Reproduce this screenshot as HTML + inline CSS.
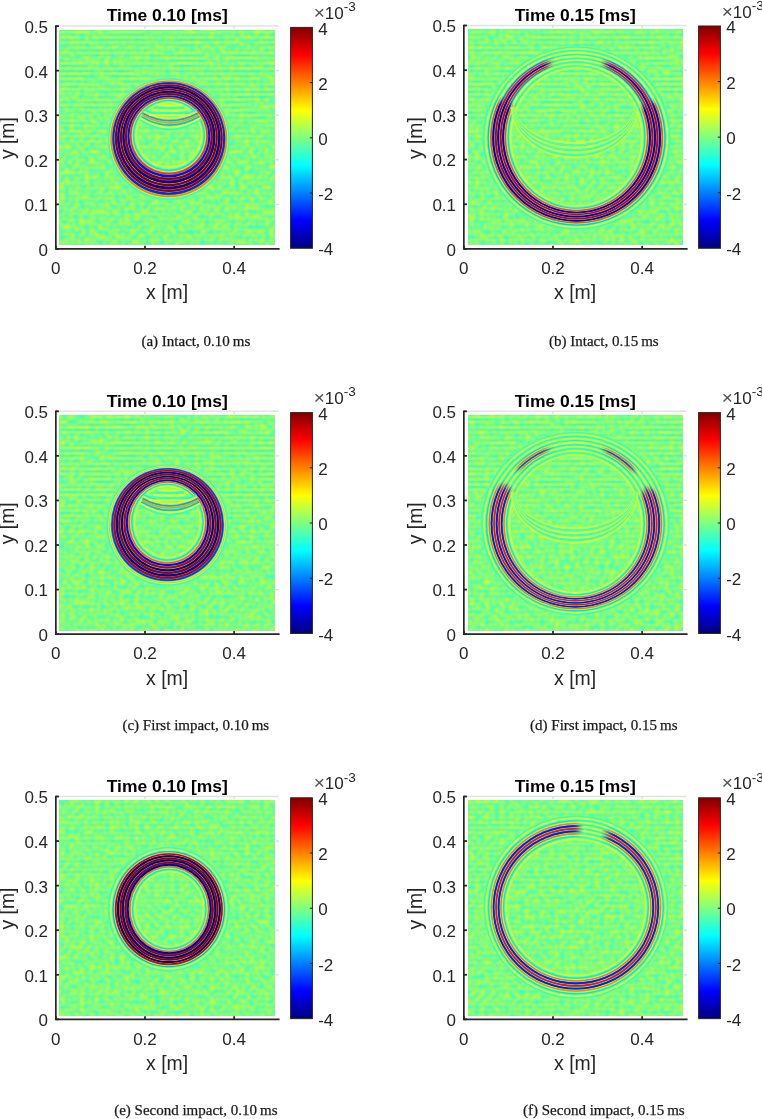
<!DOCTYPE html><html><head><meta charset="utf-8"><style>
html,body{margin:0;padding:0;background:#fff;}
svg{display:block}
.tk{font-family:"Liberation Sans",Arial,sans-serif;font-size:17px;fill:#262626}
.lb{font-family:"Liberation Sans",Arial,sans-serif;font-size:19.4px;fill:#262626}
.tt{font-family:"Liberation Sans",Arial,sans-serif;font-size:17px;font-weight:bold;fill:#000}
.cp{font-family:"Liberation Serif","Times New Roman",serif;font-size:15px;fill:#1a1a1a;stroke:#1a1a1a;stroke-width:0.25px}
</style></head><body>
<svg width="762" height="1119" viewBox="0 0 762 1119">
<defs><filter id="blur" x="-10%" y="-10%" width="120%" height="120%"><feGaussianBlur stdDeviation="0.45"/></filter>
<filter id="soft" x="-20%" y="-20%" width="140%" height="140%"><feGaussianBlur stdDeviation="5"/></filter>
<filter id="soft2" x="-20%" y="-20%" width="140%" height="140%"><feGaussianBlur stdDeviation="2"/></filter>
<linearGradient id="jet" x1="0" y1="0" x2="0" y2="1"><stop offset="0.0000" stop-color="#800000"/><stop offset="0.1250" stop-color="#ff0000"/><stop offset="0.3750" stop-color="#ffff00"/><stop offset="0.6250" stop-color="#00ffff"/><stop offset="0.8750" stop-color="#0000ff"/><stop offset="1.0000" stop-color="#000080"/></linearGradient><filter id="tia" x="0" y="0" width="1" height="1" color-interpolation-filters="sRGB"><feTurbulence type="fractalNoise" baseFrequency="0.2 0.2" numOctaves="1" seed="1"/><feGaussianBlur stdDeviation="0.6"/><feColorMatrix type="matrix" values="0.8 0 0 0 0.09999999999999998  0 0 0 0 0.99  -0.8 0 0 0 0.9  0 0 0 0 1"/></filter><filter id="tsa" x="0" y="0" width="1" height="1" color-interpolation-filters="sRGB"><feTurbulence type="fractalNoise" baseFrequency="0.035 0.09" numOctaves="1" seed="3" result="n"/><feColorMatrix in="n" type="matrix" values="0 0 0 0 0  0 0 0 0 0  0 0 0 0 0  2.6 0 0 0 -0.75" result="al"/><feGaussianBlur in="SourceGraphic" stdDeviation="0.5" result="sg"/><feComposite in="sg" in2="al" operator="in"/></filter><filter id="tib" x="0" y="0" width="1" height="1" color-interpolation-filters="sRGB"><feTurbulence type="fractalNoise" baseFrequency="0.2 0.2" numOctaves="1" seed="8"/><feGaussianBlur stdDeviation="0.6"/><feColorMatrix type="matrix" values="0.8 0 0 0 0.09999999999999998  0 0 0 0 0.99  -0.8 0 0 0 0.9  0 0 0 0 1"/></filter><filter id="tsb" x="0" y="0" width="1" height="1" color-interpolation-filters="sRGB"><feTurbulence type="fractalNoise" baseFrequency="0.035 0.09" numOctaves="1" seed="10" result="n"/><feColorMatrix in="n" type="matrix" values="0 0 0 0 0  0 0 0 0 0  0 0 0 0 0  2.6 0 0 0 -0.75" result="al"/><feGaussianBlur in="SourceGraphic" stdDeviation="0.5" result="sg"/><feComposite in="sg" in2="al" operator="in"/></filter><filter id="tic" x="0" y="0" width="1" height="1" color-interpolation-filters="sRGB"><feTurbulence type="fractalNoise" baseFrequency="0.2 0.2" numOctaves="1" seed="15"/><feGaussianBlur stdDeviation="0.6"/><feColorMatrix type="matrix" values="0.8 0 0 0 0.09999999999999998  0 0 0 0 0.99  -0.8 0 0 0 0.9  0 0 0 0 1"/></filter><filter id="tsc" x="0" y="0" width="1" height="1" color-interpolation-filters="sRGB"><feTurbulence type="fractalNoise" baseFrequency="0.035 0.09" numOctaves="1" seed="17" result="n"/><feColorMatrix in="n" type="matrix" values="0 0 0 0 0  0 0 0 0 0  0 0 0 0 0  2.6 0 0 0 -0.75" result="al"/><feGaussianBlur in="SourceGraphic" stdDeviation="0.5" result="sg"/><feComposite in="sg" in2="al" operator="in"/></filter><filter id="tid" x="0" y="0" width="1" height="1" color-interpolation-filters="sRGB"><feTurbulence type="fractalNoise" baseFrequency="0.2 0.2" numOctaves="1" seed="22"/><feGaussianBlur stdDeviation="0.6"/><feColorMatrix type="matrix" values="0.8 0 0 0 0.09999999999999998  0 0 0 0 0.99  -0.8 0 0 0 0.9  0 0 0 0 1"/></filter><filter id="tsd" x="0" y="0" width="1" height="1" color-interpolation-filters="sRGB"><feTurbulence type="fractalNoise" baseFrequency="0.035 0.09" numOctaves="1" seed="24" result="n"/><feColorMatrix in="n" type="matrix" values="0 0 0 0 0  0 0 0 0 0  0 0 0 0 0  2.6 0 0 0 -0.75" result="al"/><feGaussianBlur in="SourceGraphic" stdDeviation="0.5" result="sg"/><feComposite in="sg" in2="al" operator="in"/></filter><filter id="tie" x="0" y="0" width="1" height="1" color-interpolation-filters="sRGB"><feTurbulence type="fractalNoise" baseFrequency="0.2 0.2" numOctaves="1" seed="29"/><feGaussianBlur stdDeviation="0.6"/><feColorMatrix type="matrix" values="0.8 0 0 0 0.09999999999999998  0 0 0 0 0.99  -0.8 0 0 0 0.9  0 0 0 0 1"/></filter><filter id="tse" x="0" y="0" width="1" height="1" color-interpolation-filters="sRGB"><feTurbulence type="fractalNoise" baseFrequency="0.035 0.09" numOctaves="1" seed="31" result="n"/><feColorMatrix in="n" type="matrix" values="0 0 0 0 0  0 0 0 0 0  0 0 0 0 0  2.6 0 0 0 -0.75" result="al"/><feGaussianBlur in="SourceGraphic" stdDeviation="0.5" result="sg"/><feComposite in="sg" in2="al" operator="in"/></filter><filter id="tif" x="0" y="0" width="1" height="1" color-interpolation-filters="sRGB"><feTurbulence type="fractalNoise" baseFrequency="0.2 0.2" numOctaves="1" seed="36"/><feGaussianBlur stdDeviation="0.6"/><feColorMatrix type="matrix" values="0.8 0 0 0 0.09999999999999998  0 0 0 0 0.99  -0.8 0 0 0 0.9  0 0 0 0 1"/></filter><filter id="tsf" x="0" y="0" width="1" height="1" color-interpolation-filters="sRGB"><feTurbulence type="fractalNoise" baseFrequency="0.035 0.09" numOctaves="1" seed="38" result="n"/><feColorMatrix in="n" type="matrix" values="0 0 0 0 0  0 0 0 0 0  0 0 0 0 0  2.6 0 0 0 -0.75" result="al"/><feGaussianBlur in="SourceGraphic" stdDeviation="0.5" result="sg"/><feComposite in="sg" in2="al" operator="in"/></filter><pattern id="hs0" patternUnits="userSpaceOnUse" x="0" y="0" width="9" height="5.2"><rect x="0" y="0" width="9" height="1.9" fill="#c0ff40"/><rect x="0" y="1.9" width="9" height="0.7" fill="#80ff80"/><rect x="0" y="2.6" width="9" height="1.9" fill="#40f0c0"/><rect x="0" y="4.5" width="9" height="0.7" fill="#80ff80"/></pattern><pattern id="hs1" patternUnits="userSpaceOnUse" x="0" y="0" width="9" height="5.2"><rect x="0" y="0" width="9" height="1.9" fill="#c0ff40"/><rect x="0" y="1.9" width="9" height="0.7" fill="#80ff80"/><rect x="0" y="2.6" width="9" height="1.9" fill="#40f0c0"/><rect x="0" y="4.5" width="9" height="0.7" fill="#80ff80"/></pattern></defs>
<rect x="59.45" y="30.10" width="215.05" height="214.80" fill="#80fc80" filter="url(#tia)"/>
<g mask="url(#vma)"><rect x="59.45" y="30.10" width="215.05" height="214.80" fill="url(#hs0)" filter="url(#tsa)"/></g>
<linearGradient id="vga" x1="0" y1="0" x2="0" y2="1"><stop offset="0" stop-color="#fff" stop-opacity="0.65"/><stop offset="0.3" stop-color="#fff" stop-opacity="0.65"/><stop offset="0.6" stop-color="#fff" stop-opacity="0.15"/><stop offset="1" stop-color="#fff" stop-opacity="0.15"/></linearGradient>
<mask id="vma"><rect x="59.45" y="30.10" width="215.05" height="214.80" fill="url(#vga)"/></mask>
<g clip-path="url(#clipa)"><clipPath id="anna"><path clip-rule="evenodd" d="M107.15 139.31A61.63 61.66 0 1 0 230.42 139.31A61.63 61.66 0 1 0 107.15 139.31ZM137.65 134.79A31.26 30.67 0 1 0 200.16 134.79A31.26 30.67 0 1 0 137.65 134.79Z"/></clipPath><g clip-path="url(#anna)"><g filter="url(#blur)"><ellipse cx="168.79" cy="139.23" rx="61.14" ry="61.15" fill="#57ffa8"/>
<ellipse cx="168.79" cy="139.19" rx="60.84" ry="60.85" fill="#4bffb4"/>
<ellipse cx="168.79" cy="139.14" rx="60.54" ry="60.55" fill="#38ffc7"/>
<ellipse cx="168.79" cy="139.10" rx="60.25" ry="60.24" fill="#2affd5"/>
<ellipse cx="168.79" cy="139.05" rx="59.95" ry="59.94" fill="#28ffd7"/>
<ellipse cx="168.79" cy="139.01" rx="59.65" ry="59.64" fill="#46ffb9"/>
<ellipse cx="168.79" cy="138.97" rx="59.35" ry="59.33" fill="#81ff7e"/>
<ellipse cx="168.80" cy="138.92" rx="59.06" ry="59.03" fill="#cfff30"/>
<ellipse cx="168.80" cy="138.88" rx="58.76" ry="58.73" fill="#ffe100"/>
<ellipse cx="168.80" cy="138.83" rx="58.46" ry="58.43" fill="#ffa300"/>
<ellipse cx="168.80" cy="138.79" rx="58.17" ry="58.12" fill="#ff8200"/>
<ellipse cx="168.80" cy="138.75" rx="57.87" ry="57.82" fill="#ff8000"/>
<ellipse cx="168.80" cy="138.61" rx="56.98" ry="56.91" fill="#ffc300"/>
<ellipse cx="168.80" cy="138.57" rx="56.68" ry="56.61" fill="#00a5ff"/>
<ellipse cx="168.81" cy="138.52" rx="56.38" ry="56.30" fill="#0026ff"/>
<ellipse cx="168.81" cy="138.26" rx="54.60" ry="54.49" fill="#0029ff"/>
<ellipse cx="168.81" cy="138.22" rx="54.31" ry="54.18" fill="#d9ff26"/>
<ellipse cx="168.82" cy="138.17" rx="54.01" ry="53.88" fill="#930000"/>
<ellipse cx="168.82" cy="137.86" rx="51.93" ry="51.76" fill="#ff7e00"/>
<ellipse cx="168.83" cy="137.82" rx="51.63" ry="51.46" fill="#0002ff"/>
<ellipse cx="168.83" cy="137.77" rx="51.34" ry="51.15" fill="#0000ac"/>
<ellipse cx="168.83" cy="137.51" rx="49.55" ry="49.34" fill="#0000de"/>
<ellipse cx="168.83" cy="137.47" rx="49.26" ry="49.03" fill="#ffb800"/>
<ellipse cx="168.84" cy="137.42" rx="48.96" ry="48.73" fill="#8c0000"/>
<ellipse cx="168.84" cy="137.11" rx="46.88" ry="46.61" fill="#e5ff1a"/>
<ellipse cx="168.85" cy="137.07" rx="46.58" ry="46.31" fill="#0000b6"/>
<ellipse cx="168.85" cy="137.02" rx="46.29" ry="46.00" fill="#0000a6"/>
<ellipse cx="168.85" cy="136.76" rx="44.50" ry="44.19" fill="#003cff"/>
<ellipse cx="168.85" cy="136.72" rx="44.21" ry="43.88" fill="#ff3600"/>
<ellipse cx="168.86" cy="136.67" rx="43.91" ry="43.58" fill="#990000"/>
<ellipse cx="168.86" cy="136.41" rx="42.13" ry="41.76" fill="#a50000"/>
<ellipse cx="168.86" cy="136.36" rx="41.83" ry="41.46" fill="#73ff8c"/>
<ellipse cx="168.87" cy="136.32" rx="41.53" ry="41.16" fill="#000dff"/>
<ellipse cx="168.87" cy="136.01" rx="39.45" ry="39.03" fill="#00e0ff"/>
<ellipse cx="168.88" cy="135.96" rx="39.16" ry="38.73" fill="#ff5b00"/>
<ellipse cx="168.88" cy="135.92" rx="38.86" ry="38.43" fill="#ff3300"/>
<ellipse cx="168.88" cy="135.79" rx="37.97" ry="37.52" fill="#ff3800"/>
<ellipse cx="168.88" cy="135.74" rx="37.67" ry="37.22" fill="#ff5b00"/>
<ellipse cx="168.88" cy="135.70" rx="37.38" ry="36.91" fill="#ff9b00"/>
<ellipse cx="168.88" cy="135.66" rx="37.08" ry="36.61" fill="#ffef00"/>
<ellipse cx="168.88" cy="135.61" rx="36.78" ry="36.31" fill="#b2ff4d"/>
<ellipse cx="168.89" cy="135.57" rx="36.48" ry="36.00" fill="#5affa5"/>
<ellipse cx="168.89" cy="135.52" rx="36.19" ry="35.70" fill="#13ffec"/>
<ellipse cx="168.89" cy="135.48" rx="35.89" ry="35.40" fill="#00e5ff"/>
<ellipse cx="168.89" cy="135.44" rx="35.59" ry="35.10" fill="#00d9ff"/>
<ellipse cx="168.89" cy="135.39" rx="35.30" ry="34.79" fill="#00e5ff"/>
<ellipse cx="168.89" cy="135.35" rx="35.00" ry="34.49" fill="#03fffc"/>
<ellipse cx="168.89" cy="135.30" rx="34.70" ry="34.19" fill="#2dffd2"/>
<ellipse cx="168.89" cy="135.26" rx="34.41" ry="33.88" fill="#5effa1"/>
<ellipse cx="168.90" cy="135.21" rx="34.11" ry="33.58" fill="#8fff70"/>
<ellipse cx="168.90" cy="135.17" rx="33.81" ry="33.28" fill="#b9ff46"/>
<ellipse cx="168.90" cy="135.13" rx="33.51" ry="32.97" fill="#d7ff28"/>
<ellipse cx="168.90" cy="135.08" rx="33.22" ry="32.67" fill="#e5ff1a"/>
<ellipse cx="168.90" cy="135.04" rx="32.92" ry="32.37" fill="#e1ff1e"/>
<ellipse cx="168.90" cy="134.99" rx="32.62" ry="32.07" fill="#d0ff2f"/>
<ellipse cx="168.90" cy="134.95" rx="32.33" ry="31.76" fill="#b7ff48"/>
<ellipse cx="168.90" cy="134.91" rx="32.03" ry="31.46" fill="#9cff63"/>
<ellipse cx="168.91" cy="134.86" rx="31.73" ry="31.16" fill="#88ff77"/>
<ellipse cx="168.91" cy="134.82" rx="31.44" ry="30.85" fill="#80ff7f"/></g></g><g filter="url(#blur)"><path d="M144.07 109.70Q169.35 122.30 196.63 109.70" fill="none" stroke="#00ffff" stroke-width="1.7"/><path d="M143.35 111.50Q169.35 125.30 197.35 111.50" fill="none" stroke="#ffe500" stroke-width="1.7"/><path d="M142.66 113.22Q169.35 128.18 198.04 113.22" fill="none" stroke="#00a6ff" stroke-width="1.7"/><path d="M142.03 114.80Q169.35 130.80 198.67 114.80" fill="none" stroke="#ff9900" stroke-width="1.7"/><path d="M141.31 116.60Q169.35 133.80 199.39 116.60" fill="none" stroke="#00bfff" stroke-width="1.7"/><path d="M140.62 118.33Q169.35 136.68 200.08 118.33" fill="none" stroke="#f2ff0d" stroke-width="1.7"/><path d="M139.99 119.90Q169.35 139.30 200.71 119.90" fill="none" stroke="#26ffd9" stroke-width="1.7"/><path d="M158.00 104.90Q169.85 106.40 181.70 104.90" fill="none" stroke="#ffff00" stroke-width="2" opacity="0.8"/><path d="M155.75 107.40Q169.85 108.90 183.95 107.40" fill="none" stroke="#0dfff2" stroke-width="2" opacity="0.8"/><path d="M153.50 109.90Q169.85 111.40 186.20 109.90" fill="none" stroke="#ffff00" stroke-width="2" opacity="0.8"/><path d="M151.25 112.40Q169.85 113.90 188.45 112.40" fill="none" stroke="#0dfff2" stroke-width="2" opacity="0.8"/><path d="M149.09 114.80Q169.85 116.30 190.61 114.80" fill="none" stroke="#f2ff0d" stroke-width="2" opacity="0.8"/></g></g>
<clipPath id="clipa"><rect x="59.45" y="30.10" width="215.05" height="214.80"/></clipPath>
<path d="M55.85 26.10H278.70" fill="none" stroke="#e2e2e2" stroke-width="1.5"/>
<path d="M278.70 26.10V248.95" fill="none" stroke="#f4f4f4" stroke-width="1"/>
<path d="M55.85 25.30V248.95H279.60" fill="none" stroke="#262626" stroke-width="1.7"/>
<path d="M55.85 248.95h3.1" stroke="#262626" stroke-width="1.8"/>
<text x="48.05" y="255.85" text-anchor="end" class="tk">0</text>
<path d="M55.85 204.38h3.1" stroke="#262626" stroke-width="1.8"/>
<path d="M278.70 204.38h-2.8" stroke="#d8d8d8" stroke-width="1.2"/>
<text x="48.05" y="211.28" text-anchor="end" class="tk">0.1</text>
<path d="M55.85 159.81h3.1" stroke="#262626" stroke-width="1.8"/>
<path d="M278.70 159.81h-2.8" stroke="#d8d8d8" stroke-width="1.2"/>
<text x="48.05" y="166.71" text-anchor="end" class="tk">0.2</text>
<path d="M55.85 115.24h3.1" stroke="#262626" stroke-width="1.8"/>
<path d="M278.70 115.24h-2.8" stroke="#d8d8d8" stroke-width="1.2"/>
<text x="48.05" y="122.14" text-anchor="end" class="tk">0.3</text>
<path d="M55.85 70.67h3.1" stroke="#262626" stroke-width="1.8"/>
<path d="M278.70 70.67h-2.8" stroke="#d8d8d8" stroke-width="1.2"/>
<text x="48.05" y="77.57" text-anchor="end" class="tk">0.4</text>
<path d="M55.85 26.10h3.1" stroke="#262626" stroke-width="1.8"/>
<text x="48.05" y="33.00" text-anchor="end" class="tk">0.5</text>
<path d="M55.85 248.95v-3.1" stroke="#262626" stroke-width="1.8"/>
<text x="55.85" y="274.25" text-anchor="middle" class="tk">0</text>
<path d="M144.99 248.95v-3.1" stroke="#262626" stroke-width="1.8"/>
<path d="M144.99 26.10v2.8" stroke="#d8d8d8" stroke-width="1.2"/>
<text x="144.99" y="274.25" text-anchor="middle" class="tk">0.2</text>
<path d="M234.13 248.95v-3.1" stroke="#262626" stroke-width="1.8"/>
<path d="M234.13 26.10v2.8" stroke="#d8d8d8" stroke-width="1.2"/>
<text x="234.13" y="274.25" text-anchor="middle" class="tk">0.4</text>
<text x="167.08" y="299.35" text-anchor="middle" class="lb">x [m]</text>
<text transform="translate(13.95 138.12) rotate(-90)" text-anchor="middle" class="lb">y [m]</text>
<text x="167.28" y="21.40" text-anchor="middle" class="tt" textLength="121" lengthAdjust="spacingAndGlyphs">Time 0.10 [ms]</text>
<rect x="290.60" y="27.40" width="21.80" height="220.85" fill="url(#jet)" stroke="#262626" stroke-width="1"/>
<text x="318.20" y="34.60" class="tk">4</text>
<text x="318.20" y="89.81" class="tk">2</text>
<path d="M312.40 82.61h-2.6" stroke="#262626" stroke-width="1.1"/>
<text x="318.20" y="145.02" class="tk">0</text>
<path d="M312.40 137.82h-2.6" stroke="#262626" stroke-width="1.1"/>
<text x="318.20" y="200.24" class="tk">-2</text>
<path d="M312.40 193.04h-2.6" stroke="#262626" stroke-width="1.1"/>
<text x="318.20" y="255.45" class="tk">-4</text>
<text x="313.70" y="18.70" class="tk"><tspan font-size="19" fill="#505050">×</tspan>10<tspan dy="-7.6" font-size="13.5">-3</tspan></text>
<text x="195.85" y="345.60" text-anchor="middle" class="cp">(a) Intact, 0.10 ms</text>
<rect x="468.25" y="29.50" width="214.25" height="215.40" fill="#80fc80" filter="url(#tib)"/>
<g mask="url(#vmb)"><rect x="468.25" y="29.50" width="214.25" height="215.40" fill="url(#hs1)" filter="url(#tsb)"/></g>
<linearGradient id="vgb" x1="0" y1="0" x2="0" y2="1"><stop offset="0" stop-color="#fff" stop-opacity="0.6"/><stop offset="0.3" stop-color="#fff" stop-opacity="0.6"/><stop offset="0.6" stop-color="#fff" stop-opacity="0.2"/><stop offset="1" stop-color="#fff" stop-opacity="0.2"/></linearGradient>
<mask id="vmb"><rect x="468.25" y="29.50" width="214.25" height="215.40" fill="url(#vgb)"/></mask>
<g clip-path="url(#clipb)"><clipPath id="annb"><path clip-rule="evenodd" d="M482.08 138.03A94.59 92.22 0 1 0 671.26 138.03A94.59 92.22 0 1 0 482.08 138.03ZM512.34 136.99A64.15 67.64 0 1 0 640.64 136.99A64.15 67.64 0 1 0 512.34 136.99Z"/></clipPath><g clip-path="url(#annb)"><mask id="mbs" maskUnits="userSpaceOnUse" x="0" y="0" width="762" height="1119"><g filter="url(#soft2)"><path d="M576.6 137.9 L436.7 136.4 L436.8 144.3Z" fill="#ffffff"/><path d="M576.6 137.9 L436.7 141.3 L437.1 149.1Z" fill="#ffffff"/><path d="M576.6 137.9 L436.9 146.2 L437.6 154.0Z" fill="#ffffff"/><path d="M576.6 137.9 L437.3 151.1 L438.2 158.8Z" fill="#ffffff"/><path d="M576.6 137.9 L437.8 155.9 L439.0 163.7Z" fill="#ffffff"/><path d="M576.6 137.9 L438.5 160.8 L440.0 168.4Z" fill="#ffffff"/><path d="M576.6 137.9 L439.4 165.6 L441.2 173.2Z" fill="#ffffff"/><path d="M576.6 137.9 L440.5 170.3 L442.5 177.9Z" fill="#ffffff"/><path d="M576.6 137.9 L441.7 175.1 L444.0 182.6Z" fill="#ffffff"/><path d="M576.6 137.9 L443.1 179.8 L445.6 187.2Z" fill="#ffffff"/><path d="M576.6 137.9 L444.6 184.4 L447.4 191.7Z" fill="#ffffff"/><path d="M576.6 137.9 L446.3 189.0 L449.4 196.2Z" fill="#ffffff"/><path d="M576.6 137.9 L448.2 193.5 L451.5 200.6Z" fill="#ffffff"/><path d="M576.6 137.9 L450.2 198.0 L453.7 204.9Z" fill="#ffffff"/><path d="M576.6 137.9 L452.4 202.3 L456.1 209.2Z" fill="#ffffff"/><path d="M576.6 137.9 L454.7 206.6 L458.7 213.3Z" fill="#ffffff"/><path d="M576.6 137.9 L457.2 210.8 L461.4 217.4Z" fill="#ffffff"/><path d="M576.6 137.9 L459.8 215.0 L464.3 221.4Z" fill="#ffffff"/><path d="M576.6 137.9 L462.5 219.0 L467.2 225.2Z" fill="#ffffff"/><path d="M576.6 137.9 L465.4 222.9 L470.4 229.0Z" fill="#ffffff"/><path d="M576.6 137.9 L468.5 226.8 L473.6 232.7Z" fill="#ffffff"/><path d="M576.6 137.9 L471.6 230.5 L477.0 236.2Z" fill="#ffffff"/><path d="M576.6 137.9 L474.9 234.1 L480.5 239.6Z" fill="#ffffff"/><path d="M576.6 137.9 L478.3 237.6 L484.1 242.9Z" fill="#ffffff"/><path d="M576.6 137.9 L481.9 241.0 L487.8 246.1Z" fill="#ffffff"/><path d="M576.6 137.9 L485.5 244.2 L491.6 249.1Z" fill="#ffffff"/><path d="M576.6 137.9 L489.3 247.3 L495.6 252.0Z" fill="#ffffff"/><path d="M576.6 137.9 L493.2 250.3 L499.6 254.8Z" fill="#ffffff"/><path d="M576.6 137.9 L497.2 253.1 L503.7 257.4Z" fill="#ffffff"/><path d="M576.6 137.9 L501.2 255.8 L507.9 259.9Z" fill="#ffffff"/><path d="M576.6 137.9 L505.4 258.4 L512.2 262.2Z" fill="#ffffff"/><path d="M576.6 137.9 L509.6 260.8 L516.6 264.4Z" fill="#ffffff"/><path d="M576.6 137.9 L514.0 263.1 L521.0 266.4Z" fill="#ffffff"/><path d="M576.6 137.9 L518.4 265.2 L525.6 268.2Z" fill="#ffffff"/><path d="M576.6 137.9 L522.8 267.1 L530.1 270.0Z" fill="#ffffff"/><path d="M576.6 137.9 L527.4 268.9 L534.8 271.5Z" fill="#ffffff"/><path d="M576.6 137.9 L532.0 270.6 L539.5 272.9Z" fill="#ffffff"/><path d="M576.6 137.9 L536.7 272.1 L544.2 274.1Z" fill="#ffffff"/><path d="M576.6 137.9 L541.4 273.4 L549.0 275.1Z" fill="#ffffff"/><path d="M576.6 137.9 L546.1 274.5 L553.8 276.0Z" fill="#ffffff"/><path d="M576.6 137.9 L550.9 275.5 L558.6 276.7Z" fill="#ffffff"/><path d="M576.6 137.9 L555.7 276.3 L563.5 277.3Z" fill="#ffffff"/><path d="M576.6 137.9 L560.6 277.0 L568.3 277.7Z" fill="#ffffff"/><path d="M576.6 137.9 L565.4 277.4 L573.2 277.9Z" fill="#ffffff"/><path d="M576.6 137.9 L570.3 277.8 L578.1 277.9Z" fill="#ffffff"/><path d="M576.6 137.9 L575.2 277.9 L583.0 277.8Z" fill="#ffffff"/><path d="M576.6 137.9 L580.1 277.9 L587.9 277.4Z" fill="#ffffff"/><path d="M576.6 137.9 L585.0 277.7 L592.7 277.0Z" fill="#ffffff"/><path d="M576.6 137.9 L589.8 277.3 L597.6 276.3Z" fill="#ffffff"/><path d="M576.6 137.9 L594.7 276.7 L602.4 275.5Z" fill="#ffffff"/><path d="M576.6 137.9 L599.5 276.0 L607.2 274.5Z" fill="#ffffff"/><path d="M576.6 137.9 L604.3 275.1 L611.9 273.4Z" fill="#ffffff"/><path d="M576.6 137.9 L609.1 274.1 L616.6 272.1Z" fill="#ffffff"/><path d="M576.6 137.9 L613.8 272.9 L621.3 270.6Z" fill="#ffffff"/><path d="M576.6 137.9 L618.5 271.5 L625.9 268.9Z" fill="#ffffff"/><path d="M576.6 137.9 L623.2 270.0 L630.5 267.1Z" fill="#ffffff"/><path d="M576.6 137.9 L627.7 268.2 L634.9 265.2Z" fill="#ffffff"/><path d="M576.6 137.9 L632.3 266.4 L639.3 263.1Z" fill="#ffffff"/><path d="M576.6 137.9 L636.7 264.4 L643.7 260.8Z" fill="#ffffff"/><path d="M576.6 137.9 L641.1 262.2 L647.9 258.4Z" fill="#ffffff"/><path d="M576.6 137.9 L645.4 259.9 L652.1 255.8Z" fill="#ffffff"/><path d="M576.6 137.9 L649.6 257.4 L656.1 253.1Z" fill="#ffffff"/><path d="M576.6 137.9 L653.7 254.8 L660.1 250.3Z" fill="#ffffff"/><path d="M576.6 137.9 L657.7 252.0 L664.0 247.3Z" fill="#ffffff"/><path d="M576.6 137.9 L661.7 249.1 L667.8 244.2Z" fill="#ffffff"/><path d="M576.6 137.9 L665.5 246.1 L671.4 241.0Z" fill="#ffffff"/><path d="M576.6 137.9 L669.2 242.9 L675.0 237.6Z" fill="#ffffff"/><path d="M576.6 137.9 L672.8 239.6 L678.4 234.1Z" fill="#ffffff"/><path d="M576.6 137.9 L676.3 236.2 L681.7 230.5Z" fill="#ffffff"/><path d="M576.6 137.9 L679.7 232.7 L684.8 226.8Z" fill="#ffffff"/><path d="M576.6 137.9 L682.9 229.0 L687.9 222.9Z" fill="#ffffff"/><path d="M576.6 137.9 L686.1 225.2 L690.8 219.0Z" fill="#ffffff"/><path d="M576.6 137.9 L689.0 221.4 L693.5 215.0Z" fill="#ffffff"/><path d="M576.6 137.9 L691.9 217.4 L696.1 210.8Z" fill="#ffffff"/><path d="M576.6 137.9 L694.6 213.3 L698.6 206.6Z" fill="#ffffff"/><path d="M576.6 137.9 L697.2 209.2 L700.9 202.3Z" fill="#ffffff"/><path d="M576.6 137.9 L699.6 204.9 L703.1 198.0Z" fill="#ffffff"/><path d="M576.6 137.9 L701.8 200.6 L705.1 193.5Z" fill="#ffffff"/><path d="M576.6 137.9 L703.9 196.2 L707.0 189.0Z" fill="#ffffff"/><path d="M576.6 137.9 L705.9 191.7 L708.7 184.4Z" fill="#ffffff"/><path d="M576.6 137.9 L707.7 187.2 L710.2 179.8Z" fill="#ffffff"/><path d="M576.6 137.9 L709.3 182.6 L711.6 175.1Z" fill="#ffffff"/><path d="M576.6 137.9 L710.8 177.9 L712.8 170.3Z" fill="#ffffff"/><path d="M576.6 137.9 L712.1 173.2 L713.9 165.6Z" fill="#ffffff"/><path d="M576.6 137.9 L713.3 168.4 L714.8 160.8Z" fill="#ffffff"/><path d="M576.6 137.9 L714.3 163.7 L715.5 155.9Z" fill="#ffffff"/><path d="M576.6 137.9 L715.1 158.8 L716.0 151.1Z" fill="#ffffff"/><path d="M576.6 137.9 L715.7 154.0 L716.4 146.2Z" fill="#ffffff"/><path d="M576.6 137.9 L716.2 149.1 L716.6 141.3Z" fill="#ffffff"/><path d="M576.6 137.9 L716.5 144.3 L716.6 136.4Z" fill="#ffffff"/><path d="M576.6 137.9 L716.6 139.4 L716.5 131.5Z" fill="#ffffff"/><path d="M576.6 137.9 L716.6 134.5 L716.2 126.7Z" fill="#ffffff"/><path d="M576.6 137.9 L716.4 129.6 L715.7 121.8Z" fill="#ffffff"/><path d="M576.6 137.9 L716.0 124.7 L715.1 117.0Z" fill="#ffffff"/><path d="M576.6 137.9 L715.5 119.9 L714.3 112.1Z" fill="#ffffff"/><path d="M576.6 137.9 L714.8 115.0 L713.3 107.4Z" fill="#ffffff"/><path d="M576.6 137.9 L713.9 110.2 L712.1 102.6Z" fill="#ffffff"/><path d="M576.6 137.9 L712.8 105.5 L710.8 97.9Z" fill="#ffffff"/><path d="M576.6 137.9 L711.6 100.7 L709.3 93.2Z" fill="#ffffff"/><path d="M576.6 137.9 L710.2 96.0 L707.7 88.6Z" fill="#ffffff"/><path d="M576.6 137.9 L708.7 91.4 L705.9 84.1Z" fill="#ffffff"/><path d="M576.6 137.9 L707.0 86.8 L703.9 79.6Z" fill="#ffffff"/><path d="M576.6 137.9 L705.1 82.3 L701.8 75.2Z" fill="#808080"/><path d="M576.6 137.9 L703.1 77.8 L699.6 70.9Z" fill="#000000"/><path d="M576.6 137.9 L700.9 73.5 L697.2 66.6Z" fill="#000000"/><path d="M576.6 137.9 L698.6 69.2 L694.6 62.5Z" fill="#000000"/><path d="M576.6 137.9 L696.1 65.0 L691.9 58.4Z" fill="#000000"/><path d="M576.6 137.9 L693.5 60.8 L689.0 54.4Z" fill="#000000"/><path d="M576.6 137.9 L690.8 56.8 L686.1 50.6Z" fill="#000000"/><path d="M576.6 137.9 L687.9 52.9 L682.9 46.8Z" fill="#000000"/><path d="M576.6 137.9 L684.8 49.0 L679.7 43.1Z" fill="#000000"/><path d="M576.6 137.9 L681.7 45.3 L676.3 39.6Z" fill="#000000"/><path d="M576.6 137.9 L678.4 41.7 L672.8 36.2Z" fill="#000000"/><path d="M576.6 137.9 L675.0 38.2 L669.2 32.9Z" fill="#000000"/><path d="M576.6 137.9 L671.4 34.8 L665.5 29.7Z" fill="#000000"/><path d="M576.6 137.9 L667.8 31.6 L661.7 26.7Z" fill="#000000"/><path d="M576.6 137.9 L664.0 28.5 L657.7 23.8Z" fill="#000000"/><path d="M576.6 137.9 L660.1 25.5 L653.7 21.0Z" fill="#000000"/><path d="M576.6 137.9 L656.1 22.7 L649.6 18.4Z" fill="#000000"/><path d="M576.6 137.9 L652.1 20.0 L645.4 15.9Z" fill="#000000"/><path d="M576.6 137.9 L647.9 17.4 L641.1 13.6Z" fill="#000000"/><path d="M576.6 137.9 L643.7 15.0 L636.7 11.4Z" fill="#000000"/><path d="M576.6 137.9 L639.3 12.7 L632.3 9.4Z" fill="#000000"/><path d="M576.6 137.9 L634.9 10.6 L627.7 7.6Z" fill="#000000"/><path d="M576.6 137.9 L630.5 8.7 L623.2 5.8Z" fill="#000000"/><path d="M576.6 137.9 L625.9 6.9 L618.5 4.3Z" fill="#000000"/><path d="M576.6 137.9 L621.3 5.2 L613.8 2.9Z" fill="#000000"/><path d="M576.6 137.9 L616.6 3.7 L609.1 1.7Z" fill="#000000"/><path d="M576.6 137.9 L611.9 2.4 L604.3 0.7Z" fill="#000000"/><path d="M576.6 137.9 L607.2 1.3 L599.5 -0.2Z" fill="#000000"/><path d="M576.6 137.9 L602.4 0.3 L594.7 -0.9Z" fill="#000000"/><path d="M576.6 137.9 L597.6 -0.5 L589.8 -1.5Z" fill="#000000"/><path d="M576.6 137.9 L592.7 -1.2 L585.0 -1.9Z" fill="#000000"/><path d="M576.6 137.9 L587.9 -1.6 L580.1 -2.1Z" fill="#000000"/><path d="M576.6 137.9 L583.0 -2.0 L575.2 -2.1Z" fill="#000000"/><path d="M576.6 137.9 L578.1 -2.1 L570.3 -2.0Z" fill="#000000"/><path d="M576.6 137.9 L573.2 -2.1 L565.4 -1.6Z" fill="#000000"/><path d="M576.6 137.9 L568.3 -1.9 L560.6 -1.2Z" fill="#000000"/><path d="M576.6 137.9 L563.5 -1.5 L555.7 -0.5Z" fill="#000000"/><path d="M576.6 137.9 L558.6 -0.9 L550.9 0.3Z" fill="#000000"/><path d="M576.6 137.9 L553.8 -0.2 L546.1 1.3Z" fill="#000000"/><path d="M576.6 137.9 L549.0 0.7 L541.4 2.4Z" fill="#000000"/><path d="M576.6 137.9 L544.2 1.7 L536.7 3.7Z" fill="#000000"/><path d="M576.6 137.9 L539.5 2.9 L532.0 5.2Z" fill="#000000"/><path d="M576.6 137.9 L534.8 4.3 L527.4 6.9Z" fill="#000000"/><path d="M576.6 137.9 L530.1 5.8 L522.8 8.7Z" fill="#000000"/><path d="M576.6 137.9 L525.6 7.6 L518.4 10.6Z" fill="#000000"/><path d="M576.6 137.9 L521.0 9.4 L514.0 12.7Z" fill="#000000"/><path d="M576.6 137.9 L516.6 11.4 L509.6 15.0Z" fill="#000000"/><path d="M576.6 137.9 L512.2 13.6 L505.4 17.4Z" fill="#000000"/><path d="M576.6 137.9 L507.9 15.9 L501.2 20.0Z" fill="#000000"/><path d="M576.6 137.9 L503.7 18.4 L497.2 22.7Z" fill="#000000"/><path d="M576.6 137.9 L499.6 21.0 L493.2 25.5Z" fill="#000000"/><path d="M576.6 137.9 L495.6 23.8 L489.3 28.5Z" fill="#000000"/><path d="M576.6 137.9 L491.6 26.7 L485.5 31.6Z" fill="#000000"/><path d="M576.6 137.9 L487.8 29.7 L481.9 34.8Z" fill="#000000"/><path d="M576.6 137.9 L484.1 32.9 L478.3 38.2Z" fill="#000000"/><path d="M576.6 137.9 L480.5 36.2 L474.9 41.7Z" fill="#000000"/><path d="M576.6 137.9 L477.0 39.6 L471.6 45.3Z" fill="#000000"/><path d="M576.6 137.9 L473.6 43.1 L468.5 49.0Z" fill="#000000"/><path d="M576.6 137.9 L470.4 46.8 L465.4 52.9Z" fill="#000000"/><path d="M576.6 137.9 L467.2 50.6 L462.5 56.8Z" fill="#000000"/><path d="M576.6 137.9 L464.3 54.4 L459.8 60.8Z" fill="#000000"/><path d="M576.6 137.9 L461.4 58.4 L457.2 65.0Z" fill="#000000"/><path d="M576.6 137.9 L458.7 62.5 L454.7 69.2Z" fill="#000000"/><path d="M576.6 137.9 L456.1 66.6 L452.4 73.5Z" fill="#000000"/><path d="M576.6 137.9 L453.7 70.9 L450.2 77.8Z" fill="#000000"/><path d="M576.6 137.9 L451.5 75.2 L448.2 82.3Z" fill="#808080"/><path d="M576.6 137.9 L449.4 79.6 L446.3 86.8Z" fill="#ffffff"/><path d="M576.6 137.9 L447.4 84.1 L444.6 91.4Z" fill="#ffffff"/><path d="M576.6 137.9 L445.6 88.6 L443.1 96.0Z" fill="#ffffff"/><path d="M576.6 137.9 L444.0 93.2 L441.7 100.7Z" fill="#ffffff"/><path d="M576.6 137.9 L442.5 97.9 L440.5 105.5Z" fill="#ffffff"/><path d="M576.6 137.9 L441.2 102.6 L439.4 110.2Z" fill="#ffffff"/><path d="M576.6 137.9 L440.0 107.4 L438.5 115.0Z" fill="#ffffff"/><path d="M576.6 137.9 L439.0 112.1 L437.8 119.9Z" fill="#ffffff"/><path d="M576.6 137.9 L438.2 117.0 L437.3 124.7Z" fill="#ffffff"/><path d="M576.6 137.9 L437.6 121.8 L436.9 129.6Z" fill="#ffffff"/><path d="M576.6 137.9 L437.1 126.7 L436.7 134.5Z" fill="#ffffff"/><path d="M576.6 137.9 L436.8 131.5 L436.7 139.4Z" fill="#ffffff"/></g></mask><g filter="url(#blur)"><ellipse cx="576.67" cy="138.01" rx="94.09" ry="91.82" fill="#57ffa8"/>
<ellipse cx="576.67" cy="138.00" rx="93.76" ry="91.55" fill="#48ffb7"/>
<ellipse cx="576.67" cy="137.99" rx="93.43" ry="91.28" fill="#33ffcc"/>
<ellipse cx="576.66" cy="137.98" rx="93.10" ry="91.02" fill="#27ffd8"/>
<ellipse cx="576.66" cy="137.97" rx="92.77" ry="90.75" fill="#2effd1"/>
<ellipse cx="576.66" cy="137.95" rx="92.43" ry="90.48" fill="#4effb1"/>
<ellipse cx="576.66" cy="137.94" rx="92.10" ry="90.21" fill="#7eff81"/>
<ellipse cx="576.66" cy="137.93" rx="91.77" ry="89.94" fill="#b2ff4d"/>
<ellipse cx="576.65" cy="137.92" rx="91.44" ry="89.67" fill="#ddff22"/>
<ellipse cx="576.65" cy="137.91" rx="91.11" ry="89.41" fill="#f1ff0e"/>
<ellipse cx="576.65" cy="137.90" rx="90.77" ry="89.14" fill="#edff12"/>
<ellipse cx="576.65" cy="137.89" rx="90.44" ry="88.87" fill="#d4ff2b"/>
<ellipse cx="576.65" cy="137.87" rx="90.11" ry="88.60" fill="#acff53"/>
<ellipse cx="576.64" cy="137.86" rx="89.78" ry="88.33" fill="#7bff84"/>
<ellipse cx="576.64" cy="137.85" rx="89.45" ry="88.07" fill="#49ffb6"/>
<ellipse cx="576.64" cy="137.84" rx="89.11" ry="87.80" fill="#20ffdf"/>
<ellipse cx="576.64" cy="137.83" rx="88.78" ry="87.53" fill="#07fff8"/>
<ellipse cx="576.64" cy="137.82" rx="88.45" ry="87.26" fill="#00ffff"/>
<ellipse cx="576.63" cy="137.81" rx="88.12" ry="86.99" fill="#10ffef"/>
<ellipse cx="576.63" cy="137.80" rx="87.79" ry="86.73" fill="#33ffcc"/>
<ellipse cx="576.63" cy="137.78" rx="87.45" ry="86.46" fill="#63ff9c"/>
<ellipse cx="576.63" cy="137.77" rx="87.12" ry="86.19" fill="#98ff67"/>
<ellipse cx="576.63" cy="137.76" rx="86.79" ry="85.92" fill="#c8ff37"/>
<ellipse cx="576.62" cy="137.75" rx="86.46" ry="85.65" fill="#edff12"/>
<ellipse cx="576.62" cy="137.74" rx="86.13" ry="85.39" fill="#feff01"/>
<ellipse cx="576.62" cy="137.73" rx="85.80" ry="85.12" fill="#f9ff06"/>
<ellipse cx="576.62" cy="137.72" rx="85.46" ry="84.85" fill="#dfff20"/>
<ellipse cx="576.62" cy="137.71" rx="85.13" ry="84.58" fill="#b3ff4c"/>
<ellipse cx="576.61" cy="137.69" rx="84.80" ry="84.31" fill="#7dff82"/>
<ellipse cx="576.61" cy="137.68" rx="84.47" ry="84.05" fill="#46ffb9"/>
<ellipse cx="576.61" cy="137.67" rx="84.14" ry="83.78" fill="#18ffe7"/>
<ellipse cx="576.61" cy="137.66" rx="83.80" ry="83.51" fill="#00faff"/>
<ellipse cx="576.61" cy="137.65" rx="83.47" ry="83.24" fill="#00f3ff"/>
<ellipse cx="576.60" cy="137.64" rx="83.14" ry="82.97" fill="#05fffa"/>
<ellipse cx="576.60" cy="137.63" rx="82.81" ry="82.71" fill="#2cffd3"/>
<ellipse cx="576.60" cy="137.61" rx="82.48" ry="82.44" fill="#63ff9c"/>
<ellipse cx="576.60" cy="137.60" rx="82.14" ry="82.17" fill="#9fff60"/>
<ellipse cx="576.60" cy="137.59" rx="81.81" ry="81.90" fill="#d8ff27"/>
<ellipse cx="576.59" cy="137.58" rx="81.48" ry="81.63" fill="#fffc00"/>
<ellipse cx="576.59" cy="137.57" rx="81.15" ry="81.36" fill="#ffe700"/>
<ellipse cx="576.59" cy="137.56" rx="80.82" ry="81.10" fill="#ffeb00"/>
<ellipse cx="576.59" cy="137.55" rx="80.48" ry="80.83" fill="#f7ff08"/>
<ellipse cx="576.59" cy="137.54" rx="80.15" ry="80.56" fill="#c7ff38"/>
<ellipse cx="576.58" cy="137.52" rx="79.82" ry="80.29" fill="#8cff73"/>
<ellipse cx="576.58" cy="137.51" rx="79.49" ry="80.02" fill="#50ffaf"/>
<ellipse cx="576.58" cy="137.50" rx="79.16" ry="79.76" fill="#1dffe2"/>
<ellipse cx="576.58" cy="137.49" rx="78.82" ry="79.49" fill="#00fcff"/>
<ellipse cx="576.58" cy="137.48" rx="78.49" ry="79.22" fill="#00f2ff"/>
<ellipse cx="576.57" cy="137.47" rx="78.16" ry="78.95" fill="#02fffd"/>
<ellipse cx="576.57" cy="137.46" rx="77.83" ry="78.68" fill="#26ffd9"/>
<ellipse cx="576.57" cy="137.45" rx="77.50" ry="78.42" fill="#57ffa8"/>
<ellipse cx="576.57" cy="137.43" rx="77.17" ry="78.15" fill="#8fff70"/>
<ellipse cx="576.57" cy="137.42" rx="76.83" ry="77.88" fill="#c2ff3d"/>
<ellipse cx="576.56" cy="137.41" rx="76.50" ry="77.61" fill="#eaff15"/>
<ellipse cx="576.56" cy="137.40" rx="76.17" ry="77.34" fill="#fdff02"/>
<ellipse cx="576.56" cy="137.39" rx="75.84" ry="77.08" fill="#fbff04"/>
<ellipse cx="576.56" cy="137.38" rx="75.51" ry="76.81" fill="#e3ff1c"/>
<ellipse cx="576.56" cy="137.37" rx="75.17" ry="76.54" fill="#baff45"/>
<ellipse cx="576.55" cy="137.35" rx="74.84" ry="76.27" fill="#86ff79"/>
<ellipse cx="576.55" cy="137.34" rx="74.51" ry="76.00" fill="#52ffad"/>
<ellipse cx="576.55" cy="137.33" rx="74.18" ry="75.74" fill="#26ffd9"/>
<ellipse cx="576.55" cy="137.32" rx="73.85" ry="75.47" fill="#09fff6"/>
<ellipse cx="576.55" cy="137.31" rx="73.51" ry="75.20" fill="#00ffff"/>
<ellipse cx="576.54" cy="137.30" rx="73.18" ry="74.93" fill="#0dfff2"/>
<ellipse cx="576.54" cy="137.29" rx="72.85" ry="74.66" fill="#2cffd3"/>
<ellipse cx="576.54" cy="137.28" rx="72.52" ry="74.39" fill="#59ffa6"/>
<ellipse cx="576.54" cy="137.26" rx="72.19" ry="74.13" fill="#8bff74"/>
<ellipse cx="576.54" cy="137.25" rx="71.85" ry="73.86" fill="#baff45"/>
<ellipse cx="576.53" cy="137.24" rx="71.52" ry="73.59" fill="#deff21"/>
<ellipse cx="576.53" cy="137.23" rx="71.19" ry="73.32" fill="#f1ff0e"/>
<ellipse cx="576.53" cy="137.22" rx="70.86" ry="73.05" fill="#efff10"/>
<ellipse cx="576.53" cy="137.21" rx="70.53" ry="72.79" fill="#dbff24"/>
<ellipse cx="576.53" cy="137.20" rx="70.19" ry="72.52" fill="#b9ff46"/>
<ellipse cx="576.52" cy="137.19" rx="69.86" ry="72.25" fill="#8dff72"/>
<ellipse cx="576.52" cy="137.17" rx="69.53" ry="71.98" fill="#61ff9e"/>
<ellipse cx="576.52" cy="137.16" rx="69.20" ry="71.71" fill="#3bffc4"/>
<ellipse cx="576.52" cy="137.15" rx="68.87" ry="71.45" fill="#21ffde"/>
<ellipse cx="576.52" cy="137.14" rx="68.53" ry="71.18" fill="#1affe5"/>
<ellipse cx="576.51" cy="137.13" rx="68.20" ry="70.91" fill="#23ffdc"/>
<ellipse cx="576.51" cy="137.12" rx="67.87" ry="70.64" fill="#3bffc4"/>
<ellipse cx="576.51" cy="137.11" rx="67.54" ry="70.37" fill="#5effa1"/>
<ellipse cx="576.51" cy="137.09" rx="67.21" ry="70.11" fill="#86ff79"/>
<ellipse cx="576.51" cy="137.08" rx="66.88" ry="69.84" fill="#abff54"/>
<ellipse cx="576.50" cy="137.07" rx="66.54" ry="69.57" fill="#c8ff37"/>
<ellipse cx="576.50" cy="137.06" rx="66.21" ry="69.30" fill="#d7ff28"/>
<ellipse cx="576.50" cy="137.05" rx="65.88" ry="69.03" fill="#d6ff29"/>
<ellipse cx="576.50" cy="137.04" rx="65.55" ry="68.77" fill="#c7ff38"/>
<ellipse cx="576.50" cy="137.03" rx="65.22" ry="68.50" fill="#aeff51"/>
<ellipse cx="576.49" cy="137.02" rx="64.88" ry="68.23" fill="#95ff6a"/>
<ellipse cx="576.49" cy="137.00" rx="64.55" ry="67.96" fill="#83ff7c"/>
<ellipse cx="576.49" cy="136.99" rx="64.22" ry="67.69" fill="#80ff80"/></g><mask id="mbm" maskUnits="userSpaceOnUse" x="0" y="0" width="762" height="1119"><g filter="url(#soft2)"><path d="M576.6 137.9 L436.7 136.4 L436.8 144.3Z" fill="#ffffff"/><path d="M576.6 137.9 L436.7 141.3 L437.1 149.1Z" fill="#ffffff"/><path d="M576.6 137.9 L436.9 146.2 L437.6 154.0Z" fill="#ffffff"/><path d="M576.6 137.9 L437.3 151.1 L438.2 158.8Z" fill="#ffffff"/><path d="M576.6 137.9 L437.8 155.9 L439.0 163.7Z" fill="#ffffff"/><path d="M576.6 137.9 L438.5 160.8 L440.0 168.4Z" fill="#ffffff"/><path d="M576.6 137.9 L439.4 165.6 L441.2 173.2Z" fill="#ffffff"/><path d="M576.6 137.9 L440.5 170.3 L442.5 177.9Z" fill="#ffffff"/><path d="M576.6 137.9 L441.7 175.1 L444.0 182.6Z" fill="#ffffff"/><path d="M576.6 137.9 L443.1 179.8 L445.6 187.2Z" fill="#ffffff"/><path d="M576.6 137.9 L444.6 184.4 L447.4 191.7Z" fill="#ffffff"/><path d="M576.6 137.9 L446.3 189.0 L449.4 196.2Z" fill="#ffffff"/><path d="M576.6 137.9 L448.2 193.5 L451.5 200.6Z" fill="#ffffff"/><path d="M576.6 137.9 L450.2 198.0 L453.7 204.9Z" fill="#ffffff"/><path d="M576.6 137.9 L452.4 202.3 L456.1 209.2Z" fill="#ffffff"/><path d="M576.6 137.9 L454.7 206.6 L458.7 213.3Z" fill="#ffffff"/><path d="M576.6 137.9 L457.2 210.8 L461.4 217.4Z" fill="#ffffff"/><path d="M576.6 137.9 L459.8 215.0 L464.3 221.4Z" fill="#ffffff"/><path d="M576.6 137.9 L462.5 219.0 L467.2 225.2Z" fill="#ffffff"/><path d="M576.6 137.9 L465.4 222.9 L470.4 229.0Z" fill="#ffffff"/><path d="M576.6 137.9 L468.5 226.8 L473.6 232.7Z" fill="#ffffff"/><path d="M576.6 137.9 L471.6 230.5 L477.0 236.2Z" fill="#ffffff"/><path d="M576.6 137.9 L474.9 234.1 L480.5 239.6Z" fill="#ffffff"/><path d="M576.6 137.9 L478.3 237.6 L484.1 242.9Z" fill="#ffffff"/><path d="M576.6 137.9 L481.9 241.0 L487.8 246.1Z" fill="#ffffff"/><path d="M576.6 137.9 L485.5 244.2 L491.6 249.1Z" fill="#ffffff"/><path d="M576.6 137.9 L489.3 247.3 L495.6 252.0Z" fill="#ffffff"/><path d="M576.6 137.9 L493.2 250.3 L499.6 254.8Z" fill="#ffffff"/><path d="M576.6 137.9 L497.2 253.1 L503.7 257.4Z" fill="#ffffff"/><path d="M576.6 137.9 L501.2 255.8 L507.9 259.9Z" fill="#ffffff"/><path d="M576.6 137.9 L505.4 258.4 L512.2 262.2Z" fill="#ffffff"/><path d="M576.6 137.9 L509.6 260.8 L516.6 264.4Z" fill="#ffffff"/><path d="M576.6 137.9 L514.0 263.1 L521.0 266.4Z" fill="#ffffff"/><path d="M576.6 137.9 L518.4 265.2 L525.6 268.2Z" fill="#ffffff"/><path d="M576.6 137.9 L522.8 267.1 L530.1 270.0Z" fill="#ffffff"/><path d="M576.6 137.9 L527.4 268.9 L534.8 271.5Z" fill="#ffffff"/><path d="M576.6 137.9 L532.0 270.6 L539.5 272.9Z" fill="#ffffff"/><path d="M576.6 137.9 L536.7 272.1 L544.2 274.1Z" fill="#ffffff"/><path d="M576.6 137.9 L541.4 273.4 L549.0 275.1Z" fill="#ffffff"/><path d="M576.6 137.9 L546.1 274.5 L553.8 276.0Z" fill="#ffffff"/><path d="M576.6 137.9 L550.9 275.5 L558.6 276.7Z" fill="#ffffff"/><path d="M576.6 137.9 L555.7 276.3 L563.5 277.3Z" fill="#ffffff"/><path d="M576.6 137.9 L560.6 277.0 L568.3 277.7Z" fill="#ffffff"/><path d="M576.6 137.9 L565.4 277.4 L573.2 277.9Z" fill="#ffffff"/><path d="M576.6 137.9 L570.3 277.8 L578.1 277.9Z" fill="#ffffff"/><path d="M576.6 137.9 L575.2 277.9 L583.0 277.8Z" fill="#ffffff"/><path d="M576.6 137.9 L580.1 277.9 L587.9 277.4Z" fill="#ffffff"/><path d="M576.6 137.9 L585.0 277.7 L592.7 277.0Z" fill="#ffffff"/><path d="M576.6 137.9 L589.8 277.3 L597.6 276.3Z" fill="#ffffff"/><path d="M576.6 137.9 L594.7 276.7 L602.4 275.5Z" fill="#ffffff"/><path d="M576.6 137.9 L599.5 276.0 L607.2 274.5Z" fill="#ffffff"/><path d="M576.6 137.9 L604.3 275.1 L611.9 273.4Z" fill="#ffffff"/><path d="M576.6 137.9 L609.1 274.1 L616.6 272.1Z" fill="#ffffff"/><path d="M576.6 137.9 L613.8 272.9 L621.3 270.6Z" fill="#ffffff"/><path d="M576.6 137.9 L618.5 271.5 L625.9 268.9Z" fill="#ffffff"/><path d="M576.6 137.9 L623.2 270.0 L630.5 267.1Z" fill="#ffffff"/><path d="M576.6 137.9 L627.7 268.2 L634.9 265.2Z" fill="#ffffff"/><path d="M576.6 137.9 L632.3 266.4 L639.3 263.1Z" fill="#ffffff"/><path d="M576.6 137.9 L636.7 264.4 L643.7 260.8Z" fill="#ffffff"/><path d="M576.6 137.9 L641.1 262.2 L647.9 258.4Z" fill="#ffffff"/><path d="M576.6 137.9 L645.4 259.9 L652.1 255.8Z" fill="#ffffff"/><path d="M576.6 137.9 L649.6 257.4 L656.1 253.1Z" fill="#ffffff"/><path d="M576.6 137.9 L653.7 254.8 L660.1 250.3Z" fill="#ffffff"/><path d="M576.6 137.9 L657.7 252.0 L664.0 247.3Z" fill="#ffffff"/><path d="M576.6 137.9 L661.7 249.1 L667.8 244.2Z" fill="#ffffff"/><path d="M576.6 137.9 L665.5 246.1 L671.4 241.0Z" fill="#ffffff"/><path d="M576.6 137.9 L669.2 242.9 L675.0 237.6Z" fill="#ffffff"/><path d="M576.6 137.9 L672.8 239.6 L678.4 234.1Z" fill="#ffffff"/><path d="M576.6 137.9 L676.3 236.2 L681.7 230.5Z" fill="#ffffff"/><path d="M576.6 137.9 L679.7 232.7 L684.8 226.8Z" fill="#ffffff"/><path d="M576.6 137.9 L682.9 229.0 L687.9 222.9Z" fill="#ffffff"/><path d="M576.6 137.9 L686.1 225.2 L690.8 219.0Z" fill="#ffffff"/><path d="M576.6 137.9 L689.0 221.4 L693.5 215.0Z" fill="#ffffff"/><path d="M576.6 137.9 L691.9 217.4 L696.1 210.8Z" fill="#ffffff"/><path d="M576.6 137.9 L694.6 213.3 L698.6 206.6Z" fill="#ffffff"/><path d="M576.6 137.9 L697.2 209.2 L700.9 202.3Z" fill="#ffffff"/><path d="M576.6 137.9 L699.6 204.9 L703.1 198.0Z" fill="#ffffff"/><path d="M576.6 137.9 L701.8 200.6 L705.1 193.5Z" fill="#ffffff"/><path d="M576.6 137.9 L703.9 196.2 L707.0 189.0Z" fill="#ffffff"/><path d="M576.6 137.9 L705.9 191.7 L708.7 184.4Z" fill="#ffffff"/><path d="M576.6 137.9 L707.7 187.2 L710.2 179.8Z" fill="#ffffff"/><path d="M576.6 137.9 L709.3 182.6 L711.6 175.1Z" fill="#ffffff"/><path d="M576.6 137.9 L710.8 177.9 L712.8 170.3Z" fill="#ffffff"/><path d="M576.6 137.9 L712.1 173.2 L713.9 165.6Z" fill="#ffffff"/><path d="M576.6 137.9 L713.3 168.4 L714.8 160.8Z" fill="#ffffff"/><path d="M576.6 137.9 L714.3 163.7 L715.5 155.9Z" fill="#ffffff"/><path d="M576.6 137.9 L715.1 158.8 L716.0 151.1Z" fill="#ffffff"/><path d="M576.6 137.9 L715.7 154.0 L716.4 146.2Z" fill="#ffffff"/><path d="M576.6 137.9 L716.2 149.1 L716.6 141.3Z" fill="#ffffff"/><path d="M576.6 137.9 L716.5 144.3 L716.6 136.4Z" fill="#ffffff"/><path d="M576.6 137.9 L716.6 139.4 L716.5 131.5Z" fill="#ffffff"/><path d="M576.6 137.9 L716.6 134.5 L716.2 126.7Z" fill="#ffffff"/><path d="M576.6 137.9 L716.4 129.6 L715.7 121.8Z" fill="#ffffff"/><path d="M576.6 137.9 L716.0 124.7 L715.1 117.0Z" fill="#ffffff"/><path d="M576.6 137.9 L715.5 119.9 L714.3 112.1Z" fill="#ffffff"/><path d="M576.6 137.9 L714.8 115.0 L713.3 107.4Z" fill="#ffffff"/><path d="M576.6 137.9 L713.9 110.2 L712.1 102.6Z" fill="#ffffff"/><path d="M576.6 137.9 L712.8 105.5 L710.8 97.9Z" fill="#ffffff"/><path d="M576.6 137.9 L711.6 100.7 L709.3 93.2Z" fill="#ffffff"/><path d="M576.6 137.9 L710.2 96.0 L707.7 88.6Z" fill="#ffffff"/><path d="M576.6 137.9 L708.7 91.4 L705.9 84.1Z" fill="#ffffff"/><path d="M576.6 137.9 L707.0 86.8 L703.9 79.6Z" fill="#ffffff"/><path d="M576.6 137.9 L705.1 82.3 L701.8 75.2Z" fill="#ffffff"/><path d="M576.6 137.9 L703.1 77.8 L699.6 70.9Z" fill="#ffffff"/><path d="M576.6 137.9 L700.9 73.5 L697.2 66.6Z" fill="#ffffff"/><path d="M576.6 137.9 L698.6 69.2 L694.6 62.5Z" fill="#ffffff"/><path d="M576.6 137.9 L696.1 65.0 L691.9 58.4Z" fill="#ffffff"/><path d="M576.6 137.9 L693.5 60.8 L689.0 54.4Z" fill="#ffffff"/><path d="M576.6 137.9 L690.8 56.8 L686.1 50.6Z" fill="#ffffff"/><path d="M576.6 137.9 L687.9 52.9 L682.9 46.8Z" fill="#ffffff"/><path d="M576.6 137.9 L684.8 49.0 L679.7 43.1Z" fill="#ffffff"/><path d="M576.6 137.9 L681.7 45.3 L676.3 39.6Z" fill="#ffffff"/><path d="M576.6 137.9 L678.4 41.7 L672.8 36.2Z" fill="#ffffff"/><path d="M576.6 137.9 L675.0 38.2 L669.2 32.9Z" fill="#ffffff"/><path d="M576.6 137.9 L671.4 34.8 L665.5 29.7Z" fill="#ffffff"/><path d="M576.6 137.9 L667.8 31.6 L661.7 26.7Z" fill="#ffffff"/><path d="M576.6 137.9 L664.0 28.5 L657.7 23.8Z" fill="#ffffff"/><path d="M576.6 137.9 L660.1 25.5 L653.7 21.0Z" fill="#ffffff"/><path d="M576.6 137.9 L656.1 22.7 L649.6 18.4Z" fill="#ffffff"/><path d="M576.6 137.9 L652.1 20.0 L645.4 15.9Z" fill="#ffffff"/><path d="M576.6 137.9 L647.9 17.4 L641.1 13.6Z" fill="#ffffff"/><path d="M576.6 137.9 L643.7 15.0 L636.7 11.4Z" fill="#ffffff"/><path d="M576.6 137.9 L639.3 12.7 L632.3 9.4Z" fill="#ffffff"/><path d="M576.6 137.9 L634.9 10.6 L627.7 7.6Z" fill="#d4d4d4"/><path d="M576.6 137.9 L630.5 8.7 L623.2 5.8Z" fill="#808080"/><path d="M576.6 137.9 L625.9 6.9 L618.5 4.3Z" fill="#2a2a2a"/><path d="M576.6 137.9 L621.3 5.2 L613.8 2.9Z" fill="#000000"/><path d="M576.6 137.9 L616.6 3.7 L609.1 1.7Z" fill="#000000"/><path d="M576.6 137.9 L611.9 2.4 L604.3 0.7Z" fill="#000000"/><path d="M576.6 137.9 L607.2 1.3 L599.5 -0.2Z" fill="#000000"/><path d="M576.6 137.9 L602.4 0.3 L594.7 -0.9Z" fill="#000000"/><path d="M576.6 137.9 L597.6 -0.5 L589.8 -1.5Z" fill="#000000"/><path d="M576.6 137.9 L592.7 -1.2 L585.0 -1.9Z" fill="#000000"/><path d="M576.6 137.9 L587.9 -1.6 L580.1 -2.1Z" fill="#000000"/><path d="M576.6 137.9 L583.0 -2.0 L575.2 -2.1Z" fill="#000000"/><path d="M576.6 137.9 L578.1 -2.1 L570.3 -2.0Z" fill="#000000"/><path d="M576.6 137.9 L573.2 -2.1 L565.4 -1.6Z" fill="#000000"/><path d="M576.6 137.9 L568.3 -1.9 L560.6 -1.2Z" fill="#000000"/><path d="M576.6 137.9 L563.5 -1.5 L555.7 -0.5Z" fill="#000000"/><path d="M576.6 137.9 L558.6 -0.9 L550.9 0.3Z" fill="#000000"/><path d="M576.6 137.9 L553.8 -0.2 L546.1 1.3Z" fill="#000000"/><path d="M576.6 137.9 L549.0 0.7 L541.4 2.4Z" fill="#000000"/><path d="M576.6 137.9 L544.2 1.7 L536.7 3.7Z" fill="#000000"/><path d="M576.6 137.9 L539.5 2.9 L532.0 5.2Z" fill="#000000"/><path d="M576.6 137.9 L534.8 4.3 L527.4 6.9Z" fill="#2a2a2a"/><path d="M576.6 137.9 L530.1 5.8 L522.8 8.7Z" fill="#808080"/><path d="M576.6 137.9 L525.6 7.6 L518.4 10.6Z" fill="#d4d4d4"/><path d="M576.6 137.9 L521.0 9.4 L514.0 12.7Z" fill="#ffffff"/><path d="M576.6 137.9 L516.6 11.4 L509.6 15.0Z" fill="#ffffff"/><path d="M576.6 137.9 L512.2 13.6 L505.4 17.4Z" fill="#ffffff"/><path d="M576.6 137.9 L507.9 15.9 L501.2 20.0Z" fill="#ffffff"/><path d="M576.6 137.9 L503.7 18.4 L497.2 22.7Z" fill="#ffffff"/><path d="M576.6 137.9 L499.6 21.0 L493.2 25.5Z" fill="#ffffff"/><path d="M576.6 137.9 L495.6 23.8 L489.3 28.5Z" fill="#ffffff"/><path d="M576.6 137.9 L491.6 26.7 L485.5 31.6Z" fill="#ffffff"/><path d="M576.6 137.9 L487.8 29.7 L481.9 34.8Z" fill="#ffffff"/><path d="M576.6 137.9 L484.1 32.9 L478.3 38.2Z" fill="#ffffff"/><path d="M576.6 137.9 L480.5 36.2 L474.9 41.7Z" fill="#ffffff"/><path d="M576.6 137.9 L477.0 39.6 L471.6 45.3Z" fill="#ffffff"/><path d="M576.6 137.9 L473.6 43.1 L468.5 49.0Z" fill="#ffffff"/><path d="M576.6 137.9 L470.4 46.8 L465.4 52.9Z" fill="#ffffff"/><path d="M576.6 137.9 L467.2 50.6 L462.5 56.8Z" fill="#ffffff"/><path d="M576.6 137.9 L464.3 54.4 L459.8 60.8Z" fill="#ffffff"/><path d="M576.6 137.9 L461.4 58.4 L457.2 65.0Z" fill="#ffffff"/><path d="M576.6 137.9 L458.7 62.5 L454.7 69.2Z" fill="#ffffff"/><path d="M576.6 137.9 L456.1 66.6 L452.4 73.5Z" fill="#ffffff"/><path d="M576.6 137.9 L453.7 70.9 L450.2 77.8Z" fill="#ffffff"/><path d="M576.6 137.9 L451.5 75.2 L448.2 82.3Z" fill="#ffffff"/><path d="M576.6 137.9 L449.4 79.6 L446.3 86.8Z" fill="#ffffff"/><path d="M576.6 137.9 L447.4 84.1 L444.6 91.4Z" fill="#ffffff"/><path d="M576.6 137.9 L445.6 88.6 L443.1 96.0Z" fill="#ffffff"/><path d="M576.6 137.9 L444.0 93.2 L441.7 100.7Z" fill="#ffffff"/><path d="M576.6 137.9 L442.5 97.9 L440.5 105.5Z" fill="#ffffff"/><path d="M576.6 137.9 L441.2 102.6 L439.4 110.2Z" fill="#ffffff"/><path d="M576.6 137.9 L440.0 107.4 L438.5 115.0Z" fill="#ffffff"/><path d="M576.6 137.9 L439.0 112.1 L437.8 119.9Z" fill="#ffffff"/><path d="M576.6 137.9 L438.2 117.0 L437.3 124.7Z" fill="#ffffff"/><path d="M576.6 137.9 L437.6 121.8 L436.9 129.6Z" fill="#ffffff"/><path d="M576.6 137.9 L437.1 126.7 L436.7 134.5Z" fill="#ffffff"/><path d="M576.6 137.9 L436.8 131.5 L436.7 139.4Z" fill="#ffffff"/></g></mask><g filter="url(#blur)" mask="url(#mbm)"><ellipse cx="576.67" cy="138.01" rx="94.09" ry="91.82" fill="#57ffa8"/>
<ellipse cx="576.67" cy="138.00" rx="93.76" ry="91.55" fill="#48ffb7"/>
<ellipse cx="576.67" cy="137.99" rx="93.43" ry="91.28" fill="#33ffcc"/>
<ellipse cx="576.66" cy="137.98" rx="93.10" ry="91.02" fill="#27ffd8"/>
<ellipse cx="576.66" cy="137.97" rx="92.77" ry="90.75" fill="#2effd1"/>
<ellipse cx="576.66" cy="137.95" rx="92.43" ry="90.48" fill="#4effb1"/>
<ellipse cx="576.66" cy="137.94" rx="92.10" ry="90.21" fill="#7eff81"/>
<ellipse cx="576.66" cy="137.93" rx="91.77" ry="89.94" fill="#b2ff4d"/>
<ellipse cx="576.65" cy="137.92" rx="91.44" ry="89.67" fill="#ddff22"/>
<ellipse cx="576.65" cy="137.91" rx="91.11" ry="89.41" fill="#f1ff0e"/>
<ellipse cx="576.65" cy="137.90" rx="90.77" ry="89.14" fill="#edff12"/>
<ellipse cx="576.65" cy="137.89" rx="90.44" ry="88.87" fill="#d4ff2b"/>
<ellipse cx="576.65" cy="137.87" rx="90.11" ry="88.60" fill="#acff53"/>
<ellipse cx="576.64" cy="137.86" rx="89.78" ry="88.33" fill="#7bff84"/>
<ellipse cx="576.64" cy="137.85" rx="89.45" ry="88.07" fill="#49ffb6"/>
<ellipse cx="576.64" cy="137.84" rx="89.11" ry="87.80" fill="#20ffdf"/>
<ellipse cx="576.64" cy="137.83" rx="88.78" ry="87.53" fill="#07fff8"/>
<ellipse cx="576.64" cy="137.82" rx="88.45" ry="87.26" fill="#01fffe"/>
<ellipse cx="576.63" cy="137.81" rx="88.12" ry="86.99" fill="#12ffed"/>
<ellipse cx="576.63" cy="137.80" rx="87.79" ry="86.73" fill="#38ffc7"/>
<ellipse cx="576.63" cy="137.78" rx="87.45" ry="86.46" fill="#6cff93"/>
<ellipse cx="576.63" cy="137.77" rx="87.12" ry="86.19" fill="#a7ff58"/>
<ellipse cx="576.63" cy="137.76" rx="86.79" ry="85.92" fill="#dcff23"/>
<ellipse cx="576.62" cy="137.75" rx="86.46" ry="85.65" fill="#fffa00"/>
<ellipse cx="576.62" cy="137.74" rx="86.13" ry="85.39" fill="#ffe700"/>
<ellipse cx="576.62" cy="137.73" rx="85.80" ry="85.12" fill="#ffee00"/>
<ellipse cx="576.62" cy="137.72" rx="85.46" ry="84.85" fill="#e9ff16"/>
<ellipse cx="576.62" cy="137.71" rx="85.13" ry="84.58" fill="#a8ff57"/>
<ellipse cx="576.61" cy="137.69" rx="84.80" ry="84.31" fill="#58ffa7"/>
<ellipse cx="576.61" cy="137.68" rx="84.47" ry="84.05" fill="#07fff8"/>
<ellipse cx="576.61" cy="137.67" rx="84.14" ry="83.78" fill="#00c3ff"/>
<ellipse cx="576.61" cy="137.66" rx="83.80" ry="83.51" fill="#0098ff"/>
<ellipse cx="576.61" cy="137.65" rx="83.47" ry="83.24" fill="#008cff"/>
<ellipse cx="576.60" cy="137.61" rx="82.48" ry="82.44" fill="#09fff6"/>
<ellipse cx="576.60" cy="137.60" rx="82.14" ry="82.17" fill="#ffb600"/>
<ellipse cx="576.60" cy="137.59" rx="81.81" ry="81.90" fill="#ff0d00"/>
<ellipse cx="576.59" cy="137.54" rx="80.15" ry="80.56" fill="#ff2600"/>
<ellipse cx="576.58" cy="137.52" rx="79.82" ry="80.29" fill="#9bff64"/>
<ellipse cx="576.58" cy="137.51" rx="79.49" ry="80.02" fill="#0031ff"/>
<ellipse cx="576.58" cy="137.50" rx="79.16" ry="79.76" fill="#0000f2"/>
<ellipse cx="576.57" cy="137.45" rx="77.50" ry="78.42" fill="#0083ff"/>
<ellipse cx="576.57" cy="137.43" rx="77.17" ry="78.15" fill="#ffed00"/>
<ellipse cx="576.57" cy="137.42" rx="76.83" ry="77.88" fill="#ff0d00"/>
<ellipse cx="576.56" cy="137.37" rx="75.17" ry="76.54" fill="#ff1d00"/>
<ellipse cx="576.55" cy="137.35" rx="74.84" ry="76.27" fill="#ebff14"/>
<ellipse cx="576.55" cy="137.34" rx="74.51" ry="76.00" fill="#00c4ff"/>
<ellipse cx="576.55" cy="137.33" rx="74.18" ry="75.74" fill="#008cff"/>
<ellipse cx="576.54" cy="137.30" rx="73.18" ry="74.93" fill="#00a1ff"/>
<ellipse cx="576.54" cy="137.29" rx="72.85" ry="74.66" fill="#00d4ff"/>
<ellipse cx="576.54" cy="137.28" rx="72.52" ry="74.39" fill="#1effe1"/>
<ellipse cx="576.54" cy="137.26" rx="72.19" ry="74.13" fill="#70ff8f"/>
<ellipse cx="576.54" cy="137.25" rx="71.85" ry="73.86" fill="#bdff42"/>
<ellipse cx="576.53" cy="137.24" rx="71.52" ry="73.59" fill="#f7ff08"/>
<ellipse cx="576.53" cy="137.23" rx="71.19" ry="73.32" fill="#ffe800"/>
<ellipse cx="576.53" cy="137.22" rx="70.86" ry="73.05" fill="#ffea00"/>
<ellipse cx="576.53" cy="137.21" rx="70.53" ry="72.79" fill="#faff05"/>
<ellipse cx="576.53" cy="137.20" rx="70.19" ry="72.52" fill="#ceff31"/>
<ellipse cx="576.52" cy="137.19" rx="69.86" ry="72.25" fill="#96ff69"/>
<ellipse cx="576.52" cy="137.17" rx="69.53" ry="71.98" fill="#5cffa3"/>
<ellipse cx="576.52" cy="137.16" rx="69.20" ry="71.71" fill="#2bffd4"/>
<ellipse cx="576.52" cy="137.15" rx="68.87" ry="71.45" fill="#0afff5"/>
<ellipse cx="576.52" cy="137.14" rx="68.53" ry="71.18" fill="#00ffff"/>
<ellipse cx="576.51" cy="137.13" rx="68.20" ry="70.91" fill="#0bfff4"/>
<ellipse cx="576.51" cy="137.12" rx="67.87" ry="70.64" fill="#29ffd6"/>
<ellipse cx="576.51" cy="137.11" rx="67.54" ry="70.37" fill="#53ffac"/>
<ellipse cx="576.51" cy="137.09" rx="67.21" ry="70.11" fill="#82ff7d"/>
<ellipse cx="576.51" cy="137.08" rx="66.88" ry="69.84" fill="#afff50"/>
<ellipse cx="576.50" cy="137.07" rx="66.54" ry="69.57" fill="#d1ff2e"/>
<ellipse cx="576.50" cy="137.06" rx="66.21" ry="69.30" fill="#e4ff1b"/>
<ellipse cx="576.50" cy="137.05" rx="65.88" ry="69.03" fill="#e3ff1c"/>
<ellipse cx="576.50" cy="137.04" rx="65.55" ry="68.77" fill="#d1ff2e"/>
<ellipse cx="576.50" cy="137.03" rx="65.22" ry="68.50" fill="#b5ff4a"/>
<ellipse cx="576.49" cy="137.02" rx="64.88" ry="68.23" fill="#98ff67"/>
<ellipse cx="576.49" cy="137.00" rx="64.55" ry="67.96" fill="#84ff7b"/>
<ellipse cx="576.49" cy="136.99" rx="64.22" ry="67.69" fill="#80ff80"/></g><g filter="url(#blur)" mask="url(#mbs)"><ellipse cx="576.67" cy="138.01" rx="94.09" ry="91.82" fill="#57ffa8"/>
<ellipse cx="576.67" cy="138.00" rx="93.76" ry="91.55" fill="#48ffb7"/>
<ellipse cx="576.67" cy="137.99" rx="93.43" ry="91.28" fill="#33ffcc"/>
<ellipse cx="576.66" cy="137.98" rx="93.10" ry="91.02" fill="#27ffd8"/>
<ellipse cx="576.66" cy="137.97" rx="92.77" ry="90.75" fill="#2effd1"/>
<ellipse cx="576.66" cy="137.95" rx="92.43" ry="90.48" fill="#50ffaf"/>
<ellipse cx="576.66" cy="137.94" rx="92.10" ry="90.21" fill="#84ff7b"/>
<ellipse cx="576.66" cy="137.93" rx="91.77" ry="89.94" fill="#bbff44"/>
<ellipse cx="576.65" cy="137.92" rx="91.44" ry="89.67" fill="#e8ff17"/>
<ellipse cx="576.65" cy="137.91" rx="91.11" ry="89.41" fill="#feff01"/>
<ellipse cx="576.65" cy="137.90" rx="90.77" ry="89.14" fill="#f7ff08"/>
<ellipse cx="576.65" cy="137.89" rx="90.44" ry="88.87" fill="#d6ff29"/>
<ellipse cx="576.65" cy="137.87" rx="90.11" ry="88.60" fill="#9eff61"/>
<ellipse cx="576.64" cy="137.86" rx="89.78" ry="88.33" fill="#5bffa4"/>
<ellipse cx="576.64" cy="137.85" rx="89.45" ry="88.07" fill="#18ffe7"/>
<ellipse cx="576.64" cy="137.84" rx="89.11" ry="87.80" fill="#00dfff"/>
<ellipse cx="576.64" cy="137.83" rx="88.78" ry="87.53" fill="#00bbff"/>
<ellipse cx="576.64" cy="137.82" rx="88.45" ry="87.26" fill="#00b3ff"/>
<ellipse cx="576.63" cy="137.81" rx="88.12" ry="86.99" fill="#00d3ff"/>
<ellipse cx="576.63" cy="137.80" rx="87.79" ry="86.73" fill="#19ffe6"/>
<ellipse cx="576.63" cy="137.78" rx="87.45" ry="86.46" fill="#79ff86"/>
<ellipse cx="576.63" cy="137.77" rx="87.12" ry="86.19" fill="#e3ff1c"/>
<ellipse cx="576.63" cy="137.76" rx="86.79" ry="85.92" fill="#ffba00"/>
<ellipse cx="576.62" cy="137.75" rx="86.46" ry="85.65" fill="#ff7100"/>
<ellipse cx="576.62" cy="137.74" rx="86.13" ry="85.39" fill="#ff4f00"/>
<ellipse cx="576.62" cy="137.73" rx="85.80" ry="85.12" fill="#ff4c00"/>
<ellipse cx="576.62" cy="137.71" rx="85.13" ry="84.58" fill="#ff6900"/>
<ellipse cx="576.61" cy="137.69" rx="84.80" ry="84.31" fill="#5fffa0"/>
<ellipse cx="576.61" cy="137.68" rx="84.47" ry="84.05" fill="#000eff"/>
<ellipse cx="576.61" cy="137.67" rx="84.14" ry="83.78" fill="#0000d9"/>
<ellipse cx="576.60" cy="137.61" rx="82.48" ry="82.44" fill="#0088ff"/>
<ellipse cx="576.60" cy="137.60" rx="82.14" ry="82.17" fill="#ffb500"/>
<ellipse cx="576.60" cy="137.59" rx="81.81" ry="81.90" fill="#c60000"/>
<ellipse cx="576.59" cy="137.54" rx="80.15" ry="80.56" fill="#e30000"/>
<ellipse cx="576.58" cy="137.52" rx="79.82" ry="80.29" fill="#aeff51"/>
<ellipse cx="576.58" cy="137.51" rx="79.49" ry="80.02" fill="#000eff"/>
<ellipse cx="576.58" cy="137.50" rx="79.16" ry="79.76" fill="#0000c6"/>
<ellipse cx="576.57" cy="137.45" rx="77.50" ry="78.42" fill="#006bff"/>
<ellipse cx="576.57" cy="137.43" rx="77.17" ry="78.15" fill="#ffce00"/>
<ellipse cx="576.57" cy="137.42" rx="76.83" ry="77.88" fill="#cc0000"/>
<ellipse cx="576.56" cy="137.37" rx="75.17" ry="76.54" fill="#e30000"/>
<ellipse cx="576.55" cy="137.35" rx="74.84" ry="76.27" fill="#c3ff3c"/>
<ellipse cx="576.55" cy="137.34" rx="74.51" ry="76.00" fill="#0028ff"/>
<ellipse cx="576.55" cy="137.33" rx="74.18" ry="75.74" fill="#0000d9"/>
<ellipse cx="576.54" cy="137.28" rx="72.52" ry="74.39" fill="#0058ff"/>
<ellipse cx="576.54" cy="137.26" rx="72.19" ry="74.13" fill="#d0ff2f"/>
<ellipse cx="576.54" cy="137.25" rx="71.85" ry="73.86" fill="#ff4e00"/>
<ellipse cx="576.53" cy="137.24" rx="71.52" ry="73.59" fill="#ff4d00"/>
<ellipse cx="576.53" cy="137.22" rx="70.86" ry="73.05" fill="#ff5400"/>
<ellipse cx="576.53" cy="137.21" rx="70.53" ry="72.79" fill="#ff8000"/>
<ellipse cx="576.53" cy="137.20" rx="70.19" ry="72.52" fill="#ffce00"/>
<ellipse cx="576.52" cy="137.19" rx="69.86" ry="72.25" fill="#d0ff2f"/>
<ellipse cx="576.52" cy="137.17" rx="69.53" ry="71.98" fill="#6cff93"/>
<ellipse cx="576.52" cy="137.16" rx="69.20" ry="71.71" fill="#17ffe8"/>
<ellipse cx="576.52" cy="137.15" rx="68.87" ry="71.45" fill="#00deff"/>
<ellipse cx="576.52" cy="137.14" rx="68.53" ry="71.18" fill="#00ccff"/>
<ellipse cx="576.51" cy="137.13" rx="68.20" ry="70.91" fill="#00dbff"/>
<ellipse cx="576.51" cy="137.12" rx="67.87" ry="70.64" fill="#01fffe"/>
<ellipse cx="576.51" cy="137.11" rx="67.54" ry="70.37" fill="#37ffc8"/>
<ellipse cx="576.51" cy="137.09" rx="67.21" ry="70.11" fill="#73ff8c"/>
<ellipse cx="576.51" cy="137.08" rx="66.88" ry="69.84" fill="#acff53"/>
<ellipse cx="576.50" cy="137.07" rx="66.54" ry="69.57" fill="#d9ff26"/>
<ellipse cx="576.50" cy="137.06" rx="66.21" ry="69.30" fill="#f0ff0f"/>
<ellipse cx="576.50" cy="137.05" rx="65.88" ry="69.03" fill="#efff10"/>
<ellipse cx="576.50" cy="137.04" rx="65.55" ry="68.77" fill="#dbff24"/>
<ellipse cx="576.50" cy="137.03" rx="65.22" ry="68.50" fill="#bbff44"/>
<ellipse cx="576.49" cy="137.02" rx="64.88" ry="68.23" fill="#9bff64"/>
<ellipse cx="576.49" cy="137.00" rx="64.55" ry="67.96" fill="#84ff7b"/>
<ellipse cx="576.49" cy="136.99" rx="64.22" ry="67.69" fill="#80ff80"/></g></g><g filter="url(#blur)"><path d="M514.55 107.10A60.00 36.00 0 0 0 634.55 107.10" fill="none" stroke="#d9ff26" stroke-width="2.2" opacity="0.75"/><path d="M514.07 107.10A60.48 38.40 0 0 0 635.03 107.10" fill="none" stroke="#26ffd9" stroke-width="2.2" opacity="0.75"/><path d="M513.59 107.10A60.96 40.80 0 0 0 635.51 107.10" fill="none" stroke="#e5ff1a" stroke-width="2.2" opacity="0.75"/><path d="M513.11 107.10A61.44 43.20 0 0 0 635.99 107.10" fill="none" stroke="#1affe5" stroke-width="2.2" opacity="0.75"/><path d="M512.63 107.10A61.92 45.60 0 0 0 636.47 107.10" fill="none" stroke="#f2ff0d" stroke-width="2.2" opacity="0.75"/><path d="M512.15 107.10A62.40 48.00 0 0 0 636.95 107.10" fill="none" stroke="#1affe5" stroke-width="2.2" opacity="0.75"/><path d="M511.67 107.10A62.88 50.40 0 0 0 637.43 107.10" fill="none" stroke="#d9ff26" stroke-width="2.2" opacity="0.75"/></g></g>
<clipPath id="clipb"><rect x="468.25" y="29.50" width="214.25" height="215.40"/></clipPath>
<path d="M463.85 25.50H686.70" fill="none" stroke="#e2e2e2" stroke-width="1.5"/>
<path d="M686.70 25.50V248.95" fill="none" stroke="#f4f4f4" stroke-width="1"/>
<path d="M463.85 24.70V248.95H687.60" fill="none" stroke="#262626" stroke-width="1.7"/>
<path d="M463.85 248.95h3.1" stroke="#262626" stroke-width="1.8"/>
<text x="456.05" y="255.85" text-anchor="end" class="tk">0</text>
<path d="M463.85 204.26h3.1" stroke="#262626" stroke-width="1.8"/>
<path d="M686.70 204.26h-2.8" stroke="#d8d8d8" stroke-width="1.2"/>
<text x="456.05" y="211.16" text-anchor="end" class="tk">0.1</text>
<path d="M463.85 159.57h3.1" stroke="#262626" stroke-width="1.8"/>
<path d="M686.70 159.57h-2.8" stroke="#d8d8d8" stroke-width="1.2"/>
<text x="456.05" y="166.47" text-anchor="end" class="tk">0.2</text>
<path d="M463.85 114.88h3.1" stroke="#262626" stroke-width="1.8"/>
<path d="M686.70 114.88h-2.8" stroke="#d8d8d8" stroke-width="1.2"/>
<text x="456.05" y="121.78" text-anchor="end" class="tk">0.3</text>
<path d="M463.85 70.19h3.1" stroke="#262626" stroke-width="1.8"/>
<path d="M686.70 70.19h-2.8" stroke="#d8d8d8" stroke-width="1.2"/>
<text x="456.05" y="77.09" text-anchor="end" class="tk">0.4</text>
<path d="M463.85 25.50h3.1" stroke="#262626" stroke-width="1.8"/>
<text x="456.05" y="32.40" text-anchor="end" class="tk">0.5</text>
<path d="M463.85 248.95v-3.1" stroke="#262626" stroke-width="1.8"/>
<text x="463.85" y="274.25" text-anchor="middle" class="tk">0</text>
<path d="M552.99 248.95v-3.1" stroke="#262626" stroke-width="1.8"/>
<path d="M552.99 25.50v2.8" stroke="#d8d8d8" stroke-width="1.2"/>
<text x="552.99" y="274.25" text-anchor="middle" class="tk">0.2</text>
<path d="M642.13 248.95v-3.1" stroke="#262626" stroke-width="1.8"/>
<path d="M642.13 25.50v2.8" stroke="#d8d8d8" stroke-width="1.2"/>
<text x="642.13" y="274.25" text-anchor="middle" class="tk">0.4</text>
<text x="575.07" y="299.35" text-anchor="middle" class="lb">x [m]</text>
<text transform="translate(421.95 138.12) rotate(-90)" text-anchor="middle" class="lb">y [m]</text>
<text x="575.27" y="20.80" text-anchor="middle" class="tt" textLength="121" lengthAdjust="spacingAndGlyphs">Time 0.15 [ms]</text>
<rect x="698.60" y="26.00" width="21.80" height="222.25" fill="url(#jet)" stroke="#262626" stroke-width="1"/>
<text x="726.20" y="33.20" class="tk">4</text>
<text x="726.20" y="88.76" class="tk">2</text>
<path d="M720.40 81.56h-2.6" stroke="#262626" stroke-width="1.1"/>
<text x="726.20" y="144.32" class="tk">0</text>
<path d="M720.40 137.12h-2.6" stroke="#262626" stroke-width="1.1"/>
<text x="726.20" y="199.89" class="tk">-2</text>
<path d="M720.40 192.69h-2.6" stroke="#262626" stroke-width="1.1"/>
<text x="726.20" y="255.45" class="tk">-4</text>
<text x="721.70" y="17.51" class="tk"><tspan font-size="19" fill="#505050">×</tspan>10<tspan dy="-7.6" font-size="13.5">-3</tspan></text>
<text x="603.85" y="345.60" text-anchor="middle" class="cp">(b) Intact, 0.15 ms</text>
<rect x="59.45" y="415.30" width="215.05" height="214.80" fill="#80fc80" filter="url(#tic)"/>
<g mask="url(#vmc)"><rect x="59.45" y="415.30" width="215.05" height="214.80" fill="url(#hs0)" filter="url(#tsc)"/></g>
<linearGradient id="vgc" x1="0" y1="0" x2="0" y2="1"><stop offset="0" stop-color="#fff" stop-opacity="0.65"/><stop offset="0.3" stop-color="#fff" stop-opacity="0.65"/><stop offset="0.6" stop-color="#fff" stop-opacity="0.15"/><stop offset="1" stop-color="#fff" stop-opacity="0.15"/></linearGradient>
<mask id="vmc"><rect x="59.45" y="415.30" width="215.05" height="214.80" fill="url(#vgc)"/></mask>
<g clip-path="url(#clipc)"><clipPath id="annc"><path clip-rule="evenodd" d="M105.68 525.28A61.77 61.39 0 1 0 229.22 525.28A61.77 61.39 0 1 0 105.68 525.28ZM135.94 521.75A31.51 34.19 0 1 0 198.96 521.75A31.51 34.19 0 1 0 135.94 521.75Z"/></clipPath><g clip-path="url(#annc)"><g filter="url(#blur)"><ellipse cx="167.45" cy="525.23" rx="61.27" ry="60.95" fill="#57ffa8"/>
<ellipse cx="167.45" cy="525.19" rx="60.96" ry="60.66" fill="#49ffb6"/>
<ellipse cx="167.45" cy="525.15" rx="60.64" ry="60.38" fill="#35ffca"/>
<ellipse cx="167.45" cy="525.12" rx="60.33" ry="60.10" fill="#28ffd7"/>
<ellipse cx="167.45" cy="525.08" rx="60.01" ry="59.81" fill="#2cffd3"/>
<ellipse cx="167.45" cy="525.04" rx="59.69" ry="59.53" fill="#51ffae"/>
<ellipse cx="167.45" cy="525.01" rx="59.38" ry="59.24" fill="#90ff6f"/>
<ellipse cx="167.45" cy="524.97" rx="59.06" ry="58.96" fill="#d9ff26"/>
<ellipse cx="167.45" cy="524.93" rx="58.75" ry="58.68" fill="#ffe500"/>
<ellipse cx="167.45" cy="524.89" rx="58.43" ry="58.39" fill="#ffbc00"/>
<ellipse cx="167.45" cy="524.86" rx="58.11" ry="58.11" fill="#ffb400"/>
<ellipse cx="167.45" cy="524.82" rx="57.80" ry="57.82" fill="#ffd600"/>
<ellipse cx="167.45" cy="524.78" rx="57.48" ry="57.54" fill="#e2ff1d"/>
<ellipse cx="167.45" cy="524.75" rx="57.17" ry="57.26" fill="#83ff7c"/>
<ellipse cx="167.45" cy="524.71" rx="56.85" ry="56.97" fill="#18ffe7"/>
<ellipse cx="167.45" cy="524.67" rx="56.54" ry="56.69" fill="#00b3ff"/>
<ellipse cx="167.45" cy="524.64" rx="56.22" ry="56.40" fill="#0065ff"/>
<ellipse cx="167.45" cy="524.60" rx="55.90" ry="56.12" fill="#003aff"/>
<ellipse cx="167.45" cy="524.56" rx="55.59" ry="55.84" fill="#0033ff"/>
<ellipse cx="167.45" cy="524.45" rx="54.64" ry="54.98" fill="#00aaff"/>
<ellipse cx="167.45" cy="524.41" rx="54.32" ry="54.70" fill="#ff2600"/>
<ellipse cx="167.45" cy="524.38" rx="54.01" ry="54.42" fill="#bf0000"/>
<ellipse cx="167.45" cy="524.16" rx="52.11" ry="52.71" fill="#ffa400"/>
<ellipse cx="167.45" cy="524.12" rx="51.80" ry="52.43" fill="#0000de"/>
<ellipse cx="167.45" cy="524.08" rx="51.48" ry="52.14" fill="#0000a6"/>
<ellipse cx="167.45" cy="523.86" rx="49.58" ry="50.44" fill="#00fbff"/>
<ellipse cx="167.45" cy="523.82" rx="49.27" ry="50.15" fill="#af0000"/>
<ellipse cx="167.45" cy="523.79" rx="48.95" ry="49.87" fill="#9f0000"/>
<ellipse cx="167.45" cy="523.56" rx="47.06" ry="48.17" fill="#99ff66"/>
<ellipse cx="167.45" cy="523.53" rx="46.74" ry="47.88" fill="#0000a6"/>
<ellipse cx="167.45" cy="523.31" rx="44.85" ry="46.18" fill="#0000ac"/>
<ellipse cx="167.45" cy="523.27" rx="44.53" ry="45.89" fill="#caff35"/>
<ellipse cx="167.45" cy="523.23" rx="44.21" ry="45.61" fill="#bf0000"/>
<ellipse cx="167.45" cy="523.01" rx="42.32" ry="43.90" fill="#e00000"/>
<ellipse cx="167.45" cy="522.97" rx="42.00" ry="43.62" fill="#00f1ff"/>
<ellipse cx="167.45" cy="522.94" rx="41.69" ry="43.34" fill="#0000ff"/>
<ellipse cx="167.45" cy="522.71" rx="39.79" ry="41.63" fill="#0043ff"/>
<ellipse cx="167.45" cy="522.68" rx="39.48" ry="41.35" fill="#ffd900"/>
<ellipse cx="167.45" cy="522.64" rx="39.16" ry="41.06" fill="#ff5900"/>
<ellipse cx="167.45" cy="522.53" rx="38.21" ry="40.21" fill="#ff5e00"/>
<ellipse cx="167.45" cy="522.49" rx="37.90" ry="39.93" fill="#ff8100"/>
<ellipse cx="167.45" cy="522.46" rx="37.58" ry="39.64" fill="#ffc200"/>
<ellipse cx="167.45" cy="522.42" rx="37.26" ry="39.36" fill="#e7ff18"/>
<ellipse cx="167.45" cy="522.38" rx="36.95" ry="39.08" fill="#8bff74"/>
<ellipse cx="167.45" cy="522.35" rx="36.63" ry="38.79" fill="#38ffc7"/>
<ellipse cx="167.45" cy="522.31" rx="36.32" ry="38.51" fill="#00faff"/>
<ellipse cx="167.45" cy="522.27" rx="36.00" ry="38.22" fill="#00dbff"/>
<ellipse cx="167.45" cy="522.23" rx="35.68" ry="37.94" fill="#00ddff"/>
<ellipse cx="167.45" cy="522.20" rx="35.37" ry="37.65" fill="#00f5ff"/>
<ellipse cx="167.45" cy="522.16" rx="35.05" ry="37.37" fill="#1effe1"/>
<ellipse cx="167.45" cy="522.12" rx="34.74" ry="37.09" fill="#51ffae"/>
<ellipse cx="167.45" cy="522.09" rx="34.42" ry="36.80" fill="#86ff79"/>
<ellipse cx="167.45" cy="522.05" rx="34.10" ry="36.52" fill="#b5ff4a"/>
<ellipse cx="167.45" cy="522.01" rx="33.79" ry="36.23" fill="#d6ff29"/>
<ellipse cx="167.45" cy="521.98" rx="33.47" ry="35.95" fill="#e5ff1a"/>
<ellipse cx="167.45" cy="521.94" rx="33.16" ry="35.67" fill="#e0ff1f"/>
<ellipse cx="167.45" cy="521.90" rx="32.84" ry="35.38" fill="#cdff32"/>
<ellipse cx="167.45" cy="521.87" rx="32.52" ry="35.10" fill="#b1ff4e"/>
<ellipse cx="167.45" cy="521.83" rx="32.21" ry="34.81" fill="#96ff69"/>
<ellipse cx="167.45" cy="521.79" rx="31.89" ry="34.53" fill="#84ff7b"/>
<ellipse cx="167.45" cy="521.75" rx="31.58" ry="34.25" fill="#80ff80"/></g></g><g filter="url(#blur)"><path d="M144.07 494.90Q169.35 507.50 196.63 494.90" fill="none" stroke="#00ffff" stroke-width="1.7"/><path d="M143.35 496.70Q169.35 510.50 197.35 496.70" fill="none" stroke="#ffe500" stroke-width="1.7"/><path d="M142.66 498.43Q169.35 513.38 198.04 498.43" fill="none" stroke="#00a6ff" stroke-width="1.7"/><path d="M142.03 500.00Q169.35 516.00 198.67 500.00" fill="none" stroke="#ff9900" stroke-width="1.7"/><path d="M141.31 501.80Q169.35 519.00 199.39 501.80" fill="none" stroke="#00bfff" stroke-width="1.7"/><path d="M140.62 503.53Q169.35 521.88 200.08 503.53" fill="none" stroke="#f2ff0d" stroke-width="1.7"/><path d="M139.99 505.10Q169.35 524.50 200.71 505.10" fill="none" stroke="#26ffd9" stroke-width="1.7"/><path d="M158.00 490.10Q169.85 491.60 181.70 490.10" fill="none" stroke="#ffff00" stroke-width="2" opacity="0.8"/><path d="M155.75 492.60Q169.85 494.10 183.95 492.60" fill="none" stroke="#0dfff2" stroke-width="2" opacity="0.8"/><path d="M153.50 495.10Q169.85 496.60 186.20 495.10" fill="none" stroke="#ffff00" stroke-width="2" opacity="0.8"/><path d="M151.25 497.60Q169.85 499.10 188.45 497.60" fill="none" stroke="#0dfff2" stroke-width="2" opacity="0.8"/><path d="M149.09 500.00Q169.85 501.50 190.61 500.00" fill="none" stroke="#f2ff0d" stroke-width="2" opacity="0.8"/></g></g>
<clipPath id="clipc"><rect x="59.45" y="415.30" width="215.05" height="214.80"/></clipPath>
<path d="M55.85 411.30H278.70" fill="none" stroke="#e2e2e2" stroke-width="1.5"/>
<path d="M278.70 411.30V634.15" fill="none" stroke="#f4f4f4" stroke-width="1"/>
<path d="M55.85 410.50V634.15H279.60" fill="none" stroke="#262626" stroke-width="1.7"/>
<path d="M55.85 634.15h3.1" stroke="#262626" stroke-width="1.8"/>
<text x="48.05" y="641.05" text-anchor="end" class="tk">0</text>
<path d="M55.85 589.58h3.1" stroke="#262626" stroke-width="1.8"/>
<path d="M278.70 589.58h-2.8" stroke="#d8d8d8" stroke-width="1.2"/>
<text x="48.05" y="596.48" text-anchor="end" class="tk">0.1</text>
<path d="M55.85 545.01h3.1" stroke="#262626" stroke-width="1.8"/>
<path d="M278.70 545.01h-2.8" stroke="#d8d8d8" stroke-width="1.2"/>
<text x="48.05" y="551.91" text-anchor="end" class="tk">0.2</text>
<path d="M55.85 500.44h3.1" stroke="#262626" stroke-width="1.8"/>
<path d="M278.70 500.44h-2.8" stroke="#d8d8d8" stroke-width="1.2"/>
<text x="48.05" y="507.34" text-anchor="end" class="tk">0.3</text>
<path d="M55.85 455.87h3.1" stroke="#262626" stroke-width="1.8"/>
<path d="M278.70 455.87h-2.8" stroke="#d8d8d8" stroke-width="1.2"/>
<text x="48.05" y="462.77" text-anchor="end" class="tk">0.4</text>
<path d="M55.85 411.30h3.1" stroke="#262626" stroke-width="1.8"/>
<text x="48.05" y="418.20" text-anchor="end" class="tk">0.5</text>
<path d="M55.85 634.15v-3.1" stroke="#262626" stroke-width="1.8"/>
<text x="55.85" y="659.45" text-anchor="middle" class="tk">0</text>
<path d="M144.99 634.15v-3.1" stroke="#262626" stroke-width="1.8"/>
<path d="M144.99 411.30v2.8" stroke="#d8d8d8" stroke-width="1.2"/>
<text x="144.99" y="659.45" text-anchor="middle" class="tk">0.2</text>
<path d="M234.13 634.15v-3.1" stroke="#262626" stroke-width="1.8"/>
<path d="M234.13 411.30v2.8" stroke="#d8d8d8" stroke-width="1.2"/>
<text x="234.13" y="659.45" text-anchor="middle" class="tk">0.4</text>
<text x="167.08" y="684.55" text-anchor="middle" class="lb">x [m]</text>
<text transform="translate(13.95 523.33) rotate(-90)" text-anchor="middle" class="lb">y [m]</text>
<text x="167.28" y="406.60" text-anchor="middle" class="tt" textLength="121" lengthAdjust="spacingAndGlyphs">Time 0.10 [ms]</text>
<rect x="290.60" y="412.60" width="21.80" height="220.85" fill="url(#jet)" stroke="#262626" stroke-width="1"/>
<text x="318.20" y="419.80" class="tk">4</text>
<text x="318.20" y="475.01" class="tk">2</text>
<path d="M312.40 467.81h-2.6" stroke="#262626" stroke-width="1.1"/>
<text x="318.20" y="530.23" class="tk">0</text>
<path d="M312.40 523.02h-2.6" stroke="#262626" stroke-width="1.1"/>
<text x="318.20" y="585.44" class="tk">-2</text>
<path d="M312.40 578.24h-2.6" stroke="#262626" stroke-width="1.1"/>
<text x="318.20" y="640.65" class="tk">-4</text>
<text x="313.70" y="403.90" class="tk"><tspan font-size="19" fill="#505050">×</tspan>10<tspan dy="-7.6" font-size="13.5">-3</tspan></text>
<text x="195.85" y="730.25" text-anchor="middle" class="cp">(c) First impact, 0.10 ms</text>
<rect x="468.25" y="415.30" width="214.25" height="214.80" fill="#80fc80" filter="url(#tid)"/>
<g mask="url(#vmd)"><rect x="468.25" y="415.30" width="214.25" height="214.80" fill="url(#hs1)" filter="url(#tsd)"/></g>
<linearGradient id="vgd" x1="0" y1="0" x2="0" y2="1"><stop offset="0" stop-color="#fff" stop-opacity="0.6"/><stop offset="0.3" stop-color="#fff" stop-opacity="0.6"/><stop offset="0.6" stop-color="#fff" stop-opacity="0.2"/><stop offset="1" stop-color="#fff" stop-opacity="0.2"/></linearGradient>
<mask id="vmd"><rect x="468.25" y="415.30" width="214.25" height="214.80" fill="url(#vgd)"/></mask>
<g clip-path="url(#clipd)"><clipPath id="annd"><path clip-rule="evenodd" d="M480.34 523.55A94.99 92.25 0 1 0 670.32 523.55A94.99 92.25 0 1 0 480.34 523.55ZM510.96 523.92A64.55 67.48 0 1 0 640.06 523.92A64.55 67.48 0 1 0 510.96 523.92Z"/></clipPath><g clip-path="url(#annd)"><mask id="mds" maskUnits="userSpaceOnUse" x="0" y="0" width="762" height="1119"><g filter="url(#soft2)"><path d="M575.4 523.6 L435.4 522.1 L435.5 530.0Z" fill="#ffffff"/><path d="M575.4 523.6 L435.4 527.0 L435.8 534.8Z" fill="#ffffff"/><path d="M575.4 523.6 L435.6 531.9 L436.3 539.7Z" fill="#ffffff"/><path d="M575.4 523.6 L436.0 536.8 L436.9 544.5Z" fill="#ffffff"/><path d="M575.4 523.6 L436.5 541.6 L437.7 549.4Z" fill="#ffffff"/><path d="M575.4 523.6 L437.2 546.5 L438.7 554.1Z" fill="#ffffff"/><path d="M575.4 523.6 L438.1 551.3 L439.9 558.9Z" fill="#ffffff"/><path d="M575.4 523.6 L439.2 556.0 L441.2 563.6Z" fill="#ffffff"/><path d="M575.4 523.6 L440.4 560.8 L442.7 568.3Z" fill="#ffffff"/><path d="M575.4 523.6 L441.8 565.5 L444.3 572.9Z" fill="#ffffff"/><path d="M575.4 523.6 L443.3 570.1 L446.1 577.4Z" fill="#ffffff"/><path d="M575.4 523.6 L445.0 574.7 L448.1 581.9Z" fill="#ffffff"/><path d="M575.4 523.6 L446.9 579.2 L450.2 586.3Z" fill="#ffffff"/><path d="M575.4 523.6 L448.9 583.7 L452.4 590.6Z" fill="#ffffff"/><path d="M575.4 523.6 L451.1 588.0 L454.8 594.9Z" fill="#ffffff"/><path d="M575.4 523.6 L453.4 592.3 L457.4 599.0Z" fill="#ffffff"/><path d="M575.4 523.6 L455.9 596.5 L460.1 603.1Z" fill="#ffffff"/><path d="M575.4 523.6 L458.5 600.7 L463.0 607.1Z" fill="#ffffff"/><path d="M575.4 523.6 L461.2 604.7 L465.9 610.9Z" fill="#ffffff"/><path d="M575.4 523.6 L464.1 608.6 L469.1 614.7Z" fill="#ffffff"/><path d="M575.4 523.6 L467.2 612.5 L472.3 618.4Z" fill="#ffffff"/><path d="M575.4 523.6 L470.3 616.2 L475.7 621.9Z" fill="#ffffff"/><path d="M575.4 523.6 L473.6 619.8 L479.2 625.3Z" fill="#ffffff"/><path d="M575.4 523.6 L477.0 623.3 L482.8 628.6Z" fill="#ffffff"/><path d="M575.4 523.6 L480.6 626.7 L486.5 631.8Z" fill="#ffffff"/><path d="M575.4 523.6 L484.2 629.9 L490.3 634.8Z" fill="#ffffff"/><path d="M575.4 523.6 L488.0 633.0 L494.3 637.7Z" fill="#ffffff"/><path d="M575.4 523.6 L491.9 636.0 L498.3 640.5Z" fill="#ffffff"/><path d="M575.4 523.6 L495.9 638.8 L502.4 643.1Z" fill="#ffffff"/><path d="M575.4 523.6 L499.9 641.5 L506.6 645.6Z" fill="#ffffff"/><path d="M575.4 523.6 L504.1 644.1 L510.9 647.9Z" fill="#ffffff"/><path d="M575.4 523.6 L508.3 646.5 L515.3 650.1Z" fill="#ffffff"/><path d="M575.4 523.6 L512.7 648.8 L519.7 652.1Z" fill="#ffffff"/><path d="M575.4 523.6 L517.1 650.9 L524.3 653.9Z" fill="#ffffff"/><path d="M575.4 523.6 L521.5 652.8 L528.8 655.7Z" fill="#ffffff"/><path d="M575.4 523.6 L526.1 654.6 L533.5 657.2Z" fill="#ffffff"/><path d="M575.4 523.6 L530.7 656.3 L538.2 658.6Z" fill="#ffffff"/><path d="M575.4 523.6 L535.4 657.8 L542.9 659.8Z" fill="#ffffff"/><path d="M575.4 523.6 L540.1 659.1 L547.7 660.8Z" fill="#ffffff"/><path d="M575.4 523.6 L544.8 660.2 L552.5 661.7Z" fill="#ffffff"/><path d="M575.4 523.6 L549.6 661.2 L557.3 662.4Z" fill="#ffffff"/><path d="M575.4 523.6 L554.4 662.0 L562.2 663.0Z" fill="#ffffff"/><path d="M575.4 523.6 L559.3 662.7 L567.0 663.4Z" fill="#ffffff"/><path d="M575.4 523.6 L564.1 663.1 L571.9 663.6Z" fill="#ffffff"/><path d="M575.4 523.6 L569.0 663.5 L576.8 663.6Z" fill="#ffffff"/><path d="M575.4 523.6 L573.9 663.6 L581.7 663.5Z" fill="#ffffff"/><path d="M575.4 523.6 L578.8 663.6 L586.6 663.1Z" fill="#ffffff"/><path d="M575.4 523.6 L583.7 663.4 L591.4 662.7Z" fill="#ffffff"/><path d="M575.4 523.6 L588.5 663.0 L596.3 662.0Z" fill="#ffffff"/><path d="M575.4 523.6 L593.4 662.4 L601.1 661.2Z" fill="#ffffff"/><path d="M575.4 523.6 L598.2 661.7 L605.9 660.2Z" fill="#ffffff"/><path d="M575.4 523.6 L603.0 660.8 L610.6 659.1Z" fill="#ffffff"/><path d="M575.4 523.6 L607.8 659.8 L615.3 657.8Z" fill="#ffffff"/><path d="M575.4 523.6 L612.5 658.6 L620.0 656.3Z" fill="#ffffff"/><path d="M575.4 523.6 L617.2 657.2 L624.6 654.6Z" fill="#ffffff"/><path d="M575.4 523.6 L621.9 655.7 L629.2 652.8Z" fill="#ffffff"/><path d="M575.4 523.6 L626.4 653.9 L633.6 650.9Z" fill="#ffffff"/><path d="M575.4 523.6 L631.0 652.1 L638.0 648.8Z" fill="#ffffff"/><path d="M575.4 523.6 L635.4 650.1 L642.4 646.5Z" fill="#ffffff"/><path d="M575.4 523.6 L639.8 647.9 L646.6 644.1Z" fill="#ffffff"/><path d="M575.4 523.6 L644.1 645.6 L650.8 641.5Z" fill="#ffffff"/><path d="M575.4 523.6 L648.3 643.1 L654.8 638.8Z" fill="#ffffff"/><path d="M575.4 523.6 L652.4 640.5 L658.8 636.0Z" fill="#ffffff"/><path d="M575.4 523.6 L656.4 637.7 L662.7 633.0Z" fill="#ffffff"/><path d="M575.4 523.6 L660.4 634.8 L666.5 629.9Z" fill="#ffffff"/><path d="M575.4 523.6 L664.2 631.8 L670.1 626.7Z" fill="#ffffff"/><path d="M575.4 523.6 L667.9 628.6 L673.7 623.3Z" fill="#ffffff"/><path d="M575.4 523.6 L671.5 625.3 L677.1 619.8Z" fill="#ffffff"/><path d="M575.4 523.6 L675.0 621.9 L680.4 616.2Z" fill="#ffffff"/><path d="M575.4 523.6 L678.4 618.4 L683.5 612.5Z" fill="#ffffff"/><path d="M575.4 523.6 L681.6 614.7 L686.6 608.6Z" fill="#ffffff"/><path d="M575.4 523.6 L684.8 610.9 L689.5 604.7Z" fill="#ffffff"/><path d="M575.4 523.6 L687.7 607.1 L692.2 600.7Z" fill="#ffffff"/><path d="M575.4 523.6 L690.6 603.1 L694.8 596.5Z" fill="#ffffff"/><path d="M575.4 523.6 L693.3 599.0 L697.3 592.3Z" fill="#ffffff"/><path d="M575.4 523.6 L695.9 594.9 L699.6 588.0Z" fill="#ffffff"/><path d="M575.4 523.6 L698.3 590.6 L701.8 583.7Z" fill="#ffffff"/><path d="M575.4 523.6 L700.5 586.3 L703.8 579.2Z" fill="#ffffff"/><path d="M575.4 523.6 L702.6 581.9 L705.7 574.7Z" fill="#ffffff"/><path d="M575.4 523.6 L704.6 577.4 L707.4 570.1Z" fill="#ffffff"/><path d="M575.4 523.6 L706.4 572.9 L708.9 565.5Z" fill="#ffffff"/><path d="M575.4 523.6 L708.0 568.3 L710.3 560.8Z" fill="#ffffff"/><path d="M575.4 523.6 L709.5 563.6 L711.5 556.0Z" fill="#ffffff"/><path d="M575.4 523.6 L710.8 558.9 L712.6 551.3Z" fill="#ffffff"/><path d="M575.4 523.6 L712.0 554.1 L713.5 546.5Z" fill="#ffffff"/><path d="M575.4 523.6 L713.0 549.4 L714.2 541.6Z" fill="#ffffff"/><path d="M575.4 523.6 L713.8 544.5 L714.7 536.8Z" fill="#ffffff"/><path d="M575.4 523.6 L714.4 539.7 L715.1 531.9Z" fill="#ffffff"/><path d="M575.4 523.6 L714.9 534.8 L715.3 527.0Z" fill="#ffffff"/><path d="M575.4 523.6 L715.2 530.0 L715.3 522.1Z" fill="#ffffff"/><path d="M575.4 523.6 L715.3 525.1 L715.2 517.2Z" fill="#ffffff"/><path d="M575.4 523.6 L715.3 520.2 L714.9 512.4Z" fill="#ffffff"/><path d="M575.4 523.6 L715.1 515.3 L714.4 507.5Z" fill="#ffffff"/><path d="M575.4 523.6 L714.7 510.4 L713.8 502.7Z" fill="#ffffff"/><path d="M575.4 523.6 L714.2 505.6 L713.0 497.8Z" fill="#ffffff"/><path d="M575.4 523.6 L713.5 500.7 L712.0 493.1Z" fill="#ffffff"/><path d="M575.4 523.6 L712.6 495.9 L710.8 488.3Z" fill="#ffffff"/><path d="M575.4 523.6 L711.5 491.2 L709.5 483.6Z" fill="#ffffff"/><path d="M575.4 523.6 L710.3 486.4 L708.0 478.9Z" fill="#ffffff"/><path d="M575.4 523.6 L708.9 481.7 L706.4 474.3Z" fill="#ffffff"/><path d="M575.4 523.6 L707.4 477.1 L704.6 469.8Z" fill="#ffffff"/><path d="M575.4 523.6 L705.7 472.5 L702.6 465.3Z" fill="#bfbfbf"/><path d="M575.4 523.6 L703.8 468.0 L700.5 460.9Z" fill="#404040"/><path d="M575.4 523.6 L701.8 463.5 L698.3 456.6Z" fill="#000000"/><path d="M575.4 523.6 L699.6 459.2 L695.9 452.3Z" fill="#000000"/><path d="M575.4 523.6 L697.3 454.9 L693.3 448.2Z" fill="#000000"/><path d="M575.4 523.6 L694.8 450.7 L690.6 444.1Z" fill="#000000"/><path d="M575.4 523.6 L692.2 446.5 L687.7 440.1Z" fill="#000000"/><path d="M575.4 523.6 L689.5 442.5 L684.8 436.3Z" fill="#000000"/><path d="M575.4 523.6 L686.6 438.6 L681.6 432.5Z" fill="#000000"/><path d="M575.4 523.6 L683.5 434.7 L678.4 428.8Z" fill="#000000"/><path d="M575.4 523.6 L680.4 431.0 L675.0 425.3Z" fill="#000000"/><path d="M575.4 523.6 L677.1 427.4 L671.5 421.9Z" fill="#000000"/><path d="M575.4 523.6 L673.7 423.9 L667.9 418.6Z" fill="#000000"/><path d="M575.4 523.6 L670.1 420.5 L664.2 415.4Z" fill="#000000"/><path d="M575.4 523.6 L666.5 417.3 L660.4 412.4Z" fill="#000000"/><path d="M575.4 523.6 L662.7 414.2 L656.4 409.5Z" fill="#000000"/><path d="M575.4 523.6 L658.8 411.2 L652.4 406.7Z" fill="#000000"/><path d="M575.4 523.6 L654.8 408.4 L648.3 404.1Z" fill="#000000"/><path d="M575.4 523.6 L650.8 405.7 L644.1 401.6Z" fill="#000000"/><path d="M575.4 523.6 L646.6 403.1 L639.8 399.3Z" fill="#000000"/><path d="M575.4 523.6 L642.4 400.7 L635.4 397.1Z" fill="#000000"/><path d="M575.4 523.6 L638.0 398.4 L631.0 395.1Z" fill="#000000"/><path d="M575.4 523.6 L633.6 396.3 L626.4 393.3Z" fill="#000000"/><path d="M575.4 523.6 L629.2 394.4 L621.9 391.5Z" fill="#000000"/><path d="M575.4 523.6 L624.6 392.6 L617.2 390.0Z" fill="#000000"/><path d="M575.4 523.6 L620.0 390.9 L612.5 388.6Z" fill="#000000"/><path d="M575.4 523.6 L615.3 389.4 L607.8 387.4Z" fill="#000000"/><path d="M575.4 523.6 L610.6 388.1 L603.0 386.4Z" fill="#000000"/><path d="M575.4 523.6 L605.9 387.0 L598.2 385.5Z" fill="#000000"/><path d="M575.4 523.6 L601.1 386.0 L593.4 384.8Z" fill="#000000"/><path d="M575.4 523.6 L596.3 385.2 L588.5 384.2Z" fill="#000000"/><path d="M575.4 523.6 L591.4 384.5 L583.7 383.8Z" fill="#000000"/><path d="M575.4 523.6 L586.6 384.1 L578.8 383.6Z" fill="#000000"/><path d="M575.4 523.6 L581.7 383.7 L573.9 383.6Z" fill="#000000"/><path d="M575.4 523.6 L576.8 383.6 L569.0 383.7Z" fill="#000000"/><path d="M575.4 523.6 L571.9 383.6 L564.1 384.1Z" fill="#000000"/><path d="M575.4 523.6 L567.0 383.8 L559.3 384.5Z" fill="#000000"/><path d="M575.4 523.6 L562.2 384.2 L554.4 385.2Z" fill="#000000"/><path d="M575.4 523.6 L557.3 384.8 L549.6 386.0Z" fill="#000000"/><path d="M575.4 523.6 L552.5 385.5 L544.8 387.0Z" fill="#000000"/><path d="M575.4 523.6 L547.7 386.4 L540.1 388.1Z" fill="#000000"/><path d="M575.4 523.6 L542.9 387.4 L535.4 389.4Z" fill="#000000"/><path d="M575.4 523.6 L538.2 388.6 L530.7 390.9Z" fill="#000000"/><path d="M575.4 523.6 L533.5 390.0 L526.1 392.6Z" fill="#000000"/><path d="M575.4 523.6 L528.8 391.5 L521.5 394.4Z" fill="#000000"/><path d="M575.4 523.6 L524.3 393.3 L517.1 396.3Z" fill="#000000"/><path d="M575.4 523.6 L519.7 395.1 L512.7 398.4Z" fill="#000000"/><path d="M575.4 523.6 L515.3 397.1 L508.3 400.7Z" fill="#000000"/><path d="M575.4 523.6 L510.9 399.3 L504.1 403.1Z" fill="#000000"/><path d="M575.4 523.6 L506.6 401.6 L499.9 405.7Z" fill="#000000"/><path d="M575.4 523.6 L502.4 404.1 L495.9 408.4Z" fill="#000000"/><path d="M575.4 523.6 L498.3 406.7 L491.9 411.2Z" fill="#000000"/><path d="M575.4 523.6 L494.3 409.5 L488.0 414.2Z" fill="#000000"/><path d="M575.4 523.6 L490.3 412.4 L484.2 417.3Z" fill="#000000"/><path d="M575.4 523.6 L486.5 415.4 L480.6 420.5Z" fill="#000000"/><path d="M575.4 523.6 L482.8 418.6 L477.0 423.9Z" fill="#000000"/><path d="M575.4 523.6 L479.2 421.9 L473.6 427.4Z" fill="#000000"/><path d="M575.4 523.6 L475.7 425.3 L470.3 431.0Z" fill="#000000"/><path d="M575.4 523.6 L472.3 428.8 L467.2 434.7Z" fill="#000000"/><path d="M575.4 523.6 L469.1 432.5 L464.1 438.6Z" fill="#000000"/><path d="M575.4 523.6 L465.9 436.3 L461.2 442.5Z" fill="#000000"/><path d="M575.4 523.6 L463.0 440.1 L458.5 446.5Z" fill="#000000"/><path d="M575.4 523.6 L460.1 444.1 L455.9 450.7Z" fill="#000000"/><path d="M575.4 523.6 L457.4 448.2 L453.4 454.9Z" fill="#000000"/><path d="M575.4 523.6 L454.8 452.3 L451.1 459.2Z" fill="#000000"/><path d="M575.4 523.6 L452.4 456.6 L448.9 463.5Z" fill="#404040"/><path d="M575.4 523.6 L450.2 460.9 L446.9 468.0Z" fill="#bfbfbf"/><path d="M575.4 523.6 L448.1 465.3 L445.0 472.5Z" fill="#ffffff"/><path d="M575.4 523.6 L446.1 469.8 L443.3 477.1Z" fill="#ffffff"/><path d="M575.4 523.6 L444.3 474.3 L441.8 481.7Z" fill="#ffffff"/><path d="M575.4 523.6 L442.7 478.9 L440.4 486.4Z" fill="#ffffff"/><path d="M575.4 523.6 L441.2 483.6 L439.2 491.2Z" fill="#ffffff"/><path d="M575.4 523.6 L439.9 488.3 L438.1 495.9Z" fill="#ffffff"/><path d="M575.4 523.6 L438.7 493.1 L437.2 500.7Z" fill="#ffffff"/><path d="M575.4 523.6 L437.7 497.8 L436.5 505.6Z" fill="#ffffff"/><path d="M575.4 523.6 L436.9 502.7 L436.0 510.4Z" fill="#ffffff"/><path d="M575.4 523.6 L436.3 507.5 L435.6 515.3Z" fill="#ffffff"/><path d="M575.4 523.6 L435.8 512.4 L435.4 520.2Z" fill="#ffffff"/><path d="M575.4 523.6 L435.5 517.2 L435.4 525.1Z" fill="#ffffff"/></g></mask><g filter="url(#blur)"><ellipse cx="575.33" cy="523.56" rx="94.49" ry="91.84" fill="#57ffa8"/>
<ellipse cx="575.33" cy="523.56" rx="94.16" ry="91.57" fill="#48ffb7"/>
<ellipse cx="575.33" cy="523.57" rx="93.83" ry="91.30" fill="#33ffcc"/>
<ellipse cx="575.34" cy="523.57" rx="93.50" ry="91.03" fill="#27ffd8"/>
<ellipse cx="575.34" cy="523.58" rx="93.17" ry="90.76" fill="#2effd1"/>
<ellipse cx="575.34" cy="523.58" rx="92.84" ry="90.49" fill="#4dffb2"/>
<ellipse cx="575.34" cy="523.58" rx="92.51" ry="90.22" fill="#7dff82"/>
<ellipse cx="575.34" cy="523.59" rx="92.18" ry="89.95" fill="#b1ff4e"/>
<ellipse cx="575.35" cy="523.59" rx="91.85" ry="89.69" fill="#dcff23"/>
<ellipse cx="575.35" cy="523.60" rx="91.52" ry="89.42" fill="#f1ff0e"/>
<ellipse cx="575.35" cy="523.60" rx="91.19" ry="89.15" fill="#edff12"/>
<ellipse cx="575.35" cy="523.60" rx="90.85" ry="88.88" fill="#d5ff2a"/>
<ellipse cx="575.35" cy="523.61" rx="90.52" ry="88.61" fill="#aeff51"/>
<ellipse cx="575.36" cy="523.61" rx="90.19" ry="88.34" fill="#7dff82"/>
<ellipse cx="575.36" cy="523.62" rx="89.86" ry="88.07" fill="#4cffb3"/>
<ellipse cx="575.36" cy="523.62" rx="89.53" ry="87.80" fill="#22ffdd"/>
<ellipse cx="575.36" cy="523.62" rx="89.20" ry="87.53" fill="#07fff8"/>
<ellipse cx="575.36" cy="523.63" rx="88.87" ry="87.26" fill="#00ffff"/>
<ellipse cx="575.37" cy="523.63" rx="88.54" ry="86.99" fill="#0efff1"/>
<ellipse cx="575.37" cy="523.64" rx="88.21" ry="86.72" fill="#30ffcf"/>
<ellipse cx="575.37" cy="523.64" rx="87.88" ry="86.46" fill="#5fffa0"/>
<ellipse cx="575.37" cy="523.64" rx="87.55" ry="86.19" fill="#94ff6b"/>
<ellipse cx="575.37" cy="523.65" rx="87.22" ry="85.92" fill="#c5ff3a"/>
<ellipse cx="575.38" cy="523.65" rx="86.88" ry="85.65" fill="#eaff15"/>
<ellipse cx="575.38" cy="523.66" rx="86.55" ry="85.38" fill="#fdff02"/>
<ellipse cx="575.38" cy="523.66" rx="86.22" ry="85.11" fill="#fbff04"/>
<ellipse cx="575.38" cy="523.66" rx="85.89" ry="84.84" fill="#e2ff1d"/>
<ellipse cx="575.38" cy="523.67" rx="85.56" ry="84.57" fill="#b7ff48"/>
<ellipse cx="575.39" cy="523.67" rx="85.23" ry="84.30" fill="#82ff7d"/>
<ellipse cx="575.39" cy="523.68" rx="84.90" ry="84.03" fill="#4bffb4"/>
<ellipse cx="575.39" cy="523.68" rx="84.57" ry="83.76" fill="#1cffe3"/>
<ellipse cx="575.39" cy="523.68" rx="84.24" ry="83.49" fill="#00fcff"/>
<ellipse cx="575.39" cy="523.69" rx="83.91" ry="83.23" fill="#00f2ff"/>
<ellipse cx="575.40" cy="523.69" rx="83.58" ry="82.96" fill="#02fffd"/>
<ellipse cx="575.40" cy="523.70" rx="83.25" ry="82.69" fill="#27ffd8"/>
<ellipse cx="575.40" cy="523.70" rx="82.91" ry="82.42" fill="#5cffa3"/>
<ellipse cx="575.40" cy="523.70" rx="82.58" ry="82.15" fill="#98ff67"/>
<ellipse cx="575.40" cy="523.71" rx="82.25" ry="81.88" fill="#d1ff2e"/>
<ellipse cx="575.41" cy="523.71" rx="81.92" ry="81.61" fill="#feff01"/>
<ellipse cx="575.41" cy="523.72" rx="81.59" ry="81.34" fill="#ffe800"/>
<ellipse cx="575.41" cy="523.72" rx="81.26" ry="81.07" fill="#ffe900"/>
<ellipse cx="575.41" cy="523.72" rx="80.93" ry="80.80" fill="#fcff03"/>
<ellipse cx="575.41" cy="523.73" rx="80.60" ry="80.53" fill="#ceff31"/>
<ellipse cx="575.42" cy="523.73" rx="80.27" ry="80.26" fill="#95ff6a"/>
<ellipse cx="575.42" cy="523.74" rx="79.94" ry="80.00" fill="#58ffa7"/>
<ellipse cx="575.42" cy="523.74" rx="79.61" ry="79.73" fill="#24ffdb"/>
<ellipse cx="575.42" cy="523.74" rx="79.28" ry="79.46" fill="#00ffff"/>
<ellipse cx="575.42" cy="523.75" rx="78.94" ry="79.19" fill="#00f2ff"/>
<ellipse cx="575.43" cy="523.75" rx="78.61" ry="78.92" fill="#00fdff"/>
<ellipse cx="575.43" cy="523.76" rx="78.28" ry="78.65" fill="#1fffe0"/>
<ellipse cx="575.43" cy="523.76" rx="77.95" ry="78.38" fill="#4effb1"/>
<ellipse cx="575.43" cy="523.76" rx="77.62" ry="78.11" fill="#85ff7a"/>
<ellipse cx="575.43" cy="523.77" rx="77.29" ry="77.84" fill="#baff45"/>
<ellipse cx="575.44" cy="523.77" rx="76.96" ry="77.57" fill="#e4ff1b"/>
<ellipse cx="575.44" cy="523.78" rx="76.63" ry="77.30" fill="#fbff04"/>
<ellipse cx="575.44" cy="523.78" rx="76.30" ry="77.03" fill="#fdff02"/>
<ellipse cx="575.44" cy="523.78" rx="75.97" ry="76.77" fill="#e9ff16"/>
<ellipse cx="575.44" cy="523.79" rx="75.64" ry="76.50" fill="#c2ff3d"/>
<ellipse cx="575.45" cy="523.79" rx="75.31" ry="76.23" fill="#91ff6e"/>
<ellipse cx="575.45" cy="523.80" rx="74.97" ry="75.96" fill="#5cffa3"/>
<ellipse cx="575.45" cy="523.80" rx="74.64" ry="75.69" fill="#2effd1"/>
<ellipse cx="575.45" cy="523.80" rx="74.31" ry="75.42" fill="#0dfff2"/>
<ellipse cx="575.45" cy="523.81" rx="73.98" ry="75.15" fill="#00ffff"/>
<ellipse cx="575.46" cy="523.81" rx="73.65" ry="74.88" fill="#08fff7"/>
<ellipse cx="575.46" cy="523.82" rx="73.32" ry="74.61" fill="#24ffdb"/>
<ellipse cx="575.46" cy="523.82" rx="72.99" ry="74.34" fill="#4effb1"/>
<ellipse cx="575.46" cy="523.82" rx="72.66" ry="74.07" fill="#80ff7f"/>
<ellipse cx="575.46" cy="523.83" rx="72.33" ry="73.80" fill="#b0ff4f"/>
<ellipse cx="575.47" cy="523.83" rx="72.00" ry="73.54" fill="#d7ff28"/>
<ellipse cx="575.47" cy="523.84" rx="71.67" ry="73.27" fill="#eeff11"/>
<ellipse cx="575.47" cy="523.84" rx="71.34" ry="73.00" fill="#f1ff0e"/>
<ellipse cx="575.47" cy="523.84" rx="71.00" ry="72.73" fill="#e1ff1e"/>
<ellipse cx="575.47" cy="523.85" rx="70.67" ry="72.46" fill="#c2ff3d"/>
<ellipse cx="575.48" cy="523.85" rx="70.34" ry="72.19" fill="#98ff67"/>
<ellipse cx="575.48" cy="523.86" rx="70.01" ry="71.92" fill="#6bff94"/>
<ellipse cx="575.48" cy="523.86" rx="69.68" ry="71.65" fill="#43ffbc"/>
<ellipse cx="575.48" cy="523.86" rx="69.35" ry="71.38" fill="#26ffd9"/>
<ellipse cx="575.48" cy="523.87" rx="69.02" ry="71.11" fill="#1affe5"/>
<ellipse cx="575.49" cy="523.87" rx="68.69" ry="70.84" fill="#1fffe0"/>
<ellipse cx="575.49" cy="523.88" rx="68.36" ry="70.57" fill="#34ffcb"/>
<ellipse cx="575.49" cy="523.88" rx="68.03" ry="70.31" fill="#54ffab"/>
<ellipse cx="575.49" cy="523.88" rx="67.70" ry="70.04" fill="#7bff84"/>
<ellipse cx="575.49" cy="523.89" rx="67.37" ry="69.77" fill="#a2ff5d"/>
<ellipse cx="575.50" cy="523.89" rx="67.03" ry="69.50" fill="#c1ff3e"/>
<ellipse cx="575.50" cy="523.90" rx="66.70" ry="69.23" fill="#d4ff2b"/>
<ellipse cx="575.50" cy="523.90" rx="66.37" ry="68.96" fill="#d8ff27"/>
<ellipse cx="575.50" cy="523.90" rx="66.04" ry="68.69" fill="#ccff33"/>
<ellipse cx="575.50" cy="523.91" rx="65.71" ry="68.42" fill="#b6ff49"/>
<ellipse cx="575.51" cy="523.91" rx="65.38" ry="68.15" fill="#9cff63"/>
<ellipse cx="575.51" cy="523.92" rx="65.05" ry="67.88" fill="#87ff78"/>
<ellipse cx="575.51" cy="523.92" rx="64.72" ry="67.61" fill="#80ff80"/></g><mask id="mdm" maskUnits="userSpaceOnUse" x="0" y="0" width="762" height="1119"><g filter="url(#soft2)"><path d="M575.4 523.6 L435.4 522.1 L435.5 530.0Z" fill="#ffffff"/><path d="M575.4 523.6 L435.4 527.0 L435.8 534.8Z" fill="#ffffff"/><path d="M575.4 523.6 L435.6 531.9 L436.3 539.7Z" fill="#ffffff"/><path d="M575.4 523.6 L436.0 536.8 L436.9 544.5Z" fill="#ffffff"/><path d="M575.4 523.6 L436.5 541.6 L437.7 549.4Z" fill="#ffffff"/><path d="M575.4 523.6 L437.2 546.5 L438.7 554.1Z" fill="#ffffff"/><path d="M575.4 523.6 L438.1 551.3 L439.9 558.9Z" fill="#ffffff"/><path d="M575.4 523.6 L439.2 556.0 L441.2 563.6Z" fill="#ffffff"/><path d="M575.4 523.6 L440.4 560.8 L442.7 568.3Z" fill="#ffffff"/><path d="M575.4 523.6 L441.8 565.5 L444.3 572.9Z" fill="#ffffff"/><path d="M575.4 523.6 L443.3 570.1 L446.1 577.4Z" fill="#ffffff"/><path d="M575.4 523.6 L445.0 574.7 L448.1 581.9Z" fill="#ffffff"/><path d="M575.4 523.6 L446.9 579.2 L450.2 586.3Z" fill="#ffffff"/><path d="M575.4 523.6 L448.9 583.7 L452.4 590.6Z" fill="#ffffff"/><path d="M575.4 523.6 L451.1 588.0 L454.8 594.9Z" fill="#ffffff"/><path d="M575.4 523.6 L453.4 592.3 L457.4 599.0Z" fill="#ffffff"/><path d="M575.4 523.6 L455.9 596.5 L460.1 603.1Z" fill="#ffffff"/><path d="M575.4 523.6 L458.5 600.7 L463.0 607.1Z" fill="#ffffff"/><path d="M575.4 523.6 L461.2 604.7 L465.9 610.9Z" fill="#ffffff"/><path d="M575.4 523.6 L464.1 608.6 L469.1 614.7Z" fill="#ffffff"/><path d="M575.4 523.6 L467.2 612.5 L472.3 618.4Z" fill="#ffffff"/><path d="M575.4 523.6 L470.3 616.2 L475.7 621.9Z" fill="#ffffff"/><path d="M575.4 523.6 L473.6 619.8 L479.2 625.3Z" fill="#ffffff"/><path d="M575.4 523.6 L477.0 623.3 L482.8 628.6Z" fill="#ffffff"/><path d="M575.4 523.6 L480.6 626.7 L486.5 631.8Z" fill="#ffffff"/><path d="M575.4 523.6 L484.2 629.9 L490.3 634.8Z" fill="#ffffff"/><path d="M575.4 523.6 L488.0 633.0 L494.3 637.7Z" fill="#ffffff"/><path d="M575.4 523.6 L491.9 636.0 L498.3 640.5Z" fill="#ffffff"/><path d="M575.4 523.6 L495.9 638.8 L502.4 643.1Z" fill="#ffffff"/><path d="M575.4 523.6 L499.9 641.5 L506.6 645.6Z" fill="#ffffff"/><path d="M575.4 523.6 L504.1 644.1 L510.9 647.9Z" fill="#ffffff"/><path d="M575.4 523.6 L508.3 646.5 L515.3 650.1Z" fill="#ffffff"/><path d="M575.4 523.6 L512.7 648.8 L519.7 652.1Z" fill="#ffffff"/><path d="M575.4 523.6 L517.1 650.9 L524.3 653.9Z" fill="#ffffff"/><path d="M575.4 523.6 L521.5 652.8 L528.8 655.7Z" fill="#ffffff"/><path d="M575.4 523.6 L526.1 654.6 L533.5 657.2Z" fill="#ffffff"/><path d="M575.4 523.6 L530.7 656.3 L538.2 658.6Z" fill="#ffffff"/><path d="M575.4 523.6 L535.4 657.8 L542.9 659.8Z" fill="#ffffff"/><path d="M575.4 523.6 L540.1 659.1 L547.7 660.8Z" fill="#ffffff"/><path d="M575.4 523.6 L544.8 660.2 L552.5 661.7Z" fill="#ffffff"/><path d="M575.4 523.6 L549.6 661.2 L557.3 662.4Z" fill="#ffffff"/><path d="M575.4 523.6 L554.4 662.0 L562.2 663.0Z" fill="#ffffff"/><path d="M575.4 523.6 L559.3 662.7 L567.0 663.4Z" fill="#ffffff"/><path d="M575.4 523.6 L564.1 663.1 L571.9 663.6Z" fill="#ffffff"/><path d="M575.4 523.6 L569.0 663.5 L576.8 663.6Z" fill="#ffffff"/><path d="M575.4 523.6 L573.9 663.6 L581.7 663.5Z" fill="#ffffff"/><path d="M575.4 523.6 L578.8 663.6 L586.6 663.1Z" fill="#ffffff"/><path d="M575.4 523.6 L583.7 663.4 L591.4 662.7Z" fill="#ffffff"/><path d="M575.4 523.6 L588.5 663.0 L596.3 662.0Z" fill="#ffffff"/><path d="M575.4 523.6 L593.4 662.4 L601.1 661.2Z" fill="#ffffff"/><path d="M575.4 523.6 L598.2 661.7 L605.9 660.2Z" fill="#ffffff"/><path d="M575.4 523.6 L603.0 660.8 L610.6 659.1Z" fill="#ffffff"/><path d="M575.4 523.6 L607.8 659.8 L615.3 657.8Z" fill="#ffffff"/><path d="M575.4 523.6 L612.5 658.6 L620.0 656.3Z" fill="#ffffff"/><path d="M575.4 523.6 L617.2 657.2 L624.6 654.6Z" fill="#ffffff"/><path d="M575.4 523.6 L621.9 655.7 L629.2 652.8Z" fill="#ffffff"/><path d="M575.4 523.6 L626.4 653.9 L633.6 650.9Z" fill="#ffffff"/><path d="M575.4 523.6 L631.0 652.1 L638.0 648.8Z" fill="#ffffff"/><path d="M575.4 523.6 L635.4 650.1 L642.4 646.5Z" fill="#ffffff"/><path d="M575.4 523.6 L639.8 647.9 L646.6 644.1Z" fill="#ffffff"/><path d="M575.4 523.6 L644.1 645.6 L650.8 641.5Z" fill="#ffffff"/><path d="M575.4 523.6 L648.3 643.1 L654.8 638.8Z" fill="#ffffff"/><path d="M575.4 523.6 L652.4 640.5 L658.8 636.0Z" fill="#ffffff"/><path d="M575.4 523.6 L656.4 637.7 L662.7 633.0Z" fill="#ffffff"/><path d="M575.4 523.6 L660.4 634.8 L666.5 629.9Z" fill="#ffffff"/><path d="M575.4 523.6 L664.2 631.8 L670.1 626.7Z" fill="#ffffff"/><path d="M575.4 523.6 L667.9 628.6 L673.7 623.3Z" fill="#ffffff"/><path d="M575.4 523.6 L671.5 625.3 L677.1 619.8Z" fill="#ffffff"/><path d="M575.4 523.6 L675.0 621.9 L680.4 616.2Z" fill="#ffffff"/><path d="M575.4 523.6 L678.4 618.4 L683.5 612.5Z" fill="#ffffff"/><path d="M575.4 523.6 L681.6 614.7 L686.6 608.6Z" fill="#ffffff"/><path d="M575.4 523.6 L684.8 610.9 L689.5 604.7Z" fill="#ffffff"/><path d="M575.4 523.6 L687.7 607.1 L692.2 600.7Z" fill="#ffffff"/><path d="M575.4 523.6 L690.6 603.1 L694.8 596.5Z" fill="#ffffff"/><path d="M575.4 523.6 L693.3 599.0 L697.3 592.3Z" fill="#ffffff"/><path d="M575.4 523.6 L695.9 594.9 L699.6 588.0Z" fill="#ffffff"/><path d="M575.4 523.6 L698.3 590.6 L701.8 583.7Z" fill="#ffffff"/><path d="M575.4 523.6 L700.5 586.3 L703.8 579.2Z" fill="#ffffff"/><path d="M575.4 523.6 L702.6 581.9 L705.7 574.7Z" fill="#ffffff"/><path d="M575.4 523.6 L704.6 577.4 L707.4 570.1Z" fill="#ffffff"/><path d="M575.4 523.6 L706.4 572.9 L708.9 565.5Z" fill="#ffffff"/><path d="M575.4 523.6 L708.0 568.3 L710.3 560.8Z" fill="#ffffff"/><path d="M575.4 523.6 L709.5 563.6 L711.5 556.0Z" fill="#ffffff"/><path d="M575.4 523.6 L710.8 558.9 L712.6 551.3Z" fill="#ffffff"/><path d="M575.4 523.6 L712.0 554.1 L713.5 546.5Z" fill="#ffffff"/><path d="M575.4 523.6 L713.0 549.4 L714.2 541.6Z" fill="#ffffff"/><path d="M575.4 523.6 L713.8 544.5 L714.7 536.8Z" fill="#ffffff"/><path d="M575.4 523.6 L714.4 539.7 L715.1 531.9Z" fill="#ffffff"/><path d="M575.4 523.6 L714.9 534.8 L715.3 527.0Z" fill="#ffffff"/><path d="M575.4 523.6 L715.2 530.0 L715.3 522.1Z" fill="#ffffff"/><path d="M575.4 523.6 L715.3 525.1 L715.2 517.2Z" fill="#ffffff"/><path d="M575.4 523.6 L715.3 520.2 L714.9 512.4Z" fill="#ffffff"/><path d="M575.4 523.6 L715.1 515.3 L714.4 507.5Z" fill="#ffffff"/><path d="M575.4 523.6 L714.7 510.4 L713.8 502.7Z" fill="#ffffff"/><path d="M575.4 523.6 L714.2 505.6 L713.0 497.8Z" fill="#ffffff"/><path d="M575.4 523.6 L713.5 500.7 L712.0 493.1Z" fill="#ffffff"/><path d="M575.4 523.6 L712.6 495.9 L710.8 488.3Z" fill="#ffffff"/><path d="M575.4 523.6 L711.5 491.2 L709.5 483.6Z" fill="#ffffff"/><path d="M575.4 523.6 L710.3 486.4 L708.0 478.9Z" fill="#ffffff"/><path d="M575.4 523.6 L708.9 481.7 L706.4 474.3Z" fill="#ffffff"/><path d="M575.4 523.6 L707.4 477.1 L704.6 469.8Z" fill="#ffffff"/><path d="M575.4 523.6 L705.7 472.5 L702.6 465.3Z" fill="#ffffff"/><path d="M575.4 523.6 L703.8 468.0 L700.5 460.9Z" fill="#cccccc"/><path d="M575.4 523.6 L701.8 463.5 L698.3 456.6Z" fill="#666666"/><path d="M575.4 523.6 L699.6 459.2 L695.9 452.3Z" fill="#000000"/><path d="M575.4 523.6 L697.3 454.9 L693.3 448.2Z" fill="#000000"/><path d="M575.4 523.6 L694.8 450.7 L690.6 444.1Z" fill="#000000"/><path d="M575.4 523.6 L692.2 446.5 L687.7 440.1Z" fill="#000000"/><path d="M575.4 523.6 L689.5 442.5 L684.8 436.3Z" fill="#000000"/><path d="M575.4 523.6 L686.6 438.6 L681.6 432.5Z" fill="#000000"/><path d="M575.4 523.6 L683.5 434.7 L678.4 428.8Z" fill="#2a2a2a"/><path d="M575.4 523.6 L680.4 431.0 L675.0 425.3Z" fill="#808080"/><path d="M575.4 523.6 L677.1 427.4 L671.5 421.9Z" fill="#d4d4d4"/><path d="M575.4 523.6 L673.7 423.9 L667.9 418.6Z" fill="#ffffff"/><path d="M575.4 523.6 L670.1 420.5 L664.2 415.4Z" fill="#ffffff"/><path d="M575.4 523.6 L666.5 417.3 L660.4 412.4Z" fill="#ffffff"/><path d="M575.4 523.6 L662.7 414.2 L656.4 409.5Z" fill="#ffffff"/><path d="M575.4 523.6 L658.8 411.2 L652.4 406.7Z" fill="#ffffff"/><path d="M575.4 523.6 L654.8 408.4 L648.3 404.1Z" fill="#ffffff"/><path d="M575.4 523.6 L650.8 405.7 L644.1 401.6Z" fill="#ffffff"/><path d="M575.4 523.6 L646.6 403.1 L639.8 399.3Z" fill="#ffffff"/><path d="M575.4 523.6 L642.4 400.7 L635.4 397.1Z" fill="#ffffff"/><path d="M575.4 523.6 L638.0 398.4 L631.0 395.1Z" fill="#ffffff"/><path d="M575.4 523.6 L633.6 396.3 L626.4 393.3Z" fill="#d4d4d4"/><path d="M575.4 523.6 L629.2 394.4 L621.9 391.5Z" fill="#808080"/><path d="M575.4 523.6 L624.6 392.6 L617.2 390.0Z" fill="#2a2a2a"/><path d="M575.4 523.6 L620.0 390.9 L612.5 388.6Z" fill="#000000"/><path d="M575.4 523.6 L615.3 389.4 L607.8 387.4Z" fill="#000000"/><path d="M575.4 523.6 L610.6 388.1 L603.0 386.4Z" fill="#000000"/><path d="M575.4 523.6 L605.9 387.0 L598.2 385.5Z" fill="#000000"/><path d="M575.4 523.6 L601.1 386.0 L593.4 384.8Z" fill="#000000"/><path d="M575.4 523.6 L596.3 385.2 L588.5 384.2Z" fill="#000000"/><path d="M575.4 523.6 L591.4 384.5 L583.7 383.8Z" fill="#000000"/><path d="M575.4 523.6 L586.6 384.1 L578.8 383.6Z" fill="#000000"/><path d="M575.4 523.6 L581.7 383.7 L573.9 383.6Z" fill="#000000"/><path d="M575.4 523.6 L576.8 383.6 L569.0 383.7Z" fill="#000000"/><path d="M575.4 523.6 L571.9 383.6 L564.1 384.1Z" fill="#000000"/><path d="M575.4 523.6 L567.0 383.8 L559.3 384.5Z" fill="#000000"/><path d="M575.4 523.6 L562.2 384.2 L554.4 385.2Z" fill="#000000"/><path d="M575.4 523.6 L557.3 384.8 L549.6 386.0Z" fill="#000000"/><path d="M575.4 523.6 L552.5 385.5 L544.8 387.0Z" fill="#000000"/><path d="M575.4 523.6 L547.7 386.4 L540.1 388.1Z" fill="#000000"/><path d="M575.4 523.6 L542.9 387.4 L535.4 389.4Z" fill="#000000"/><path d="M575.4 523.6 L538.2 388.6 L530.7 390.9Z" fill="#000000"/><path d="M575.4 523.6 L533.5 390.0 L526.1 392.6Z" fill="#2a2a2a"/><path d="M575.4 523.6 L528.8 391.5 L521.5 394.4Z" fill="#808080"/><path d="M575.4 523.6 L524.3 393.3 L517.1 396.3Z" fill="#d4d4d4"/><path d="M575.4 523.6 L519.7 395.1 L512.7 398.4Z" fill="#ffffff"/><path d="M575.4 523.6 L515.3 397.1 L508.3 400.7Z" fill="#ffffff"/><path d="M575.4 523.6 L510.9 399.3 L504.1 403.1Z" fill="#ffffff"/><path d="M575.4 523.6 L506.6 401.6 L499.9 405.7Z" fill="#ffffff"/><path d="M575.4 523.6 L502.4 404.1 L495.9 408.4Z" fill="#ffffff"/><path d="M575.4 523.6 L498.3 406.7 L491.9 411.2Z" fill="#ffffff"/><path d="M575.4 523.6 L494.3 409.5 L488.0 414.2Z" fill="#ffffff"/><path d="M575.4 523.6 L490.3 412.4 L484.2 417.3Z" fill="#ffffff"/><path d="M575.4 523.6 L486.5 415.4 L480.6 420.5Z" fill="#ffffff"/><path d="M575.4 523.6 L482.8 418.6 L477.0 423.9Z" fill="#ffffff"/><path d="M575.4 523.6 L479.2 421.9 L473.6 427.4Z" fill="#d4d4d4"/><path d="M575.4 523.6 L475.7 425.3 L470.3 431.0Z" fill="#808080"/><path d="M575.4 523.6 L472.3 428.8 L467.2 434.7Z" fill="#2a2a2a"/><path d="M575.4 523.6 L469.1 432.5 L464.1 438.6Z" fill="#000000"/><path d="M575.4 523.6 L465.9 436.3 L461.2 442.5Z" fill="#000000"/><path d="M575.4 523.6 L463.0 440.1 L458.5 446.5Z" fill="#000000"/><path d="M575.4 523.6 L460.1 444.1 L455.9 450.7Z" fill="#000000"/><path d="M575.4 523.6 L457.4 448.2 L453.4 454.9Z" fill="#000000"/><path d="M575.4 523.6 L454.8 452.3 L451.1 459.2Z" fill="#000000"/><path d="M575.4 523.6 L452.4 456.6 L448.9 463.5Z" fill="#666666"/><path d="M575.4 523.6 L450.2 460.9 L446.9 468.0Z" fill="#cccccc"/><path d="M575.4 523.6 L448.1 465.3 L445.0 472.5Z" fill="#ffffff"/><path d="M575.4 523.6 L446.1 469.8 L443.3 477.1Z" fill="#ffffff"/><path d="M575.4 523.6 L444.3 474.3 L441.8 481.7Z" fill="#ffffff"/><path d="M575.4 523.6 L442.7 478.9 L440.4 486.4Z" fill="#ffffff"/><path d="M575.4 523.6 L441.2 483.6 L439.2 491.2Z" fill="#ffffff"/><path d="M575.4 523.6 L439.9 488.3 L438.1 495.9Z" fill="#ffffff"/><path d="M575.4 523.6 L438.7 493.1 L437.2 500.7Z" fill="#ffffff"/><path d="M575.4 523.6 L437.7 497.8 L436.5 505.6Z" fill="#ffffff"/><path d="M575.4 523.6 L436.9 502.7 L436.0 510.4Z" fill="#ffffff"/><path d="M575.4 523.6 L436.3 507.5 L435.6 515.3Z" fill="#ffffff"/><path d="M575.4 523.6 L435.8 512.4 L435.4 520.2Z" fill="#ffffff"/><path d="M575.4 523.6 L435.5 517.2 L435.4 525.1Z" fill="#ffffff"/></g></mask><g filter="url(#blur)" mask="url(#mdm)"><ellipse cx="575.33" cy="523.56" rx="94.49" ry="91.84" fill="#57ffa8"/>
<ellipse cx="575.33" cy="523.56" rx="94.16" ry="91.57" fill="#48ffb7"/>
<ellipse cx="575.33" cy="523.57" rx="93.83" ry="91.30" fill="#33ffcc"/>
<ellipse cx="575.34" cy="523.57" rx="93.50" ry="91.03" fill="#27ffd8"/>
<ellipse cx="575.34" cy="523.58" rx="93.17" ry="90.76" fill="#2effd1"/>
<ellipse cx="575.34" cy="523.58" rx="92.84" ry="90.49" fill="#4dffb2"/>
<ellipse cx="575.34" cy="523.58" rx="92.51" ry="90.22" fill="#7dff82"/>
<ellipse cx="575.34" cy="523.59" rx="92.18" ry="89.95" fill="#b1ff4e"/>
<ellipse cx="575.35" cy="523.59" rx="91.85" ry="89.69" fill="#dcff23"/>
<ellipse cx="575.35" cy="523.60" rx="91.52" ry="89.42" fill="#f1ff0e"/>
<ellipse cx="575.35" cy="523.60" rx="91.19" ry="89.15" fill="#edff12"/>
<ellipse cx="575.35" cy="523.60" rx="90.85" ry="88.88" fill="#d5ff2a"/>
<ellipse cx="575.35" cy="523.61" rx="90.52" ry="88.61" fill="#aeff51"/>
<ellipse cx="575.36" cy="523.61" rx="90.19" ry="88.34" fill="#7dff82"/>
<ellipse cx="575.36" cy="523.62" rx="89.86" ry="88.07" fill="#4cffb3"/>
<ellipse cx="575.36" cy="523.62" rx="89.53" ry="87.80" fill="#22ffdd"/>
<ellipse cx="575.36" cy="523.62" rx="89.20" ry="87.53" fill="#07fff8"/>
<ellipse cx="575.36" cy="523.63" rx="88.87" ry="87.26" fill="#00ffff"/>
<ellipse cx="575.37" cy="523.63" rx="88.54" ry="86.99" fill="#0efff1"/>
<ellipse cx="575.37" cy="523.64" rx="88.21" ry="86.72" fill="#30ffcf"/>
<ellipse cx="575.37" cy="523.64" rx="87.88" ry="86.46" fill="#5fffa0"/>
<ellipse cx="575.37" cy="523.64" rx="87.55" ry="86.19" fill="#94ff6b"/>
<ellipse cx="575.37" cy="523.65" rx="87.22" ry="85.92" fill="#c5ff3a"/>
<ellipse cx="575.38" cy="523.65" rx="86.88" ry="85.65" fill="#eaff15"/>
<ellipse cx="575.38" cy="523.66" rx="86.55" ry="85.38" fill="#fdff02"/>
<ellipse cx="575.38" cy="523.66" rx="86.22" ry="85.11" fill="#faff05"/>
<ellipse cx="575.38" cy="523.66" rx="85.89" ry="84.84" fill="#deff21"/>
<ellipse cx="575.38" cy="523.67" rx="85.56" ry="84.57" fill="#adff52"/>
<ellipse cx="575.39" cy="523.67" rx="85.23" ry="84.30" fill="#70ff8f"/>
<ellipse cx="575.39" cy="523.68" rx="84.90" ry="84.03" fill="#31ffce"/>
<ellipse cx="575.39" cy="523.68" rx="84.57" ry="83.76" fill="#00fbff"/>
<ellipse cx="575.39" cy="523.68" rx="84.24" ry="83.49" fill="#00d7ff"/>
<ellipse cx="575.39" cy="523.69" rx="83.91" ry="83.23" fill="#00ccff"/>
<ellipse cx="575.40" cy="523.69" rx="83.58" ry="82.96" fill="#00e2ff"/>
<ellipse cx="575.40" cy="523.70" rx="83.25" ry="82.69" fill="#1bffe4"/>
<ellipse cx="575.40" cy="523.70" rx="82.91" ry="82.42" fill="#6cff93"/>
<ellipse cx="575.40" cy="523.70" rx="82.58" ry="82.15" fill="#c8ff37"/>
<ellipse cx="575.40" cy="523.71" rx="82.25" ry="81.88" fill="#ffdf00"/>
<ellipse cx="575.41" cy="523.71" rx="81.92" ry="81.61" fill="#ff9b00"/>
<ellipse cx="575.41" cy="523.72" rx="81.59" ry="81.34" fill="#ff7700"/>
<ellipse cx="575.41" cy="523.72" rx="81.26" ry="81.07" fill="#ff7300"/>
<ellipse cx="575.41" cy="523.73" rx="80.60" ry="80.53" fill="#ff9b00"/>
<ellipse cx="575.42" cy="523.73" rx="80.27" ry="80.26" fill="#a6ff59"/>
<ellipse cx="575.42" cy="523.74" rx="79.94" ry="80.00" fill="#00c2ff"/>
<ellipse cx="575.42" cy="523.74" rx="79.61" ry="79.73" fill="#004eff"/>
<ellipse cx="575.42" cy="523.74" rx="79.28" ry="79.46" fill="#004dff"/>
<ellipse cx="575.43" cy="523.76" rx="78.28" ry="78.65" fill="#004eff"/>
<ellipse cx="575.43" cy="523.76" rx="77.95" ry="78.38" fill="#00bdff"/>
<ellipse cx="575.43" cy="523.76" rx="77.62" ry="78.11" fill="#a0ff5f"/>
<ellipse cx="575.43" cy="523.77" rx="77.29" ry="77.84" fill="#ff9e00"/>
<ellipse cx="575.44" cy="523.77" rx="76.96" ry="77.57" fill="#ff7300"/>
<ellipse cx="575.44" cy="523.78" rx="76.30" ry="77.03" fill="#ff7700"/>
<ellipse cx="575.44" cy="523.78" rx="75.97" ry="76.77" fill="#ff9a00"/>
<ellipse cx="575.44" cy="523.79" rx="75.64" ry="76.50" fill="#ffdd00"/>
<ellipse cx="575.45" cy="523.79" rx="75.31" ry="76.23" fill="#caff35"/>
<ellipse cx="575.45" cy="523.80" rx="74.97" ry="75.96" fill="#6eff91"/>
<ellipse cx="575.45" cy="523.80" rx="74.64" ry="75.69" fill="#1dffe2"/>
<ellipse cx="575.45" cy="523.80" rx="74.31" ry="75.42" fill="#00e3ff"/>
<ellipse cx="575.45" cy="523.81" rx="73.98" ry="75.15" fill="#00ccff"/>
<ellipse cx="575.46" cy="523.81" rx="73.65" ry="74.88" fill="#00d7ff"/>
<ellipse cx="575.46" cy="523.82" rx="73.32" ry="74.61" fill="#00faff"/>
<ellipse cx="575.46" cy="523.82" rx="72.99" ry="74.34" fill="#30ffcf"/>
<ellipse cx="575.46" cy="523.82" rx="72.66" ry="74.07" fill="#6eff91"/>
<ellipse cx="575.46" cy="523.83" rx="72.33" ry="73.80" fill="#acff53"/>
<ellipse cx="575.47" cy="523.83" rx="72.00" ry="73.54" fill="#ddff22"/>
<ellipse cx="575.47" cy="523.84" rx="71.67" ry="73.27" fill="#faff05"/>
<ellipse cx="575.47" cy="523.84" rx="71.34" ry="73.00" fill="#feff01"/>
<ellipse cx="575.47" cy="523.84" rx="71.00" ry="72.73" fill="#ebff14"/>
<ellipse cx="575.47" cy="523.85" rx="70.67" ry="72.46" fill="#c6ff39"/>
<ellipse cx="575.48" cy="523.85" rx="70.34" ry="72.19" fill="#95ff6a"/>
<ellipse cx="575.48" cy="523.86" rx="70.01" ry="71.92" fill="#60ff9f"/>
<ellipse cx="575.48" cy="523.86" rx="69.68" ry="71.65" fill="#31ffce"/>
<ellipse cx="575.48" cy="523.86" rx="69.35" ry="71.38" fill="#0ffff0"/>
<ellipse cx="575.48" cy="523.87" rx="69.02" ry="71.11" fill="#00ffff"/>
<ellipse cx="575.49" cy="523.87" rx="68.69" ry="70.84" fill="#07fff8"/>
<ellipse cx="575.49" cy="523.88" rx="68.36" ry="70.57" fill="#1fffe0"/>
<ellipse cx="575.49" cy="523.88" rx="68.03" ry="70.31" fill="#47ffb8"/>
<ellipse cx="575.49" cy="523.88" rx="67.70" ry="70.04" fill="#75ff8a"/>
<ellipse cx="575.49" cy="523.89" rx="67.37" ry="69.77" fill="#a3ff5c"/>
<ellipse cx="575.50" cy="523.89" rx="67.03" ry="69.50" fill="#c9ff36"/>
<ellipse cx="575.50" cy="523.90" rx="66.70" ry="69.23" fill="#e0ff1f"/>
<ellipse cx="575.50" cy="523.90" rx="66.37" ry="68.96" fill="#e5ff1a"/>
<ellipse cx="575.50" cy="523.90" rx="66.04" ry="68.69" fill="#d7ff28"/>
<ellipse cx="575.50" cy="523.91" rx="65.71" ry="68.42" fill="#bdff42"/>
<ellipse cx="575.51" cy="523.91" rx="65.38" ry="68.15" fill="#a0ff5f"/>
<ellipse cx="575.51" cy="523.92" rx="65.05" ry="67.88" fill="#88ff77"/>
<ellipse cx="575.51" cy="523.92" rx="64.72" ry="67.61" fill="#80ff80"/></g><g filter="url(#blur)" mask="url(#mds)"><ellipse cx="575.33" cy="523.56" rx="94.49" ry="91.84" fill="#57ffa8"/>
<ellipse cx="575.33" cy="523.56" rx="94.16" ry="91.57" fill="#48ffb7"/>
<ellipse cx="575.33" cy="523.57" rx="93.83" ry="91.30" fill="#33ffcc"/>
<ellipse cx="575.34" cy="523.57" rx="93.50" ry="91.03" fill="#27ffd8"/>
<ellipse cx="575.34" cy="523.58" rx="93.17" ry="90.76" fill="#2effd1"/>
<ellipse cx="575.34" cy="523.58" rx="92.84" ry="90.49" fill="#4fffb0"/>
<ellipse cx="575.34" cy="523.58" rx="92.51" ry="90.22" fill="#82ff7d"/>
<ellipse cx="575.34" cy="523.59" rx="92.18" ry="89.95" fill="#baff45"/>
<ellipse cx="575.35" cy="523.59" rx="91.85" ry="89.69" fill="#e7ff18"/>
<ellipse cx="575.35" cy="523.60" rx="91.52" ry="89.42" fill="#feff01"/>
<ellipse cx="575.35" cy="523.60" rx="91.19" ry="89.15" fill="#f9ff06"/>
<ellipse cx="575.35" cy="523.60" rx="90.85" ry="88.88" fill="#daff25"/>
<ellipse cx="575.35" cy="523.61" rx="90.52" ry="88.61" fill="#a8ff57"/>
<ellipse cx="575.36" cy="523.61" rx="90.19" ry="88.34" fill="#6bff94"/>
<ellipse cx="575.36" cy="523.62" rx="89.86" ry="88.07" fill="#2cffd3"/>
<ellipse cx="575.36" cy="523.62" rx="89.53" ry="87.80" fill="#00f7ff"/>
<ellipse cx="575.36" cy="523.62" rx="89.20" ry="87.53" fill="#00d5ff"/>
<ellipse cx="575.36" cy="523.63" rx="88.87" ry="87.26" fill="#00ccff"/>
<ellipse cx="575.37" cy="523.63" rx="88.54" ry="86.99" fill="#00e5ff"/>
<ellipse cx="575.37" cy="523.64" rx="88.21" ry="86.72" fill="#21ffde"/>
<ellipse cx="575.37" cy="523.64" rx="87.88" ry="86.46" fill="#73ff8c"/>
<ellipse cx="575.37" cy="523.64" rx="87.55" ry="86.19" fill="#d0ff2f"/>
<ellipse cx="575.37" cy="523.65" rx="87.22" ry="85.92" fill="#ffd800"/>
<ellipse cx="575.38" cy="523.65" rx="86.88" ry="85.65" fill="#ff9700"/>
<ellipse cx="575.38" cy="523.66" rx="86.55" ry="85.38" fill="#ff7600"/>
<ellipse cx="575.38" cy="523.66" rx="86.22" ry="85.11" fill="#ff7300"/>
<ellipse cx="575.38" cy="523.67" rx="85.56" ry="84.57" fill="#ffaa00"/>
<ellipse cx="575.39" cy="523.67" rx="85.23" ry="84.30" fill="#7cff83"/>
<ellipse cx="575.39" cy="523.68" rx="84.90" ry="84.03" fill="#0088ff"/>
<ellipse cx="575.39" cy="523.68" rx="84.57" ry="83.76" fill="#001aff"/>
<ellipse cx="575.39" cy="523.68" rx="84.24" ry="83.49" fill="#0019ff"/>
<ellipse cx="575.39" cy="523.69" rx="83.91" ry="83.23" fill="#001aff"/>
<ellipse cx="575.40" cy="523.70" rx="83.25" ry="82.69" fill="#001eff"/>
<ellipse cx="575.40" cy="523.70" rx="82.91" ry="82.42" fill="#00bdff"/>
<ellipse cx="575.40" cy="523.70" rx="82.58" ry="82.15" fill="#e0ff1f"/>
<ellipse cx="575.40" cy="523.71" rx="82.25" ry="81.88" fill="#ff3700"/>
<ellipse cx="575.41" cy="523.71" rx="81.92" ry="81.61" fill="#ff0d00"/>
<ellipse cx="575.41" cy="523.73" rx="80.60" ry="80.53" fill="#ff4100"/>
<ellipse cx="575.42" cy="523.73" rx="80.27" ry="80.26" fill="#c9ff36"/>
<ellipse cx="575.42" cy="523.74" rx="79.94" ry="80.00" fill="#00a4ff"/>
<ellipse cx="575.42" cy="523.74" rx="79.61" ry="79.73" fill="#000fff"/>
<ellipse cx="575.42" cy="523.74" rx="79.28" ry="79.46" fill="#000dff"/>
<ellipse cx="575.43" cy="523.76" rx="78.28" ry="78.65" fill="#000eff"/>
<ellipse cx="575.43" cy="523.76" rx="77.95" ry="78.38" fill="#009eff"/>
<ellipse cx="575.43" cy="523.76" rx="77.62" ry="78.11" fill="#c2ff3d"/>
<ellipse cx="575.43" cy="523.77" rx="77.29" ry="77.84" fill="#ff4500"/>
<ellipse cx="575.44" cy="523.77" rx="76.96" ry="77.57" fill="#ff0d00"/>
<ellipse cx="575.44" cy="523.79" rx="75.64" ry="76.50" fill="#ff3400"/>
<ellipse cx="575.45" cy="523.79" rx="75.31" ry="76.23" fill="#e7ff18"/>
<ellipse cx="575.45" cy="523.80" rx="74.97" ry="75.96" fill="#00c3ff"/>
<ellipse cx="575.45" cy="523.80" rx="74.64" ry="75.69" fill="#001fff"/>
<ellipse cx="575.45" cy="523.80" rx="74.31" ry="75.42" fill="#001aff"/>
<ellipse cx="575.46" cy="523.82" rx="72.99" ry="74.34" fill="#0083ff"/>
<ellipse cx="575.46" cy="523.82" rx="72.66" ry="74.07" fill="#76ff89"/>
<ellipse cx="575.46" cy="523.83" rx="72.33" ry="73.80" fill="#ffae00"/>
<ellipse cx="575.47" cy="523.83" rx="72.00" ry="73.54" fill="#ff7300"/>
<ellipse cx="575.47" cy="523.84" rx="71.34" ry="73.00" fill="#ff7500"/>
<ellipse cx="575.47" cy="523.84" rx="71.00" ry="72.73" fill="#ff9500"/>
<ellipse cx="575.47" cy="523.85" rx="70.67" ry="72.46" fill="#ffd400"/>
<ellipse cx="575.48" cy="523.85" rx="70.34" ry="72.19" fill="#d7ff28"/>
<ellipse cx="575.48" cy="523.86" rx="70.01" ry="71.92" fill="#7eff81"/>
<ellipse cx="575.48" cy="523.86" rx="69.68" ry="71.65" fill="#2dffd2"/>
<ellipse cx="575.48" cy="523.86" rx="69.35" ry="71.38" fill="#00f2ff"/>
<ellipse cx="575.48" cy="523.87" rx="69.02" ry="71.11" fill="#00d9ff"/>
<ellipse cx="575.49" cy="523.87" rx="68.69" ry="70.84" fill="#00e1ff"/>
<ellipse cx="575.49" cy="523.88" rx="68.36" ry="70.57" fill="#00ffff"/>
<ellipse cx="575.49" cy="523.88" rx="68.03" ry="70.31" fill="#30ffcf"/>
<ellipse cx="575.49" cy="523.88" rx="67.70" ry="70.04" fill="#69ff96"/>
<ellipse cx="575.49" cy="523.89" rx="67.37" ry="69.77" fill="#a1ff5e"/>
<ellipse cx="575.50" cy="523.89" rx="67.03" ry="69.50" fill="#d0ff2f"/>
<ellipse cx="575.50" cy="523.90" rx="66.70" ry="69.23" fill="#ecff13"/>
<ellipse cx="575.50" cy="523.90" rx="66.37" ry="68.96" fill="#f1ff0e"/>
<ellipse cx="575.50" cy="523.90" rx="66.04" ry="68.69" fill="#e2ff1d"/>
<ellipse cx="575.50" cy="523.91" rx="65.71" ry="68.42" fill="#c5ff3a"/>
<ellipse cx="575.51" cy="523.91" rx="65.38" ry="68.15" fill="#a4ff5b"/>
<ellipse cx="575.51" cy="523.92" rx="65.05" ry="67.88" fill="#89ff76"/>
<ellipse cx="575.51" cy="523.92" rx="64.72" ry="67.61" fill="#80ff80"/></g></g><g filter="url(#blur)"><path d="M514.55 492.30A60.00 36.00 0 0 0 634.55 492.30" fill="none" stroke="#d9ff26" stroke-width="2.2" opacity="0.75"/><path d="M514.07 492.30A60.48 38.40 0 0 0 635.03 492.30" fill="none" stroke="#26ffd9" stroke-width="2.2" opacity="0.75"/><path d="M513.59 492.30A60.96 40.80 0 0 0 635.51 492.30" fill="none" stroke="#e5ff1a" stroke-width="2.2" opacity="0.75"/><path d="M513.11 492.30A61.44 43.20 0 0 0 635.99 492.30" fill="none" stroke="#1affe5" stroke-width="2.2" opacity="0.75"/><path d="M512.63 492.30A61.92 45.60 0 0 0 636.47 492.30" fill="none" stroke="#f2ff0d" stroke-width="2.2" opacity="0.75"/><path d="M512.15 492.30A62.40 48.00 0 0 0 636.95 492.30" fill="none" stroke="#1affe5" stroke-width="2.2" opacity="0.75"/><path d="M511.67 492.30A62.88 50.40 0 0 0 637.43 492.30" fill="none" stroke="#d9ff26" stroke-width="2.2" opacity="0.75"/></g></g>
<clipPath id="clipd"><rect x="468.25" y="415.30" width="214.25" height="214.80"/></clipPath>
<path d="M463.85 411.30H686.70" fill="none" stroke="#e2e2e2" stroke-width="1.5"/>
<path d="M686.70 411.30V634.15" fill="none" stroke="#f4f4f4" stroke-width="1"/>
<path d="M463.85 410.50V634.15H687.60" fill="none" stroke="#262626" stroke-width="1.7"/>
<path d="M463.85 634.15h3.1" stroke="#262626" stroke-width="1.8"/>
<text x="456.05" y="641.05" text-anchor="end" class="tk">0</text>
<path d="M463.85 589.58h3.1" stroke="#262626" stroke-width="1.8"/>
<path d="M686.70 589.58h-2.8" stroke="#d8d8d8" stroke-width="1.2"/>
<text x="456.05" y="596.48" text-anchor="end" class="tk">0.1</text>
<path d="M463.85 545.01h3.1" stroke="#262626" stroke-width="1.8"/>
<path d="M686.70 545.01h-2.8" stroke="#d8d8d8" stroke-width="1.2"/>
<text x="456.05" y="551.91" text-anchor="end" class="tk">0.2</text>
<path d="M463.85 500.44h3.1" stroke="#262626" stroke-width="1.8"/>
<path d="M686.70 500.44h-2.8" stroke="#d8d8d8" stroke-width="1.2"/>
<text x="456.05" y="507.34" text-anchor="end" class="tk">0.3</text>
<path d="M463.85 455.87h3.1" stroke="#262626" stroke-width="1.8"/>
<path d="M686.70 455.87h-2.8" stroke="#d8d8d8" stroke-width="1.2"/>
<text x="456.05" y="462.77" text-anchor="end" class="tk">0.4</text>
<path d="M463.85 411.30h3.1" stroke="#262626" stroke-width="1.8"/>
<text x="456.05" y="418.20" text-anchor="end" class="tk">0.5</text>
<path d="M463.85 634.15v-3.1" stroke="#262626" stroke-width="1.8"/>
<text x="463.85" y="659.45" text-anchor="middle" class="tk">0</text>
<path d="M552.99 634.15v-3.1" stroke="#262626" stroke-width="1.8"/>
<path d="M552.99 411.30v2.8" stroke="#d8d8d8" stroke-width="1.2"/>
<text x="552.99" y="659.45" text-anchor="middle" class="tk">0.2</text>
<path d="M642.13 634.15v-3.1" stroke="#262626" stroke-width="1.8"/>
<path d="M642.13 411.30v2.8" stroke="#d8d8d8" stroke-width="1.2"/>
<text x="642.13" y="659.45" text-anchor="middle" class="tk">0.4</text>
<text x="575.07" y="684.55" text-anchor="middle" class="lb">x [m]</text>
<text transform="translate(421.95 523.33) rotate(-90)" text-anchor="middle" class="lb">y [m]</text>
<text x="575.27" y="406.60" text-anchor="middle" class="tt" textLength="121" lengthAdjust="spacingAndGlyphs">Time 0.15 [ms]</text>
<rect x="698.60" y="412.60" width="21.80" height="220.85" fill="url(#jet)" stroke="#262626" stroke-width="1"/>
<text x="726.20" y="419.80" class="tk">4</text>
<text x="726.20" y="475.01" class="tk">2</text>
<path d="M720.40 467.81h-2.6" stroke="#262626" stroke-width="1.1"/>
<text x="726.20" y="530.23" class="tk">0</text>
<path d="M720.40 523.02h-2.6" stroke="#262626" stroke-width="1.1"/>
<text x="726.20" y="585.44" class="tk">-2</text>
<path d="M720.40 578.24h-2.6" stroke="#262626" stroke-width="1.1"/>
<text x="726.20" y="640.65" class="tk">-4</text>
<text x="721.70" y="403.90" class="tk"><tspan font-size="19" fill="#505050">×</tspan>10<tspan dy="-7.6" font-size="13.5">-3</tspan></text>
<text x="603.85" y="730.25" text-anchor="middle" class="cp">(d) First impact, 0.15 ms</text>
<rect x="59.45" y="800.50" width="215.05" height="214.80" fill="#80fc80" filter="url(#tie)"/>
<g mask="url(#vme)"><rect x="59.45" y="800.50" width="215.05" height="214.80" fill="url(#hs0)" filter="url(#tse)"/></g>
<linearGradient id="vge" x1="0" y1="0" x2="0" y2="1"><stop offset="0" stop-color="#fff" stop-opacity="0.3"/><stop offset="0.3" stop-color="#fff" stop-opacity="0.3"/><stop offset="0.6" stop-color="#fff" stop-opacity="0.12"/><stop offset="1" stop-color="#fff" stop-opacity="0.12"/></linearGradient>
<mask id="vme"><rect x="59.45" y="800.50" width="215.05" height="214.80" fill="url(#vge)"/></mask>
<g clip-path="url(#clipe)"><clipPath id="anne"><path clip-rule="evenodd" d="M107.19 909.16A61.42 62.84 0 1 0 230.02 909.16A61.42 62.84 0 1 0 107.19 909.16ZM136.59 909.10A32.81 36.06 0 1 0 202.20 909.10A32.81 36.06 0 1 0 136.59 909.10Z"/></clipPath><g clip-path="url(#anne)"><g filter="url(#blur)"><ellipse cx="168.62" cy="909.16" rx="60.95" ry="62.40" fill="#57ffa8"/>
<ellipse cx="168.62" cy="909.16" rx="60.64" ry="62.11" fill="#48ffb7"/>
<ellipse cx="168.63" cy="909.16" rx="60.33" ry="61.82" fill="#33ffcc"/>
<ellipse cx="168.64" cy="909.15" rx="60.02" ry="61.53" fill="#27ffd8"/>
<ellipse cx="168.65" cy="909.15" rx="59.71" ry="61.24" fill="#2dffd2"/>
<ellipse cx="168.66" cy="909.15" rx="59.40" ry="60.95" fill="#4cffb3"/>
<ellipse cx="168.67" cy="909.15" rx="59.09" ry="60.66" fill="#7cff83"/>
<ellipse cx="168.68" cy="909.15" rx="58.78" ry="60.37" fill="#b0ff4f"/>
<ellipse cx="168.68" cy="909.15" rx="58.47" ry="60.08" fill="#dbff24"/>
<ellipse cx="168.69" cy="909.15" rx="58.16" ry="59.79" fill="#f1ff0e"/>
<ellipse cx="168.70" cy="909.15" rx="57.85" ry="59.50" fill="#ecff13"/>
<ellipse cx="168.71" cy="909.15" rx="57.54" ry="59.21" fill="#ccff33"/>
<ellipse cx="168.72" cy="909.15" rx="57.23" ry="58.92" fill="#97ff68"/>
<ellipse cx="168.73" cy="909.15" rx="56.92" ry="58.63" fill="#55ffaa"/>
<ellipse cx="168.74" cy="909.15" rx="56.61" ry="58.34" fill="#11ffee"/>
<ellipse cx="168.74" cy="909.15" rx="56.30" ry="58.05" fill="#00d7ff"/>
<ellipse cx="168.75" cy="909.15" rx="55.99" ry="57.76" fill="#00b1ff"/>
<ellipse cx="168.76" cy="909.15" rx="55.68" ry="57.47" fill="#00a6ff"/>
<ellipse cx="168.77" cy="909.14" rx="55.37" ry="57.18" fill="#00c8ff"/>
<ellipse cx="168.78" cy="909.14" rx="55.06" ry="56.89" fill="#1dffe2"/>
<ellipse cx="168.79" cy="909.14" rx="54.75" ry="56.60" fill="#95ff6a"/>
<ellipse cx="168.80" cy="909.14" rx="54.44" ry="56.31" fill="#ffe100"/>
<ellipse cx="168.80" cy="909.14" rx="54.13" ry="56.02" fill="#ff6000"/>
<ellipse cx="168.81" cy="909.14" rx="53.82" ry="55.73" fill="#fb0000"/>
<ellipse cx="168.82" cy="909.14" rx="53.51" ry="55.44" fill="#c60000"/>
<ellipse cx="168.83" cy="909.14" rx="53.20" ry="55.15" fill="#bf0000"/>
<ellipse cx="168.86" cy="909.14" rx="52.27" ry="54.28" fill="#ffd400"/>
<ellipse cx="168.86" cy="909.14" rx="51.96" ry="53.99" fill="#0000b2"/>
<ellipse cx="168.87" cy="909.14" rx="51.65" ry="53.70" fill="#000099"/>
<ellipse cx="168.92" cy="909.13" rx="50.10" ry="52.25" fill="#0000a4"/>
<ellipse cx="168.92" cy="909.13" rx="49.79" ry="51.96" fill="#ffe800"/>
<ellipse cx="168.93" cy="909.13" rx="49.48" ry="51.67" fill="#8c0000"/>
<ellipse cx="168.98" cy="909.13" rx="47.62" ry="49.93" fill="#ff5500"/>
<ellipse cx="168.99" cy="909.13" rx="47.31" ry="49.64" fill="#0000d6"/>
<ellipse cx="169.00" cy="909.13" rx="47.00" ry="49.35" fill="#00008c"/>
<ellipse cx="169.05" cy="909.12" rx="45.14" ry="47.61" fill="#9fff60"/>
<ellipse cx="169.06" cy="909.12" rx="44.83" ry="47.32" fill="#990000"/>
<ellipse cx="169.11" cy="909.12" rx="42.97" ry="45.58" fill="#ff0b00"/>
<ellipse cx="169.12" cy="909.12" rx="42.66" ry="45.29" fill="#003aff"/>
<ellipse cx="169.13" cy="909.12" rx="42.35" ry="45.00" fill="#0000b2"/>
<ellipse cx="169.18" cy="909.11" rx="40.49" ry="43.26" fill="#00f0ff"/>
<ellipse cx="169.19" cy="909.11" rx="40.18" ry="42.97" fill="#ff6700"/>
<ellipse cx="169.20" cy="909.11" rx="39.87" ry="42.68" fill="#ff6600"/>
<ellipse cx="169.23" cy="909.11" rx="38.94" ry="41.81" fill="#ff7e00"/>
<ellipse cx="169.23" cy="909.11" rx="38.63" ry="41.52" fill="#ffb800"/>
<ellipse cx="169.24" cy="909.11" rx="38.32" ry="41.23" fill="#f5ff0a"/>
<ellipse cx="169.25" cy="909.11" rx="38.02" ry="40.94" fill="#99ff66"/>
<ellipse cx="169.26" cy="909.11" rx="37.71" ry="40.65" fill="#43ffbc"/>
<ellipse cx="169.27" cy="909.11" rx="37.40" ry="40.36" fill="#00ffff"/>
<ellipse cx="169.28" cy="909.11" rx="37.09" ry="40.07" fill="#00dcff"/>
<ellipse cx="169.29" cy="909.10" rx="36.47" ry="39.49" fill="#00f4ff"/>
<ellipse cx="169.30" cy="909.10" rx="36.16" ry="39.20" fill="#1fffe0"/>
<ellipse cx="169.31" cy="909.10" rx="35.85" ry="38.91" fill="#53ffac"/>
<ellipse cx="169.32" cy="909.10" rx="35.54" ry="38.62" fill="#8aff75"/>
<ellipse cx="169.33" cy="909.10" rx="35.23" ry="38.33" fill="#baff45"/>
<ellipse cx="169.34" cy="909.10" rx="34.92" ry="38.04" fill="#daff25"/>
<ellipse cx="169.35" cy="909.10" rx="34.61" ry="37.75" fill="#e5ff1a"/>
<ellipse cx="169.35" cy="909.10" rx="34.30" ry="37.46" fill="#ddff22"/>
<ellipse cx="169.36" cy="909.10" rx="33.99" ry="37.17" fill="#c6ff39"/>
<ellipse cx="169.37" cy="909.10" rx="33.68" ry="36.88" fill="#a8ff57"/>
<ellipse cx="169.38" cy="909.10" rx="33.37" ry="36.59" fill="#8eff71"/>
<ellipse cx="169.39" cy="909.10" rx="33.06" ry="36.30" fill="#80ff7f"/></g></g></g>
<clipPath id="clipe"><rect x="59.45" y="800.50" width="215.05" height="214.80"/></clipPath>
<path d="M55.85 796.50H278.70" fill="none" stroke="#e2e2e2" stroke-width="1.5"/>
<path d="M278.70 796.50V1019.35" fill="none" stroke="#f4f4f4" stroke-width="1"/>
<path d="M55.85 795.70V1019.35H279.60" fill="none" stroke="#262626" stroke-width="1.7"/>
<path d="M55.85 1019.35h3.1" stroke="#262626" stroke-width="1.8"/>
<text x="48.05" y="1026.25" text-anchor="end" class="tk">0</text>
<path d="M55.85 974.78h3.1" stroke="#262626" stroke-width="1.8"/>
<path d="M278.70 974.78h-2.8" stroke="#d8d8d8" stroke-width="1.2"/>
<text x="48.05" y="981.68" text-anchor="end" class="tk">0.1</text>
<path d="M55.85 930.21h3.1" stroke="#262626" stroke-width="1.8"/>
<path d="M278.70 930.21h-2.8" stroke="#d8d8d8" stroke-width="1.2"/>
<text x="48.05" y="937.11" text-anchor="end" class="tk">0.2</text>
<path d="M55.85 885.64h3.1" stroke="#262626" stroke-width="1.8"/>
<path d="M278.70 885.64h-2.8" stroke="#d8d8d8" stroke-width="1.2"/>
<text x="48.05" y="892.54" text-anchor="end" class="tk">0.3</text>
<path d="M55.85 841.07h3.1" stroke="#262626" stroke-width="1.8"/>
<path d="M278.70 841.07h-2.8" stroke="#d8d8d8" stroke-width="1.2"/>
<text x="48.05" y="847.97" text-anchor="end" class="tk">0.4</text>
<path d="M55.85 796.50h3.1" stroke="#262626" stroke-width="1.8"/>
<text x="48.05" y="803.40" text-anchor="end" class="tk">0.5</text>
<path d="M55.85 1019.35v-3.1" stroke="#262626" stroke-width="1.8"/>
<text x="55.85" y="1044.65" text-anchor="middle" class="tk">0</text>
<path d="M144.99 1019.35v-3.1" stroke="#262626" stroke-width="1.8"/>
<path d="M144.99 796.50v2.8" stroke="#d8d8d8" stroke-width="1.2"/>
<text x="144.99" y="1044.65" text-anchor="middle" class="tk">0.2</text>
<path d="M234.13 1019.35v-3.1" stroke="#262626" stroke-width="1.8"/>
<path d="M234.13 796.50v2.8" stroke="#d8d8d8" stroke-width="1.2"/>
<text x="234.13" y="1044.65" text-anchor="middle" class="tk">0.4</text>
<text x="167.08" y="1069.75" text-anchor="middle" class="lb">x [m]</text>
<text transform="translate(13.95 908.52) rotate(-90)" text-anchor="middle" class="lb">y [m]</text>
<text x="167.28" y="791.80" text-anchor="middle" class="tt" textLength="121" lengthAdjust="spacingAndGlyphs">Time 0.10 [ms]</text>
<rect x="290.60" y="797.80" width="21.80" height="220.85" fill="url(#jet)" stroke="#262626" stroke-width="1"/>
<text x="318.20" y="805.00" class="tk">4</text>
<text x="318.20" y="860.21" class="tk">2</text>
<path d="M312.40 853.01h-2.6" stroke="#262626" stroke-width="1.1"/>
<text x="318.20" y="915.42" class="tk">0</text>
<path d="M312.40 908.22h-2.6" stroke="#262626" stroke-width="1.1"/>
<text x="318.20" y="970.64" class="tk">-2</text>
<path d="M312.40 963.44h-2.6" stroke="#262626" stroke-width="1.1"/>
<text x="318.20" y="1025.85" class="tk">-4</text>
<text x="313.70" y="789.10" class="tk"><tspan font-size="19" fill="#505050">×</tspan>10<tspan dy="-7.6" font-size="13.5">-3</tspan></text>
<text x="195.85" y="1114.90" text-anchor="middle" class="cp">(e) Second impact, 0.10 ms</text>
<rect x="468.25" y="800.50" width="214.25" height="214.80" fill="#80fc80" filter="url(#tif)"/>
<g mask="url(#vmf)"><rect x="468.25" y="800.50" width="214.25" height="214.80" fill="url(#hs1)" filter="url(#tsf)"/></g>
<linearGradient id="vgf" x1="0" y1="0" x2="0" y2="1"><stop offset="0" stop-color="#fff" stop-opacity="0.35"/><stop offset="0.3" stop-color="#fff" stop-opacity="0.35"/><stop offset="0.6" stop-color="#fff" stop-opacity="0.2"/><stop offset="1" stop-color="#fff" stop-opacity="0.2"/></linearGradient>
<mask id="vmf"><rect x="468.25" y="800.50" width="214.25" height="214.80" fill="url(#vgf)"/></mask>
<g clip-path="url(#clipf)"><clipPath id="annf"><path clip-rule="evenodd" d="M483.21 907.15A92.74 92.25 0 1 0 668.70 907.15A92.74 92.25 0 1 0 483.21 907.15ZM507.49 907.52A68.40 66.63 0 1 0 644.30 907.52A68.40 66.63 0 1 0 507.49 907.52Z"/></clipPath><g clip-path="url(#annf)"><mask id="mfs" maskUnits="userSpaceOnUse" x="0" y="0" width="762" height="1119"><g filter="url(#soft2)"><path d="M576.0 907.2 L436.0 905.7 L436.1 913.6Z" fill="#ffffff"/><path d="M576.0 907.2 L436.0 910.6 L436.4 918.4Z" fill="#ffffff"/><path d="M576.0 907.2 L436.2 915.5 L436.9 923.3Z" fill="#ffffff"/><path d="M576.0 907.2 L436.6 920.4 L437.5 928.1Z" fill="#ffffff"/><path d="M576.0 907.2 L437.1 925.2 L438.3 933.0Z" fill="#ffffff"/><path d="M576.0 907.2 L437.8 930.1 L439.3 937.7Z" fill="#ffffff"/><path d="M576.0 907.2 L438.7 934.9 L440.5 942.5Z" fill="#ffffff"/><path d="M576.0 907.2 L439.8 939.6 L441.8 947.2Z" fill="#ffffff"/><path d="M576.0 907.2 L441.0 944.4 L443.3 951.9Z" fill="#ffffff"/><path d="M576.0 907.2 L442.4 949.1 L444.9 956.5Z" fill="#ffffff"/><path d="M576.0 907.2 L443.9 953.7 L446.7 961.0Z" fill="#ffffff"/><path d="M576.0 907.2 L445.6 958.3 L448.7 965.5Z" fill="#ffffff"/><path d="M576.0 907.2 L447.5 962.8 L450.8 969.9Z" fill="#ffffff"/><path d="M576.0 907.2 L449.5 967.3 L453.0 974.2Z" fill="#ffffff"/><path d="M576.0 907.2 L451.7 971.6 L455.4 978.5Z" fill="#ffffff"/><path d="M576.0 907.2 L454.0 975.9 L458.0 982.6Z" fill="#ffffff"/><path d="M576.0 907.2 L456.5 980.1 L460.7 986.7Z" fill="#ffffff"/><path d="M576.0 907.2 L459.1 984.3 L463.6 990.7Z" fill="#ffffff"/><path d="M576.0 907.2 L461.8 988.3 L466.5 994.5Z" fill="#ffffff"/><path d="M576.0 907.2 L464.7 992.2 L469.7 998.3Z" fill="#ffffff"/><path d="M576.0 907.2 L467.8 996.1 L472.9 1002.0Z" fill="#ffffff"/><path d="M576.0 907.2 L470.9 999.8 L476.3 1005.5Z" fill="#ffffff"/><path d="M576.0 907.2 L474.2 1003.4 L479.8 1008.9Z" fill="#ffffff"/><path d="M576.0 907.2 L477.6 1006.9 L483.4 1012.2Z" fill="#ffffff"/><path d="M576.0 907.2 L481.2 1010.3 L487.1 1015.4Z" fill="#ffffff"/><path d="M576.0 907.2 L484.8 1013.5 L490.9 1018.4Z" fill="#ffffff"/><path d="M576.0 907.2 L488.6 1016.6 L494.9 1021.3Z" fill="#ffffff"/><path d="M576.0 907.2 L492.5 1019.6 L498.9 1024.1Z" fill="#ffffff"/><path d="M576.0 907.2 L496.5 1022.4 L503.0 1026.7Z" fill="#ffffff"/><path d="M576.0 907.2 L500.5 1025.1 L507.2 1029.2Z" fill="#ffffff"/><path d="M576.0 907.2 L504.7 1027.7 L511.5 1031.5Z" fill="#ffffff"/><path d="M576.0 907.2 L508.9 1030.1 L515.9 1033.7Z" fill="#ffffff"/><path d="M576.0 907.2 L513.3 1032.4 L520.3 1035.7Z" fill="#ffffff"/><path d="M576.0 907.2 L517.7 1034.5 L524.9 1037.5Z" fill="#ffffff"/><path d="M576.0 907.2 L522.1 1036.4 L529.4 1039.3Z" fill="#ffffff"/><path d="M576.0 907.2 L526.7 1038.2 L534.1 1040.8Z" fill="#ffffff"/><path d="M576.0 907.2 L531.3 1039.9 L538.8 1042.2Z" fill="#ffffff"/><path d="M576.0 907.2 L536.0 1041.4 L543.5 1043.4Z" fill="#ffffff"/><path d="M576.0 907.2 L540.7 1042.7 L548.3 1044.4Z" fill="#ffffff"/><path d="M576.0 907.2 L545.4 1043.8 L553.1 1045.3Z" fill="#ffffff"/><path d="M576.0 907.2 L550.2 1044.8 L557.9 1046.0Z" fill="#ffffff"/><path d="M576.0 907.2 L555.0 1045.6 L562.8 1046.6Z" fill="#ffffff"/><path d="M576.0 907.2 L559.9 1046.3 L567.6 1047.0Z" fill="#ffffff"/><path d="M576.0 907.2 L564.7 1046.7 L572.5 1047.2Z" fill="#ffffff"/><path d="M576.0 907.2 L569.6 1047.1 L577.4 1047.2Z" fill="#ffffff"/><path d="M576.0 907.2 L574.5 1047.2 L582.3 1047.1Z" fill="#ffffff"/><path d="M576.0 907.2 L579.4 1047.2 L587.2 1046.7Z" fill="#ffffff"/><path d="M576.0 907.2 L584.3 1047.0 L592.0 1046.3Z" fill="#ffffff"/><path d="M576.0 907.2 L589.1 1046.6 L596.9 1045.6Z" fill="#ffffff"/><path d="M576.0 907.2 L594.0 1046.0 L601.7 1044.8Z" fill="#ffffff"/><path d="M576.0 907.2 L598.8 1045.3 L606.5 1043.8Z" fill="#ffffff"/><path d="M576.0 907.2 L603.6 1044.4 L611.2 1042.7Z" fill="#ffffff"/><path d="M576.0 907.2 L608.4 1043.4 L615.9 1041.4Z" fill="#ffffff"/><path d="M576.0 907.2 L613.1 1042.2 L620.6 1039.9Z" fill="#ffffff"/><path d="M576.0 907.2 L617.8 1040.8 L625.2 1038.2Z" fill="#ffffff"/><path d="M576.0 907.2 L622.5 1039.3 L629.8 1036.4Z" fill="#ffffff"/><path d="M576.0 907.2 L627.0 1037.5 L634.2 1034.5Z" fill="#ffffff"/><path d="M576.0 907.2 L631.6 1035.7 L638.6 1032.4Z" fill="#ffffff"/><path d="M576.0 907.2 L636.0 1033.7 L643.0 1030.1Z" fill="#ffffff"/><path d="M576.0 907.2 L640.4 1031.5 L647.2 1027.7Z" fill="#ffffff"/><path d="M576.0 907.2 L644.7 1029.2 L651.4 1025.1Z" fill="#ffffff"/><path d="M576.0 907.2 L648.9 1026.7 L655.4 1022.4Z" fill="#ffffff"/><path d="M576.0 907.2 L653.0 1024.1 L659.4 1019.6Z" fill="#ffffff"/><path d="M576.0 907.2 L657.0 1021.3 L663.3 1016.6Z" fill="#ffffff"/><path d="M576.0 907.2 L661.0 1018.4 L667.1 1013.5Z" fill="#ffffff"/><path d="M576.0 907.2 L664.8 1015.4 L670.7 1010.3Z" fill="#ffffff"/><path d="M576.0 907.2 L668.5 1012.2 L674.3 1006.9Z" fill="#ffffff"/><path d="M576.0 907.2 L672.1 1008.9 L677.7 1003.4Z" fill="#ffffff"/><path d="M576.0 907.2 L675.6 1005.5 L681.0 999.8Z" fill="#ffffff"/><path d="M576.0 907.2 L679.0 1002.0 L684.1 996.1Z" fill="#ffffff"/><path d="M576.0 907.2 L682.2 998.3 L687.2 992.2Z" fill="#ffffff"/><path d="M576.0 907.2 L685.4 994.5 L690.1 988.3Z" fill="#ffffff"/><path d="M576.0 907.2 L688.3 990.7 L692.8 984.3Z" fill="#ffffff"/><path d="M576.0 907.2 L691.2 986.7 L695.4 980.1Z" fill="#ffffff"/><path d="M576.0 907.2 L693.9 982.6 L697.9 975.9Z" fill="#ffffff"/><path d="M576.0 907.2 L696.5 978.5 L700.2 971.6Z" fill="#ffffff"/><path d="M576.0 907.2 L698.9 974.2 L702.4 967.3Z" fill="#ffffff"/><path d="M576.0 907.2 L701.1 969.9 L704.4 962.8Z" fill="#ffffff"/><path d="M576.0 907.2 L703.2 965.5 L706.3 958.3Z" fill="#ffffff"/><path d="M576.0 907.2 L705.2 961.0 L708.0 953.7Z" fill="#ffffff"/><path d="M576.0 907.2 L707.0 956.5 L709.5 949.1Z" fill="#ffffff"/><path d="M576.0 907.2 L708.6 951.9 L710.9 944.4Z" fill="#ffffff"/><path d="M576.0 907.2 L710.1 947.2 L712.1 939.6Z" fill="#ffffff"/><path d="M576.0 907.2 L711.4 942.5 L713.2 934.9Z" fill="#ffffff"/><path d="M576.0 907.2 L712.6 937.7 L714.1 930.1Z" fill="#ffffff"/><path d="M576.0 907.2 L713.6 933.0 L714.8 925.2Z" fill="#ffffff"/><path d="M576.0 907.2 L714.4 928.1 L715.3 920.4Z" fill="#ffffff"/><path d="M576.0 907.2 L715.0 923.3 L715.7 915.5Z" fill="#ffffff"/><path d="M576.0 907.2 L715.5 918.4 L715.9 910.6Z" fill="#ffffff"/><path d="M576.0 907.2 L715.8 913.6 L715.9 905.7Z" fill="#ffffff"/><path d="M576.0 907.2 L715.9 908.7 L715.8 900.8Z" fill="#ffffff"/><path d="M576.0 907.2 L715.9 903.8 L715.5 896.0Z" fill="#ffffff"/><path d="M576.0 907.2 L715.7 898.9 L715.0 891.1Z" fill="#ffffff"/><path d="M576.0 907.2 L715.3 894.0 L714.4 886.3Z" fill="#ffffff"/><path d="M576.0 907.2 L714.8 889.2 L713.6 881.4Z" fill="#ffffff"/><path d="M576.0 907.2 L714.1 884.3 L712.6 876.7Z" fill="#ffffff"/><path d="M576.0 907.2 L713.2 879.5 L711.4 871.9Z" fill="#ffffff"/><path d="M576.0 907.2 L712.1 874.8 L710.1 867.2Z" fill="#ffffff"/><path d="M576.0 907.2 L710.9 870.0 L708.6 862.5Z" fill="#ffffff"/><path d="M576.0 907.2 L709.5 865.3 L707.0 857.9Z" fill="#ffffff"/><path d="M576.0 907.2 L708.0 860.7 L705.2 853.4Z" fill="#ffffff"/><path d="M576.0 907.2 L706.3 856.1 L703.2 848.9Z" fill="#ffffff"/><path d="M576.0 907.2 L704.4 851.6 L701.1 844.5Z" fill="#ffffff"/><path d="M576.0 907.2 L702.4 847.1 L698.9 840.2Z" fill="#ffffff"/><path d="M576.0 907.2 L700.2 842.8 L696.5 835.9Z" fill="#ffffff"/><path d="M576.0 907.2 L697.9 838.5 L693.9 831.8Z" fill="#ffffff"/><path d="M576.0 907.2 L695.4 834.3 L691.2 827.7Z" fill="#ffffff"/><path d="M576.0 907.2 L692.8 830.1 L688.3 823.7Z" fill="#ffffff"/><path d="M576.0 907.2 L690.1 826.1 L685.4 819.9Z" fill="#ffffff"/><path d="M576.0 907.2 L687.2 822.2 L682.2 816.1Z" fill="#ffffff"/><path d="M576.0 907.2 L684.1 818.3 L679.0 812.4Z" fill="#ffffff"/><path d="M576.0 907.2 L681.0 814.6 L675.6 808.9Z" fill="#ffffff"/><path d="M576.0 907.2 L677.7 811.0 L672.1 805.5Z" fill="#ffffff"/><path d="M576.0 907.2 L674.3 807.5 L668.5 802.2Z" fill="#ffffff"/><path d="M576.0 907.2 L670.7 804.1 L664.8 799.0Z" fill="#ffffff"/><path d="M576.0 907.2 L667.1 800.9 L661.0 796.0Z" fill="#ffffff"/><path d="M576.0 907.2 L663.3 797.8 L657.0 793.1Z" fill="#ffffff"/><path d="M576.0 907.2 L659.4 794.8 L653.0 790.3Z" fill="#ffffff"/><path d="M576.0 907.2 L655.4 792.0 L648.9 787.7Z" fill="#ffffff"/><path d="M576.0 907.2 L651.4 789.3 L644.7 785.2Z" fill="#ffffff"/><path d="M576.0 907.2 L647.2 786.7 L640.4 782.9Z" fill="#ffffff"/><path d="M576.0 907.2 L643.0 784.3 L636.0 780.7Z" fill="#ffffff"/><path d="M576.0 907.2 L638.6 782.0 L631.6 778.7Z" fill="#dbdbdb"/><path d="M576.0 907.2 L634.2 779.9 L627.0 776.9Z" fill="#929292"/><path d="M576.0 907.2 L629.8 778.0 L622.5 775.1Z" fill="#494949"/><path d="M576.0 907.2 L625.2 776.2 L617.8 773.6Z" fill="#000000"/><path d="M576.0 907.2 L620.6 774.5 L613.1 772.2Z" fill="#000000"/><path d="M576.0 907.2 L615.9 773.0 L608.4 771.0Z" fill="#000000"/><path d="M576.0 907.2 L611.2 771.7 L603.6 770.0Z" fill="#000000"/><path d="M576.0 907.2 L606.5 770.6 L598.8 769.1Z" fill="#000000"/><path d="M576.0 907.2 L601.7 769.6 L594.0 768.4Z" fill="#000000"/><path d="M576.0 907.2 L596.9 768.8 L589.1 767.8Z" fill="#000000"/><path d="M576.0 907.2 L592.0 768.1 L584.3 767.4Z" fill="#000000"/><path d="M576.0 907.2 L587.2 767.7 L579.4 767.2Z" fill="#000000"/><path d="M576.0 907.2 L582.3 767.3 L574.5 767.2Z" fill="#808080"/><path d="M576.0 907.2 L577.4 767.2 L569.6 767.3Z" fill="#ffffff"/><path d="M576.0 907.2 L572.5 767.2 L564.7 767.7Z" fill="#ffffff"/><path d="M576.0 907.2 L567.6 767.4 L559.9 768.1Z" fill="#ffffff"/><path d="M576.0 907.2 L562.8 767.8 L555.0 768.8Z" fill="#ffffff"/><path d="M576.0 907.2 L557.9 768.4 L550.2 769.6Z" fill="#ffffff"/><path d="M576.0 907.2 L553.1 769.1 L545.4 770.6Z" fill="#ffffff"/><path d="M576.0 907.2 L548.3 770.0 L540.7 771.7Z" fill="#ffffff"/><path d="M576.0 907.2 L543.5 771.0 L536.0 773.0Z" fill="#ffffff"/><path d="M576.0 907.2 L538.8 772.2 L531.3 774.5Z" fill="#ffffff"/><path d="M576.0 907.2 L534.1 773.6 L526.7 776.2Z" fill="#ffffff"/><path d="M576.0 907.2 L529.4 775.1 L522.1 778.0Z" fill="#ffffff"/><path d="M576.0 907.2 L524.9 776.9 L517.7 779.9Z" fill="#ffffff"/><path d="M576.0 907.2 L520.3 778.7 L513.3 782.0Z" fill="#ffffff"/><path d="M576.0 907.2 L515.9 780.7 L508.9 784.3Z" fill="#ffffff"/><path d="M576.0 907.2 L511.5 782.9 L504.7 786.7Z" fill="#ffffff"/><path d="M576.0 907.2 L507.2 785.2 L500.5 789.3Z" fill="#ffffff"/><path d="M576.0 907.2 L503.0 787.7 L496.5 792.0Z" fill="#ffffff"/><path d="M576.0 907.2 L498.9 790.3 L492.5 794.8Z" fill="#ffffff"/><path d="M576.0 907.2 L494.9 793.1 L488.6 797.8Z" fill="#ffffff"/><path d="M576.0 907.2 L490.9 796.0 L484.8 800.9Z" fill="#ffffff"/><path d="M576.0 907.2 L487.1 799.0 L481.2 804.1Z" fill="#ffffff"/><path d="M576.0 907.2 L483.4 802.2 L477.6 807.5Z" fill="#ffffff"/><path d="M576.0 907.2 L479.8 805.5 L474.2 811.0Z" fill="#ffffff"/><path d="M576.0 907.2 L476.3 808.9 L470.9 814.6Z" fill="#ffffff"/><path d="M576.0 907.2 L472.9 812.4 L467.8 818.3Z" fill="#ffffff"/><path d="M576.0 907.2 L469.7 816.1 L464.7 822.2Z" fill="#ffffff"/><path d="M576.0 907.2 L466.5 819.9 L461.8 826.1Z" fill="#ffffff"/><path d="M576.0 907.2 L463.6 823.7 L459.1 830.1Z" fill="#ffffff"/><path d="M576.0 907.2 L460.7 827.7 L456.5 834.3Z" fill="#ffffff"/><path d="M576.0 907.2 L458.0 831.8 L454.0 838.5Z" fill="#ffffff"/><path d="M576.0 907.2 L455.4 835.9 L451.7 842.8Z" fill="#ffffff"/><path d="M576.0 907.2 L453.0 840.2 L449.5 847.1Z" fill="#ffffff"/><path d="M576.0 907.2 L450.8 844.5 L447.5 851.6Z" fill="#ffffff"/><path d="M576.0 907.2 L448.7 848.9 L445.6 856.1Z" fill="#ffffff"/><path d="M576.0 907.2 L446.7 853.4 L443.9 860.7Z" fill="#ffffff"/><path d="M576.0 907.2 L444.9 857.9 L442.4 865.3Z" fill="#ffffff"/><path d="M576.0 907.2 L443.3 862.5 L441.0 870.0Z" fill="#ffffff"/><path d="M576.0 907.2 L441.8 867.2 L439.8 874.8Z" fill="#ffffff"/><path d="M576.0 907.2 L440.5 871.9 L438.7 879.5Z" fill="#ffffff"/><path d="M576.0 907.2 L439.3 876.7 L437.8 884.3Z" fill="#ffffff"/><path d="M576.0 907.2 L438.3 881.4 L437.1 889.2Z" fill="#ffffff"/><path d="M576.0 907.2 L437.5 886.3 L436.6 894.0Z" fill="#ffffff"/><path d="M576.0 907.2 L436.9 891.1 L436.2 898.9Z" fill="#ffffff"/><path d="M576.0 907.2 L436.4 896.0 L436.0 903.8Z" fill="#ffffff"/><path d="M576.0 907.2 L436.1 900.8 L436.0 908.7Z" fill="#ffffff"/></g></mask><g filter="url(#blur)"><ellipse cx="575.96" cy="907.16" rx="92.34" ry="91.83" fill="#57ffa8"/>
<ellipse cx="575.96" cy="907.17" rx="92.05" ry="91.52" fill="#45ffba"/>
<ellipse cx="575.96" cy="907.17" rx="91.76" ry="91.21" fill="#2fffd0"/>
<ellipse cx="575.95" cy="907.17" rx="91.47" ry="90.91" fill="#26ffd9"/>
<ellipse cx="575.95" cy="907.18" rx="91.17" ry="90.60" fill="#3affc5"/>
<ellipse cx="575.95" cy="907.18" rx="90.88" ry="90.29" fill="#67ff98"/>
<ellipse cx="575.95" cy="907.19" rx="90.59" ry="89.98" fill="#a1ff5e"/>
<ellipse cx="575.95" cy="907.19" rx="90.30" ry="89.68" fill="#d4ff2b"/>
<ellipse cx="575.95" cy="907.20" rx="90.01" ry="89.37" fill="#f0ff0f"/>
<ellipse cx="575.95" cy="907.20" rx="89.71" ry="89.06" fill="#edff12"/>
<ellipse cx="575.95" cy="907.20" rx="89.42" ry="88.75" fill="#d2ff2d"/>
<ellipse cx="575.95" cy="907.21" rx="89.13" ry="88.45" fill="#a4ff5b"/>
<ellipse cx="575.95" cy="907.21" rx="88.84" ry="88.14" fill="#6dff92"/>
<ellipse cx="575.95" cy="907.22" rx="88.54" ry="87.83" fill="#39ffc6"/>
<ellipse cx="575.95" cy="907.22" rx="88.25" ry="87.52" fill="#12ffed"/>
<ellipse cx="575.95" cy="907.23" rx="87.96" ry="87.21" fill="#01fffe"/>
<ellipse cx="575.94" cy="907.23" rx="87.67" ry="86.91" fill="#09fff6"/>
<ellipse cx="575.94" cy="907.24" rx="87.37" ry="86.60" fill="#29ffd6"/>
<ellipse cx="575.94" cy="907.24" rx="87.08" ry="86.29" fill="#5cffa3"/>
<ellipse cx="575.94" cy="907.24" rx="86.79" ry="85.98" fill="#96ff69"/>
<ellipse cx="575.94" cy="907.25" rx="86.50" ry="85.68" fill="#ccff33"/>
<ellipse cx="575.94" cy="907.25" rx="86.21" ry="85.37" fill="#f1ff0e"/>
<ellipse cx="575.94" cy="907.26" rx="85.91" ry="85.06" fill="#ffff00"/>
<ellipse cx="575.94" cy="907.26" rx="85.62" ry="84.75" fill="#f2ff0d"/>
<ellipse cx="575.94" cy="907.27" rx="85.33" ry="84.45" fill="#cbff34"/>
<ellipse cx="575.94" cy="907.27" rx="85.04" ry="84.14" fill="#94ff6b"/>
<ellipse cx="575.94" cy="907.28" rx="84.74" ry="83.83" fill="#57ffa8"/>
<ellipse cx="575.94" cy="907.28" rx="84.45" ry="83.52" fill="#21ffde"/>
<ellipse cx="575.94" cy="907.28" rx="84.16" ry="83.21" fill="#00fcff"/>
<ellipse cx="575.94" cy="907.29" rx="83.87" ry="82.91" fill="#00f3ff"/>
<ellipse cx="575.93" cy="907.29" rx="83.57" ry="82.60" fill="#07fff8"/>
<ellipse cx="575.93" cy="907.30" rx="83.28" ry="82.29" fill="#36ffc9"/>
<ellipse cx="575.93" cy="907.30" rx="82.99" ry="81.98" fill="#74ff8b"/>
<ellipse cx="575.93" cy="907.31" rx="82.70" ry="81.68" fill="#b7ff48"/>
<ellipse cx="575.93" cy="907.31" rx="82.41" ry="81.37" fill="#efff10"/>
<ellipse cx="575.93" cy="907.31" rx="82.11" ry="81.06" fill="#ffec00"/>
<ellipse cx="575.93" cy="907.32" rx="81.82" ry="80.75" fill="#ffe700"/>
<ellipse cx="575.93" cy="907.32" rx="81.53" ry="80.45" fill="#feff01"/>
<ellipse cx="575.93" cy="907.33" rx="81.24" ry="80.14" fill="#ccff33"/>
<ellipse cx="575.93" cy="907.33" rx="80.94" ry="79.83" fill="#8cff73"/>
<ellipse cx="575.93" cy="907.34" rx="80.65" ry="79.52" fill="#4affb5"/>
<ellipse cx="575.93" cy="907.34" rx="80.36" ry="79.21" fill="#15ffea"/>
<ellipse cx="575.93" cy="907.35" rx="80.07" ry="78.91" fill="#00f6ff"/>
<ellipse cx="575.92" cy="907.35" rx="79.48" ry="78.29" fill="#12ffed"/>
<ellipse cx="575.92" cy="907.36" rx="79.19" ry="77.98" fill="#43ffbc"/>
<ellipse cx="575.92" cy="907.36" rx="78.90" ry="77.68" fill="#7fff80"/>
<ellipse cx="575.92" cy="907.37" rx="78.61" ry="77.37" fill="#baff45"/>
<ellipse cx="575.92" cy="907.37" rx="78.31" ry="77.06" fill="#e7ff18"/>
<ellipse cx="575.92" cy="907.38" rx="78.02" ry="76.75" fill="#feff01"/>
<ellipse cx="575.92" cy="907.38" rx="77.73" ry="76.45" fill="#f9ff06"/>
<ellipse cx="575.92" cy="907.39" rx="77.44" ry="76.14" fill="#dbff24"/>
<ellipse cx="575.92" cy="907.39" rx="77.14" ry="75.83" fill="#aaff55"/>
<ellipse cx="575.92" cy="907.39" rx="76.85" ry="75.52" fill="#70ff8f"/>
<ellipse cx="575.92" cy="907.40" rx="76.56" ry="75.21" fill="#39ffc6"/>
<ellipse cx="575.92" cy="907.40" rx="76.27" ry="74.91" fill="#11ffee"/>
<ellipse cx="575.92" cy="907.41" rx="75.97" ry="74.60" fill="#00ffff"/>
<ellipse cx="575.91" cy="907.41" rx="75.68" ry="74.29" fill="#09fff6"/>
<ellipse cx="575.91" cy="907.42" rx="75.39" ry="73.98" fill="#29ffd6"/>
<ellipse cx="575.91" cy="907.42" rx="75.10" ry="73.68" fill="#5affa5"/>
<ellipse cx="575.91" cy="907.42" rx="74.81" ry="73.37" fill="#91ff6e"/>
<ellipse cx="575.91" cy="907.43" rx="74.51" ry="73.06" fill="#c4ff3b"/>
<ellipse cx="575.91" cy="907.43" rx="74.22" ry="72.75" fill="#e6ff19"/>
<ellipse cx="575.91" cy="907.44" rx="73.93" ry="72.45" fill="#f2ff0d"/>
<ellipse cx="575.91" cy="907.44" rx="73.64" ry="72.14" fill="#e6ff19"/>
<ellipse cx="575.91" cy="907.45" rx="73.34" ry="71.83" fill="#c6ff39"/>
<ellipse cx="575.91" cy="907.45" rx="73.05" ry="71.52" fill="#99ff66"/>
<ellipse cx="575.91" cy="907.46" rx="72.76" ry="71.21" fill="#68ff97"/>
<ellipse cx="575.91" cy="907.46" rx="72.47" ry="70.91" fill="#3dffc2"/>
<ellipse cx="575.91" cy="907.46" rx="72.17" ry="70.60" fill="#21ffde"/>
<ellipse cx="575.91" cy="907.47" rx="71.88" ry="70.29" fill="#1affe5"/>
<ellipse cx="575.90" cy="907.47" rx="71.59" ry="69.98" fill="#28ffd7"/>
<ellipse cx="575.90" cy="907.48" rx="71.30" ry="69.68" fill="#47ffb8"/>
<ellipse cx="575.90" cy="907.48" rx="71.01" ry="69.37" fill="#70ff8f"/>
<ellipse cx="575.90" cy="907.49" rx="70.71" ry="69.06" fill="#9bff64"/>
<ellipse cx="575.90" cy="907.49" rx="70.42" ry="68.75" fill="#bfff40"/>
<ellipse cx="575.90" cy="907.50" rx="70.13" ry="68.45" fill="#d5ff2a"/>
<ellipse cx="575.90" cy="907.50" rx="69.84" ry="68.14" fill="#d7ff28"/>
<ellipse cx="575.90" cy="907.50" rx="69.54" ry="67.83" fill="#c8ff37"/>
<ellipse cx="575.90" cy="907.51" rx="69.25" ry="67.52" fill="#acff53"/>
<ellipse cx="575.90" cy="907.51" rx="68.96" ry="67.21" fill="#91ff6e"/>
<ellipse cx="575.90" cy="907.52" rx="68.67" ry="66.91" fill="#81ff7e"/></g><g filter="url(#blur)" mask="url(#mfs)"><ellipse cx="575.96" cy="907.16" rx="92.34" ry="91.83" fill="#57ffa8"/>
<ellipse cx="575.96" cy="907.17" rx="92.05" ry="91.52" fill="#45ffba"/>
<ellipse cx="575.96" cy="907.17" rx="91.76" ry="91.21" fill="#2fffd0"/>
<ellipse cx="575.95" cy="907.17" rx="91.47" ry="90.91" fill="#26ffd9"/>
<ellipse cx="575.95" cy="907.18" rx="91.17" ry="90.60" fill="#3bffc4"/>
<ellipse cx="575.95" cy="907.18" rx="90.88" ry="90.29" fill="#6bff94"/>
<ellipse cx="575.95" cy="907.19" rx="90.59" ry="89.98" fill="#a9ff56"/>
<ellipse cx="575.95" cy="907.19" rx="90.30" ry="89.68" fill="#dfff20"/>
<ellipse cx="575.95" cy="907.20" rx="90.01" ry="89.37" fill="#fdff02"/>
<ellipse cx="575.95" cy="907.20" rx="89.71" ry="89.06" fill="#fbff04"/>
<ellipse cx="575.95" cy="907.20" rx="89.42" ry="88.75" fill="#e5ff1a"/>
<ellipse cx="575.95" cy="907.21" rx="89.13" ry="88.45" fill="#c0ff3f"/>
<ellipse cx="575.95" cy="907.21" rx="88.84" ry="88.14" fill="#8fff70"/>
<ellipse cx="575.95" cy="907.22" rx="88.54" ry="87.83" fill="#59ffa6"/>
<ellipse cx="575.95" cy="907.22" rx="88.25" ry="87.52" fill="#26ffd9"/>
<ellipse cx="575.95" cy="907.23" rx="87.96" ry="87.21" fill="#00fbff"/>
<ellipse cx="575.94" cy="907.23" rx="87.67" ry="86.91" fill="#00e1ff"/>
<ellipse cx="575.94" cy="907.24" rx="87.37" ry="86.60" fill="#00d9ff"/>
<ellipse cx="575.94" cy="907.24" rx="87.08" ry="86.29" fill="#00eaff"/>
<ellipse cx="575.94" cy="907.24" rx="86.79" ry="85.98" fill="#15ffea"/>
<ellipse cx="575.94" cy="907.25" rx="86.50" ry="85.68" fill="#54ffab"/>
<ellipse cx="575.94" cy="907.25" rx="86.21" ry="85.37" fill="#9fff60"/>
<ellipse cx="575.94" cy="907.26" rx="85.91" ry="85.06" fill="#ebff14"/>
<ellipse cx="575.94" cy="907.26" rx="85.62" ry="84.75" fill="#ffcf00"/>
<ellipse cx="575.94" cy="907.27" rx="85.33" ry="84.45" fill="#ff9c00"/>
<ellipse cx="575.94" cy="907.27" rx="85.04" ry="84.14" fill="#ff8200"/>
<ellipse cx="575.94" cy="907.28" rx="84.74" ry="83.83" fill="#ff8000"/>
<ellipse cx="575.94" cy="907.28" rx="84.16" ry="83.21" fill="#ff8f00"/>
<ellipse cx="575.94" cy="907.29" rx="83.87" ry="82.91" fill="#e3ff1c"/>
<ellipse cx="575.93" cy="907.29" rx="83.57" ry="82.60" fill="#0afff5"/>
<ellipse cx="575.93" cy="907.30" rx="83.28" ry="82.29" fill="#0051ff"/>
<ellipse cx="575.93" cy="907.30" rx="82.99" ry="81.98" fill="#001aff"/>
<ellipse cx="575.93" cy="907.32" rx="81.53" ry="80.45" fill="#0067ff"/>
<ellipse cx="575.93" cy="907.33" rx="81.24" ry="80.14" fill="#48ffb7"/>
<ellipse cx="575.93" cy="907.33" rx="80.94" ry="79.83" fill="#ffb500"/>
<ellipse cx="575.93" cy="907.34" rx="80.65" ry="79.52" fill="#ff1a00"/>
<ellipse cx="575.93" cy="907.34" rx="80.36" ry="79.21" fill="#ff0d00"/>
<ellipse cx="575.92" cy="907.36" rx="79.19" ry="77.98" fill="#ff1a00"/>
<ellipse cx="575.92" cy="907.36" rx="78.90" ry="77.68" fill="#ffb600"/>
<ellipse cx="575.92" cy="907.37" rx="78.61" ry="77.37" fill="#47ffb8"/>
<ellipse cx="575.92" cy="907.37" rx="78.31" ry="77.06" fill="#0066ff"/>
<ellipse cx="575.92" cy="907.38" rx="78.02" ry="76.75" fill="#001aff"/>
<ellipse cx="575.92" cy="907.40" rx="76.56" ry="75.21" fill="#0053ff"/>
<ellipse cx="575.92" cy="907.40" rx="76.27" ry="74.91" fill="#10ffef"/>
<ellipse cx="575.92" cy="907.41" rx="75.97" ry="74.60" fill="#eeff11"/>
<ellipse cx="575.91" cy="907.41" rx="75.68" ry="74.29" fill="#ff8200"/>
<ellipse cx="575.91" cy="907.42" rx="75.39" ry="73.98" fill="#ff7300"/>
<ellipse cx="575.91" cy="907.42" rx="74.81" ry="73.37" fill="#ff7600"/>
<ellipse cx="575.91" cy="907.43" rx="74.51" ry="73.06" fill="#ff9100"/>
<ellipse cx="575.91" cy="907.43" rx="74.22" ry="72.75" fill="#ffc500"/>
<ellipse cx="575.91" cy="907.44" rx="73.93" ry="72.45" fill="#f3ff0c"/>
<ellipse cx="575.91" cy="907.44" rx="73.64" ry="72.14" fill="#a5ff5a"/>
<ellipse cx="575.91" cy="907.45" rx="73.34" ry="71.83" fill="#58ffa7"/>
<ellipse cx="575.91" cy="907.45" rx="73.05" ry="71.52" fill="#17ffe8"/>
<ellipse cx="575.91" cy="907.46" rx="72.76" ry="71.21" fill="#00eaff"/>
<ellipse cx="575.91" cy="907.46" rx="72.47" ry="70.91" fill="#00d9ff"/>
<ellipse cx="575.91" cy="907.46" rx="72.17" ry="70.60" fill="#00e1ff"/>
<ellipse cx="575.91" cy="907.47" rx="71.88" ry="70.29" fill="#00faff"/>
<ellipse cx="575.90" cy="907.47" rx="71.59" ry="69.98" fill="#23ffdc"/>
<ellipse cx="575.90" cy="907.48" rx="71.30" ry="69.68" fill="#54ffab"/>
<ellipse cx="575.90" cy="907.48" rx="71.01" ry="69.37" fill="#87ff78"/>
<ellipse cx="575.90" cy="907.49" rx="70.71" ry="69.06" fill="#b6ff49"/>
<ellipse cx="575.90" cy="907.49" rx="70.42" ry="68.75" fill="#daff25"/>
<ellipse cx="575.90" cy="907.50" rx="70.13" ry="68.45" fill="#efff10"/>
<ellipse cx="575.90" cy="907.50" rx="69.84" ry="68.14" fill="#f0ff0f"/>
<ellipse cx="575.90" cy="907.50" rx="69.54" ry="67.83" fill="#dcff23"/>
<ellipse cx="575.90" cy="907.51" rx="69.25" ry="67.52" fill="#b9ff46"/>
<ellipse cx="575.90" cy="907.51" rx="68.96" ry="67.21" fill="#96ff69"/>
<ellipse cx="575.90" cy="907.52" rx="68.67" ry="66.91" fill="#81ff7e"/></g></g></g>
<clipPath id="clipf"><rect x="468.25" y="800.50" width="214.25" height="214.80"/></clipPath>
<path d="M463.85 796.50H686.70" fill="none" stroke="#e2e2e2" stroke-width="1.5"/>
<path d="M686.70 796.50V1019.35" fill="none" stroke="#f4f4f4" stroke-width="1"/>
<path d="M463.85 795.70V1019.35H687.60" fill="none" stroke="#262626" stroke-width="1.7"/>
<path d="M463.85 1019.35h3.1" stroke="#262626" stroke-width="1.8"/>
<text x="456.05" y="1026.25" text-anchor="end" class="tk">0</text>
<path d="M463.85 974.78h3.1" stroke="#262626" stroke-width="1.8"/>
<path d="M686.70 974.78h-2.8" stroke="#d8d8d8" stroke-width="1.2"/>
<text x="456.05" y="981.68" text-anchor="end" class="tk">0.1</text>
<path d="M463.85 930.21h3.1" stroke="#262626" stroke-width="1.8"/>
<path d="M686.70 930.21h-2.8" stroke="#d8d8d8" stroke-width="1.2"/>
<text x="456.05" y="937.11" text-anchor="end" class="tk">0.2</text>
<path d="M463.85 885.64h3.1" stroke="#262626" stroke-width="1.8"/>
<path d="M686.70 885.64h-2.8" stroke="#d8d8d8" stroke-width="1.2"/>
<text x="456.05" y="892.54" text-anchor="end" class="tk">0.3</text>
<path d="M463.85 841.07h3.1" stroke="#262626" stroke-width="1.8"/>
<path d="M686.70 841.07h-2.8" stroke="#d8d8d8" stroke-width="1.2"/>
<text x="456.05" y="847.97" text-anchor="end" class="tk">0.4</text>
<path d="M463.85 796.50h3.1" stroke="#262626" stroke-width="1.8"/>
<text x="456.05" y="803.40" text-anchor="end" class="tk">0.5</text>
<path d="M463.85 1019.35v-3.1" stroke="#262626" stroke-width="1.8"/>
<text x="463.85" y="1044.65" text-anchor="middle" class="tk">0</text>
<path d="M552.99 1019.35v-3.1" stroke="#262626" stroke-width="1.8"/>
<path d="M552.99 796.50v2.8" stroke="#d8d8d8" stroke-width="1.2"/>
<text x="552.99" y="1044.65" text-anchor="middle" class="tk">0.2</text>
<path d="M642.13 1019.35v-3.1" stroke="#262626" stroke-width="1.8"/>
<path d="M642.13 796.50v2.8" stroke="#d8d8d8" stroke-width="1.2"/>
<text x="642.13" y="1044.65" text-anchor="middle" class="tk">0.4</text>
<text x="575.07" y="1069.75" text-anchor="middle" class="lb">x [m]</text>
<text transform="translate(421.95 908.52) rotate(-90)" text-anchor="middle" class="lb">y [m]</text>
<text x="575.27" y="791.80" text-anchor="middle" class="tt" textLength="121" lengthAdjust="spacingAndGlyphs">Time 0.15 [ms]</text>
<rect x="698.60" y="797.80" width="21.80" height="220.85" fill="url(#jet)" stroke="#262626" stroke-width="1"/>
<text x="726.20" y="805.00" class="tk">4</text>
<text x="726.20" y="860.21" class="tk">2</text>
<path d="M720.40 853.01h-2.6" stroke="#262626" stroke-width="1.1"/>
<text x="726.20" y="915.42" class="tk">0</text>
<path d="M720.40 908.22h-2.6" stroke="#262626" stroke-width="1.1"/>
<text x="726.20" y="970.64" class="tk">-2</text>
<path d="M720.40 963.44h-2.6" stroke="#262626" stroke-width="1.1"/>
<text x="726.20" y="1025.85" class="tk">-4</text>
<text x="721.70" y="789.10" class="tk"><tspan font-size="19" fill="#505050">×</tspan>10<tspan dy="-7.6" font-size="13.5">-3</tspan></text>
<text x="603.85" y="1114.90" text-anchor="middle" class="cp">(f) Second impact, 0.15 ms</text>
</svg></body></html>
